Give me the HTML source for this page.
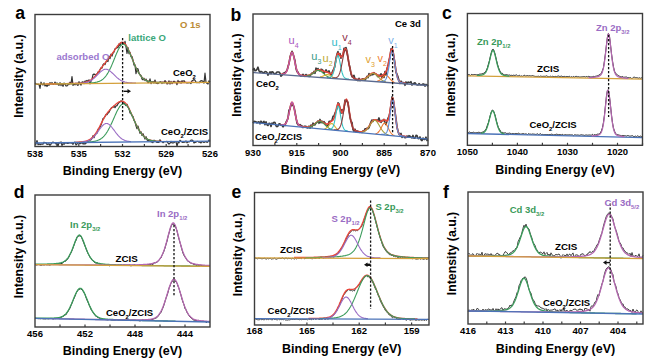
<!DOCTYPE html>
<html><head><meta charset="utf-8"><style>
html,body{margin:0;padding:0;background:#fff;}
svg{display:block;font-family:"Liberation Sans", sans-serif;}
</style></head><body>
<svg width="663" height="363" viewBox="0 0 663 363">
<rect width="663" height="363" fill="#fff"/>
<g>
<path d="M35.0,82.9 L36.0,83.7 L37.0,84.3 L38.0,84.1 L39.0,84.5 L40.0,88.3 L41.0,82.2 L42.0,84.3 L43.0,85.0 L44.0,82.8 L45.0,86.0 L46.0,84.8 L47.0,86.5 L48.0,84.4 L49.0,85.4 L50.0,82.5 L51.0,84.3 L52.0,82.5 L53.0,84.4 L54.0,84.2 L55.0,82.1 L56.0,84.5 L57.0,82.9 L58.0,84.5 L59.0,85.3 L60.0,82.6 L61.0,85.6 L62.0,83.6 L63.0,86.4 L64.0,83.0 L65.0,84.2 L66.0,86.0 L67.0,85.9 L68.0,84.5 L69.0,84.6 L70.0,82.2 L71.0,83.8 L72.0,76.6 L73.0,85.4 L74.0,84.0 L75.0,84.9 L76.0,83.1 L77.0,84.8 L78.0,85.4 L79.0,81.7 L80.0,84.1 L81.0,85.0 L82.0,82.1 L83.0,81.7 L84.0,83.6 L85.0,81.0 L86.0,81.2 L87.0,80.4 L88.0,81.4 L89.0,79.8 L90.0,83.8 L91.0,81.1 L92.0,79.2 L93.0,74.6 L94.0,74.1 L95.0,74.3 L96.0,75.5 L97.0,73.9 L98.0,71.9 L99.0,72.2 L100.0,69.6 L101.0,67.9 L102.0,68.2 L103.0,64.7 L104.0,63.7 L105.0,64.6 L106.0,61.9 L107.0,60.8 L108.0,61.5 L109.0,56.0 L110.0,58.7 L111.0,54.1 L112.0,56.1 L113.0,53.1 L114.0,52.1 L115.0,48.7 L116.0,48.4 L117.0,47.6 L118.0,47.6 L119.0,43.8 L120.0,45.6 L121.0,42.3 L122.0,42.9 L123.0,42.3 L124.0,44.1 L125.0,41.4 L126.0,46.7 L127.0,53.3 L128.0,47.7 L129.0,53.7 L130.0,52.3 L131.0,56.6 L132.0,56.5 L133.0,60.1 L134.0,65.1 L135.0,64.9 L136.0,73.6 L137.0,68.7 L138.0,68.8 L139.0,73.1 L140.0,74.7 L141.0,75.5 L142.0,79.0 L143.0,79.8 L144.0,78.3 L145.0,80.6 L146.0,79.1 L147.0,81.2 L148.0,82.6 L149.0,82.1 L150.0,78.8 L151.0,83.6 L152.0,82.0 L153.0,81.7 L154.0,83.1 L155.0,80.0 L156.0,83.2 L157.0,83.5 L158.0,83.6 L159.0,82.7 L160.0,81.9 L161.0,81.9 L162.0,83.5 L163.0,81.9 L164.0,83.1 L165.0,80.5 L166.0,81.8 L167.0,83.9 L168.0,83.6 L169.0,80.8 L170.0,84.1 L171.0,81.4 L172.0,83.6 L173.0,82.0 L174.0,81.1 L175.0,82.3 L176.0,82.0 L177.0,84.7 L178.0,80.4 L179.0,82.7 L180.0,81.5 L181.0,83.2 L182.0,80.7 L183.0,81.4 L184.0,80.6 L185.0,82.2 L186.0,82.4 L187.0,83.0 L188.0,82.9 L189.0,82.6 L190.0,82.7 L191.0,83.5 L192.0,80.8 L193.0,80.4 L194.0,79.5 L195.0,80.3 L196.0,82.0 L197.0,82.8 L198.0,82.2 L199.0,82.8 L200.0,81.5 L201.0,80.7 L202.0,80.9 L203.0,81.4 L204.0,83.1 L205.0,73.2 L206.0,82.3 L207.0,83.4 L208.0,84.0 L209.0,80.8 L210.0,82.1" stroke="#333" stroke-width="1.2" fill="none" stroke-linejoin="round"/>
<path d="M45.5,83.9 L46.0,83.9 L46.5,83.9 L47.0,83.9 L47.5,83.9 L48.0,83.9 L48.5,83.9 L49.0,83.9 L49.5,83.9 L50.0,83.9 L50.5,83.9 L51.0,83.9 L51.5,83.9 L52.0,83.8 L52.5,83.8 L53.0,83.8 L53.5,83.8 L54.0,83.8 L54.5,83.8 L55.0,83.8 L55.5,83.8 L56.0,83.8 L56.5,83.8 L57.0,83.8 L57.5,83.8 L58.0,83.7 L58.5,83.7 L59.0,83.7 L59.5,83.7 L60.0,83.7 L60.5,83.7 L61.0,83.7 L61.5,83.7 L62.0,83.7 L62.5,83.7 L63.0,83.7 L63.5,83.6 L64.0,83.6 L64.5,83.6 L65.0,83.6 L65.5,83.6 L66.0,83.6 L66.5,83.6 L67.0,83.6 L67.5,83.6 L68.0,83.5 L68.5,83.5 L69.0,83.5 L69.5,83.5 L70.0,83.5 L70.5,83.5 L71.0,83.5 L71.5,83.5 L72.0,83.4 L72.5,83.4 L73.0,83.4 L73.5,83.4 L74.0,83.4 L74.5,83.4 L75.0,83.4 L75.5,83.3 L76.0,83.3 L76.5,83.3 L77.0,83.3 L77.5,83.2 L78.0,83.2 L78.5,83.2 L79.0,83.2 L79.5,83.1 L80.0,83.1 L80.5,83.0 L81.0,83.0 L81.5,83.0 L82.0,82.9 L82.5,82.8 L83.0,82.8 L83.5,82.7 L84.0,82.6 L84.5,82.5 L85.0,82.4 L85.5,82.3 L86.0,82.1 L86.5,82.0 L87.0,81.8 L87.5,81.6 L88.0,81.4 L88.5,81.2 L89.0,81.0 L89.5,80.7 L90.0,80.4 L90.5,80.1 L91.0,79.8 L91.5,79.4 L92.0,79.1 L92.5,78.7 L93.0,78.2 L93.5,77.8 L94.0,77.3 L94.5,76.8 L95.0,76.2 L95.5,75.7 L96.0,75.1 L96.5,74.5 L97.0,73.9 L97.5,73.2 L98.0,72.6 L98.5,71.9 L99.0,71.2 L99.5,70.5 L100.0,69.8 L100.5,69.1 L101.0,68.4 L101.5,67.7 L102.0,67.0 L102.5,66.3 L103.0,65.6 L103.5,65.0 L104.0,64.3 L104.5,63.6 L105.0,63.0 L105.5,62.3 L106.0,61.7 L106.5,61.0 L107.0,60.4 L107.5,59.8 L108.0,59.1 L108.5,58.5 L109.0,57.9 L109.5,57.3 L110.0,56.6 L110.5,56.0 L111.0,55.3 L111.5,54.6 L112.0,53.9 L112.5,53.2 L113.0,52.5 L113.5,51.8 L114.0,51.1 L114.5,50.3 L115.0,49.6 L115.5,48.8 L116.0,48.1 L116.5,47.4 L117.0,46.7 L117.5,46.0 L118.0,45.4 L118.5,44.8 L119.0,44.2 L119.5,43.7 L120.0,43.3 L120.5,42.9 L121.0,42.7 L121.5,42.5 L122.0,42.4 L122.5,42.4 L123.0,42.4 L123.5,42.6 L124.0,42.9 L124.5,43.3 L125.0,43.8 L125.5,44.4 L126.0,45.1 L126.5,45.9 L127.0,46.7 L127.5,47.7 L128.0,48.7 L128.5,49.7 L129.0,50.8 L129.5,52.0 L130.0,53.2 L130.5,54.4 L131.0,55.6 L131.5,56.9 L132.0,58.1 L132.5,59.4 L133.0,60.6 L133.5,61.9 L134.0,63.1 L134.5,64.3 L135.0,65.4 L135.5,66.6 L136.0,67.6 L136.5,68.7 L137.0,69.7 L137.5,70.7 L138.0,71.6 L138.5,72.4 L139.0,73.3 L139.5,74.0 L140.0,74.8 L140.5,75.4 L141.0,76.1 L141.5,76.7 L142.0,77.2 L142.5,77.7 L143.0,78.2 L143.5,78.6 L144.0,79.0 L144.5,79.4 L145.0,79.7 L145.5,80.0 L146.0,80.2 L146.5,80.5 L147.0,80.7 L147.5,80.9 L148.0,81.1 L148.5,81.2 L149.0,81.4 L149.5,81.5 L150.0,81.6 L150.5,81.7 L151.0,81.8 L151.5,81.9 L152.0,81.9 L152.5,82.0 L153.0,82.0 L153.5,82.1 L154.0,82.1 L154.5,82.2 L155.0,82.2 L155.5,82.2 L156.0,82.3 L156.5,82.3 L157.0,82.3 L157.5,82.3 L158.0,82.3 L158.5,82.3 L159.0,82.4 L159.5,82.4 L160.0,82.4 L160.5,82.4 L161.0,82.4 L161.5,82.4 L162.0,82.4 L162.5,82.4 L163.0,82.4 L163.5,82.4 L164.0,82.4 L164.5,82.4 L165.0,82.4 L165.5,82.5 L166.0,82.5 L166.5,82.5 L167.0,82.5 L167.5,82.5 L168.0,82.5 L168.5,82.5 L169.0,82.5 L169.5,82.5 L170.0,82.5 L170.5,82.5 L171.0,82.5 L171.5,82.5 L172.0,82.5 L172.5,82.5 L173.0,82.5 L173.5,82.5 L174.0,82.5 L174.5,82.5 L175.0,82.5 L175.5,82.5 L176.0,82.5 L176.5,82.5 L177.0,82.5 L177.5,82.5 L178.0,82.5 L178.5,82.5 L179.0,82.5 L179.5,82.5 L180.0,82.5 L180.5,82.5 L181.0,82.5 L181.5,82.5 L182.0,82.5 L182.5,82.5 L183.0,82.5 L183.5,82.5 L184.0,82.5 L184.5,82.5 L185.0,82.5 L185.5,82.5 L186.0,82.5 L186.5,82.5 L187.0,82.4 L187.5,82.4 L188.0,82.4 L188.5,82.4 L189.0,82.4 L189.5,82.4 L190.0,82.4 L190.5,82.4 L191.0,82.4 L191.5,82.4 L192.0,82.4 L192.5,82.4 L193.0,82.4 L193.5,82.4 L194.0,82.4 L194.5,82.4" stroke="#e8473c" stroke-width="1.3" fill="none"/>
<path d="M56.0,83.8 L56.5,83.8 L57.0,83.8 L57.5,83.8 L58.0,83.8 L58.5,83.8 L59.0,83.8 L59.5,83.8 L60.0,83.8 L60.5,83.8 L61.0,83.8 L61.5,83.7 L62.0,83.7 L62.5,83.7 L63.0,83.7 L63.5,83.7 L64.0,83.7 L64.5,83.7 L65.0,83.7 L65.5,83.7 L66.0,83.7 L66.5,83.7 L67.0,83.7 L67.5,83.6 L68.0,83.6 L68.5,83.6 L69.0,83.6 L69.5,83.6 L70.0,83.6 L70.5,83.6 L71.0,83.6 L71.5,83.6 L72.0,83.6 L72.5,83.6 L73.0,83.5 L73.5,83.5 L74.0,83.5 L74.5,83.5 L75.0,83.5 L75.5,83.5 L76.0,83.5 L76.5,83.5 L77.0,83.5 L77.5,83.4 L78.0,83.4 L78.5,83.4 L79.0,83.4 L79.5,83.4 L80.0,83.4 L80.5,83.4 L81.0,83.4 L81.5,83.3 L82.0,83.3 L82.5,83.3 L83.0,83.3 L83.5,83.3 L84.0,83.3 L84.5,83.3 L85.0,83.2 L85.5,83.2 L86.0,83.2 L86.5,83.2 L87.0,83.2 L87.5,83.1 L88.0,83.1 L88.5,83.1 L89.0,83.1 L89.5,83.0 L90.0,83.0 L90.5,83.0 L91.0,82.9 L91.5,82.9 L92.0,82.9 L92.5,82.8 L93.0,82.8 L93.5,82.7 L94.0,82.6 L94.5,82.6 L95.0,82.5 L95.5,82.4 L96.0,82.3 L96.5,82.2 L97.0,82.1 L97.5,81.9 L98.0,81.8 L98.5,81.6 L99.0,81.4 L99.5,81.2 L100.0,81.0 L100.5,80.8 L101.0,80.5 L101.5,80.2 L102.0,79.8 L102.5,79.5 L103.0,79.1 L103.5,78.6 L104.0,78.2 L104.5,77.7 L105.0,77.1 L105.5,76.5 L106.0,75.9 L106.5,75.2 L107.0,74.4 L107.5,73.6 L108.0,72.8 L108.5,71.9 L109.0,71.0 L109.5,70.0 L110.0,69.0 L110.5,68.0 L111.0,66.9 L111.5,65.8 L112.0,64.6 L112.5,63.4 L113.0,62.2 L113.5,61.0 L114.0,59.7 L114.5,58.5 L115.0,57.3 L115.5,56.0 L116.0,54.8 L116.5,53.6 L117.0,52.5 L117.5,51.4 L118.0,50.3 L118.5,49.3 L119.0,48.4 L119.5,47.5 L120.0,46.7 L120.5,46.1 L121.0,45.5 L121.5,45.0 L122.0,44.7 L122.5,44.4 L123.0,44.3 L123.5,44.3 L124.0,44.4 L124.5,44.7 L125.0,45.0 L125.5,45.5 L126.0,46.1 L126.5,46.7 L127.0,47.5 L127.5,48.3 L128.0,49.3 L128.5,50.3 L129.0,51.3 L129.5,52.4 L130.0,53.6 L130.5,54.8 L131.0,56.0 L131.5,57.2 L132.0,58.4 L132.5,59.6 L133.0,60.9 L133.5,62.1 L134.0,63.3 L134.5,64.5 L135.0,65.6 L135.5,66.7 L136.0,67.8 L136.5,68.8 L137.0,69.8 L137.5,70.8 L138.0,71.7 L138.5,72.6 L139.0,73.4 L139.5,74.2 L140.0,74.9 L140.5,75.6 L141.0,76.2 L141.5,76.8 L142.0,77.3 L142.5,77.8 L143.0,78.3 L143.5,78.7 L144.0,79.1 L144.5,79.4 L145.0,79.8 L145.5,80.1 L146.0,80.3 L146.5,80.6 L147.0,80.8 L147.5,81.0 L148.0,81.1 L148.5,81.3 L149.0,81.4 L149.5,81.6 L150.0,81.7 L150.5,81.8 L151.0,81.8 L151.5,81.9 L152.0,82.0 L152.5,82.0 L153.0,82.1 L153.5,82.1 L154.0,82.2 L154.5,82.2 L155.0,82.3 L155.5,82.3 L156.0,82.3 L156.5,82.3 L157.0,82.3 L157.5,82.4 L158.0,82.4 L158.5,82.4 L159.0,82.4 L159.5,82.4 L160.0,82.4 L160.5,82.4 L161.0,82.4 L161.5,82.5 L162.0,82.5 L162.5,82.5 L163.0,82.5 L163.5,82.5 L164.0,82.5 L164.5,82.5 L165.0,82.5 L165.5,82.5 L166.0,82.5 L166.5,82.5 L167.0,82.5 L167.5,82.5 L168.0,82.5 L168.5,82.5 L169.0,82.5 L169.5,82.5 L170.0,82.5 L170.5,82.5 L171.0,82.5 L171.5,82.5 L172.0,82.5 L172.5,82.5 L173.0,82.5 L173.5,82.5 L174.0,82.5 L174.5,82.5 L175.0,82.5 L175.5,82.5 L176.0,82.5 L176.5,82.5 L177.0,82.5 L177.5,82.5 L178.0,82.5 L178.5,82.5 L179.0,82.5 L179.5,82.5 L180.0,82.5 L180.5,82.5 L181.0,82.5 L181.5,82.5 L182.0,82.5 L182.5,82.5 L183.0,82.5 L183.5,82.5 L184.0,82.5 L184.5,82.5 L185.0,82.5 L185.5,82.5 L186.0,82.5 L186.5,82.5 L187.0,82.5 L187.5,82.5 L188.0,82.5 L188.5,82.5 L189.0,82.5 L189.5,82.5 L190.0,82.5 L190.5,82.4" stroke="#3c9c5c" stroke-width="1.1" fill="none"/>
<path d="M75.5,83.6 L76.0,83.6 L76.5,83.6 L77.0,83.6 L77.5,83.6 L78.0,83.5 L78.5,83.5 L79.0,83.5 L79.5,83.5 L80.0,83.4 L80.5,83.4 L81.0,83.4 L81.5,83.3 L82.0,83.3 L82.5,83.2 L83.0,83.2 L83.5,83.1 L84.0,83.0 L84.5,82.9 L85.0,82.8 L85.5,82.7 L86.0,82.6 L86.5,82.5 L87.0,82.3 L87.5,82.2 L88.0,82.0 L88.5,81.8 L89.0,81.6 L89.5,81.3 L90.0,81.1 L90.5,80.8 L91.0,80.5 L91.5,80.2 L92.0,79.8 L92.5,79.4 L93.0,79.1 L93.5,78.7 L94.0,78.2 L94.5,77.8 L95.0,77.3 L95.5,76.8 L96.0,76.4 L96.5,75.9 L97.0,75.4 L97.5,74.8 L98.0,74.3 L98.5,73.8 L99.0,73.3 L99.5,72.8 L100.0,72.4 L100.5,71.9 L101.0,71.5 L101.5,71.1 L102.0,70.7 L102.5,70.4 L103.0,70.1 L103.5,69.8 L104.0,69.6 L104.5,69.4 L105.0,69.3 L105.5,69.3 L106.0,69.3 L106.5,69.3 L107.0,69.4 L107.5,69.6 L108.0,69.8 L108.5,70.0 L109.0,70.3 L109.5,70.7 L110.0,71.0 L110.5,71.4 L111.0,71.8 L111.5,72.3 L112.0,72.8 L112.5,73.2 L113.0,73.7 L113.5,74.2 L114.0,74.7 L114.5,75.2 L115.0,75.7 L115.5,76.2 L116.0,76.7 L116.5,77.1 L117.0,77.6 L117.5,78.0 L118.0,78.4 L118.5,78.8 L119.0,79.2 L119.5,79.6 L120.0,79.9 L120.5,80.2 L121.0,80.5 L121.5,80.8 L122.0,81.0 L122.5,81.2 L123.0,81.4 L123.5,81.6 L124.0,81.8 L124.5,81.9 L125.0,82.1 L125.5,82.2 L126.0,82.3 L126.5,82.4 L127.0,82.5 L127.5,82.6 L128.0,82.6 L128.5,82.7 L129.0,82.8 L129.5,82.8 L130.0,82.8 L130.5,82.9 L131.0,82.9 L131.5,82.9 L132.0,82.9 L132.5,83.0 L133.0,83.0 L133.5,83.0 L134.0,83.0 L134.5,83.0 L135.0,83.0 L135.5,83.0 L136.0,83.0" stroke="#9a6cc4" stroke-width="1.1" fill="none"/>
<path d="M35.0,84.2 L210.0,82.4" stroke="#d4a13c" stroke-width="1.3" fill="none"/>
<path d="M35.0,144.3 L36.0,144.2 L37.0,140.5 L38.0,144.7 L39.0,143.8 L40.0,144.6 L41.0,144.1 L42.0,144.0 L43.0,144.1 L44.0,142.2 L45.0,142.7 L46.0,142.6 L47.0,144.5 L48.0,144.1 L49.0,143.9 L50.0,145.3 L51.0,144.2 L52.0,142.7 L53.0,142.0 L54.0,142.7 L55.0,142.5 L56.0,144.0 L57.0,142.9 L58.0,146.4 L59.0,142.4 L60.0,142.9 L61.0,141.8 L62.0,145.6 L63.0,143.6 L64.0,144.3 L65.0,143.2 L66.0,142.5 L67.0,143.4 L68.0,143.4 L69.0,142.7 L70.0,142.8 L71.0,142.9 L72.0,143.2 L73.0,144.3 L74.0,142.7 L75.0,141.9 L76.0,145.0 L77.0,144.0 L78.0,142.5 L79.0,143.2 L80.0,143.6 L81.0,143.4 L82.0,142.2 L83.0,144.0 L84.0,143.6 L85.0,144.0 L86.0,143.2 L87.0,141.8 L88.0,141.3 L89.0,140.8 L90.0,140.3 L91.0,139.8 L92.0,138.5 L93.0,135.6 L94.0,137.7 L95.0,134.9 L96.0,133.8 L97.0,133.2 L98.0,129.4 L99.0,128.5 L100.0,127.2 L101.0,125.0 L102.0,122.0 L103.0,118.6 L104.0,118.0 L105.0,116.4 L106.0,114.4 L107.0,114.6 L108.0,113.1 L109.0,112.2 L110.0,110.1 L111.0,108.5 L112.0,107.3 L113.0,107.3 L114.0,106.0 L115.0,107.7 L116.0,105.9 L117.0,105.7 L118.0,103.8 L119.0,102.6 L120.0,102.0 L121.0,100.8 L122.0,101.4 L123.0,103.9 L124.0,102.7 L125.0,104.5 L126.0,105.5 L127.0,104.3 L128.0,107.0 L129.0,108.5 L130.0,112.9 L131.0,113.4 L132.0,115.8 L133.0,116.5 L134.0,120.5 L135.0,121.8 L136.0,125.9 L137.0,128.7 L138.0,126.1 L139.0,129.7 L140.0,133.3 L141.0,131.7 L142.0,135.5 L143.0,133.7 L144.0,136.2 L145.0,139.1 L146.0,136.6 L147.0,139.8 L148.0,140.7 L149.0,140.6 L150.0,140.4 L151.0,141.7 L152.0,142.1 L153.0,142.6 L154.0,140.1 L155.0,140.9 L156.0,141.6 L157.0,142.5 L158.0,142.3 L159.0,142.3 L160.0,139.7 L161.0,141.5 L162.0,141.6 L163.0,142.7 L164.0,141.8 L165.0,141.5 L166.0,141.6 L167.0,141.4 L168.0,143.0 L169.0,144.1 L170.0,143.3 L171.0,141.4 L172.0,142.9 L173.0,142.8 L174.0,142.6 L175.0,141.7 L176.0,141.5 L177.0,146.4 L178.0,142.4 L179.0,142.8 L180.0,140.3 L181.0,141.1 L182.0,142.1 L183.0,142.5 L184.0,142.0 L185.0,142.1 L186.0,141.0 L187.0,142.8 L188.0,141.7 L189.0,141.9 L190.0,141.4 L191.0,140.2 L192.0,140.1 L193.0,140.8 L194.0,142.9 L195.0,142.5 L196.0,142.1 L197.0,141.4 L198.0,141.5 L199.0,142.2 L200.0,142.2 L201.0,142.9 L202.0,141.5 L203.0,141.9 L204.0,142.5 L205.0,142.0 L206.0,141.5 L207.0,142.4 L208.0,141.8 L209.0,140.0 L210.0,141.3" stroke="#333" stroke-width="1.2" fill="none" stroke-linejoin="round"/>
<path d="M76.0,142.2 L76.5,142.2 L77.0,142.1 L77.5,142.1 L78.0,142.1 L78.5,142.1 L79.0,142.0 L79.5,142.0 L80.0,142.0 L80.5,141.9 L81.0,141.9 L81.5,141.9 L82.0,141.8 L82.5,141.8 L83.0,141.7 L83.5,141.6 L84.0,141.5 L84.5,141.4 L85.0,141.3 L85.5,141.2 L86.0,141.1 L86.5,140.9 L87.0,140.8 L87.5,140.6 L88.0,140.4 L88.5,140.2 L89.0,139.9 L89.5,139.6 L90.0,139.3 L90.5,139.0 L91.0,138.6 L91.5,138.2 L92.0,137.8 L92.5,137.3 L93.0,136.8 L93.5,136.2 L94.0,135.6 L94.5,135.0 L95.0,134.3 L95.5,133.6 L96.0,132.9 L96.5,132.1 L97.0,131.3 L97.5,130.4 L98.0,129.5 L98.5,128.6 L99.0,127.7 L99.5,126.8 L100.0,125.8 L100.5,124.8 L101.0,123.9 L101.5,122.9 L102.0,121.9 L102.5,121.0 L103.0,120.0 L103.5,119.1 L104.0,118.2 L104.5,117.3 L105.0,116.4 L105.5,115.6 L106.0,114.8 L106.5,114.0 L107.0,113.3 L107.5,112.6 L108.0,112.0 L108.5,111.4 L109.0,110.8 L109.5,110.2 L110.0,109.7 L110.5,109.1 L111.0,108.6 L111.5,108.1 L112.0,107.7 L112.5,107.2 L113.0,106.7 L113.5,106.3 L114.0,105.8 L114.5,105.4 L115.0,104.9 L115.5,104.5 L116.0,104.1 L116.5,103.7 L117.0,103.3 L117.5,102.9 L118.0,102.6 L118.5,102.2 L119.0,101.9 L119.5,101.7 L120.0,101.5 L120.5,101.3 L121.0,101.2 L121.5,101.1 L122.0,101.1 L122.5,101.2 L123.0,101.3 L123.5,101.5 L124.0,101.8 L124.5,102.2 L125.0,102.6 L125.5,103.1 L126.0,103.7 L126.5,104.4 L127.0,105.1 L127.5,105.9 L128.0,106.7 L128.5,107.6 L129.0,108.6 L129.5,109.6 L130.0,110.6 L130.5,111.7 L131.0,112.8 L131.5,113.9 L132.0,115.0 L132.5,116.2 L133.0,117.3 L133.5,118.5 L134.0,119.6 L134.5,120.7 L135.0,121.9 L135.5,123.0 L136.0,124.1 L136.5,125.1 L137.0,126.1 L137.5,127.1 L138.0,128.1 L138.5,129.0 L139.0,129.9 L139.5,130.7 L140.0,131.5 L140.5,132.3 L141.0,133.0 L141.5,133.7 L142.0,134.3 L142.5,134.9 L143.0,135.5 L143.5,136.0 L144.0,136.5 L144.5,137.0 L145.0,137.4 L145.5,137.8 L146.0,138.1 L146.5,138.5 L147.0,138.7 L147.5,139.0 L148.0,139.3 L148.5,139.5 L149.0,139.7 L149.5,139.9 L150.0,140.0 L150.5,140.2 L151.0,140.3 L151.5,140.4 L152.0,140.5 L152.5,140.6 L153.0,140.7 L153.5,140.8 L154.0,140.9 L154.5,140.9 L155.0,141.0 L155.5,141.0 L156.0,141.1 L156.5,141.1 L157.0,141.1 L157.5,141.2 L158.0,141.2 L158.5,141.2 L159.0,141.2 L159.5,141.2 L160.0,141.2 L160.5,141.3 L161.0,141.3 L161.5,141.3 L162.0,141.3" stroke="#e8473c" stroke-width="1.3" fill="none"/>
<path d="M87.0,142.1 L87.5,142.0 L88.0,142.0 L88.5,142.0 L89.0,142.0 L89.5,141.9 L90.0,141.9 L90.5,141.8 L91.0,141.8 L91.5,141.7 L92.0,141.7 L92.5,141.6 L93.0,141.6 L93.5,141.5 L94.0,141.4 L94.5,141.3 L95.0,141.2 L95.5,141.1 L96.0,141.0 L96.5,140.8 L97.0,140.7 L97.5,140.5 L98.0,140.3 L98.5,140.1 L99.0,139.9 L99.5,139.6 L100.0,139.4 L100.5,139.0 L101.0,138.7 L101.5,138.4 L102.0,138.0 L102.5,137.5 L103.0,137.1 L103.5,136.6 L104.0,136.1 L104.5,135.5 L105.0,134.9 L105.5,134.3 L106.0,133.6 L106.5,132.8 L107.0,132.1 L107.5,131.3 L108.0,130.4 L108.5,129.5 L109.0,128.6 L109.5,127.7 L110.0,126.7 L110.5,125.6 L111.0,124.6 L111.5,123.5 L112.0,122.4 L112.5,121.3 L113.0,120.2 L113.5,119.0 L114.0,117.9 L114.5,116.8 L115.0,115.6 L115.5,114.5 L116.0,113.4 L116.5,112.3 L117.0,111.3 L117.5,110.3 L118.0,109.4 L118.5,108.5 L119.0,107.7 L119.5,106.9 L120.0,106.2 L120.5,105.6 L121.0,105.1 L121.5,104.6 L122.0,104.3 L122.5,104.0 L123.0,103.8 L123.5,103.8 L124.0,103.8 L124.5,104.0 L125.0,104.2 L125.5,104.5 L126.0,105.0 L126.5,105.5 L127.0,106.1 L127.5,106.7 L128.0,107.5 L128.5,108.3 L129.0,109.2 L129.5,110.1 L130.0,111.1 L130.5,112.1 L131.0,113.2 L131.5,114.3 L132.0,115.4 L132.5,116.5 L133.0,117.6 L133.5,118.7 L134.0,119.9 L134.5,121.0 L135.0,122.1 L135.5,123.2 L136.0,124.2 L136.5,125.3 L137.0,126.3 L137.5,127.3 L138.0,128.2 L138.5,129.2 L139.0,130.0 L139.5,130.9 L140.0,131.7 L140.5,132.4 L141.0,133.2 L141.5,133.8 L142.0,134.5 L142.5,135.1 L143.0,135.6 L143.5,136.1 L144.0,136.6 L144.5,137.1 L145.0,137.5 L145.5,137.9 L146.0,138.2 L146.5,138.6 L147.0,138.8 L147.5,139.1 L148.0,139.4 L148.5,139.6 L149.0,139.8 L149.5,140.0 L150.0,140.1 L150.5,140.3 L151.0,140.4 L151.5,140.5 L152.0,140.6 L152.5,140.7 L153.0,140.8 L153.5,140.9 L154.0,140.9 L154.5,141.0 L155.0,141.0 L155.5,141.1 L156.0,141.1 L156.5,141.2 L157.0,141.2 L157.5,141.2 L158.0,141.2 L158.5,141.3 L159.0,141.3 L159.5,141.3 L160.0,141.3" stroke="#3c9c5c" stroke-width="1.1" fill="none"/>
<path d="M82.0,142.1 L82.5,142.1 L83.0,142.0 L83.5,141.9 L84.0,141.9 L84.5,141.8 L85.0,141.7 L85.5,141.6 L86.0,141.5 L86.5,141.3 L87.0,141.2 L87.5,141.0 L88.0,140.8 L88.5,140.6 L89.0,140.4 L89.5,140.2 L90.0,139.9 L90.5,139.6 L91.0,139.2 L91.5,138.9 L92.0,138.5 L92.5,138.1 L93.0,137.6 L93.5,137.1 L94.0,136.6 L94.5,136.0 L95.0,135.5 L95.5,134.9 L96.0,134.2 L96.5,133.6 L97.0,132.9 L97.5,132.3 L98.0,131.6 L98.5,130.9 L99.0,130.2 L99.5,129.5 L100.0,128.8 L100.5,128.1 L101.0,127.5 L101.5,126.8 L102.0,126.3 L102.5,125.7 L103.0,125.2 L103.5,124.8 L104.0,124.4 L104.5,124.1 L105.0,123.8 L105.5,123.6 L106.0,123.5 L106.5,123.5 L107.0,123.5 L107.5,123.6 L108.0,123.8 L108.5,124.1 L109.0,124.4 L109.5,124.8 L110.0,125.2 L110.5,125.7 L111.0,126.3 L111.5,126.8 L112.0,127.5 L112.5,128.1 L113.0,128.8 L113.5,129.4 L114.0,130.1 L114.5,130.8 L115.0,131.5 L115.5,132.2 L116.0,132.9 L116.5,133.5 L117.0,134.1 L117.5,134.7 L118.0,135.3 L118.5,135.9 L119.0,136.4 L119.5,136.9 L120.0,137.4 L120.5,137.8 L121.0,138.2 L121.5,138.6 L122.0,139.0 L122.5,139.3 L123.0,139.6 L123.5,139.8 L124.0,140.1 L124.5,140.3 L125.0,140.5 L125.5,140.7 L126.0,140.8 L126.5,141.0 L127.0,141.1 L127.5,141.2 L128.0,141.3 L128.5,141.3 L129.0,141.4 L129.5,141.5 L130.0,141.5 L130.5,141.6 L131.0,141.6" stroke="#9a6cc4" stroke-width="1.1" fill="none"/>
<path d="M35.0,143.0 L210.0,141.2" stroke="#4b73b8" stroke-width="1.3" fill="none"/>
<path d="M122.6,38.0 L122.6,120.0" stroke="#111" stroke-width="1.3" stroke-dasharray="2.2,1.8" fill="none"/>
<path d="M123.5,91.3 L129.0,91.3" stroke="#111" stroke-width="1.4" fill="none"/>
<path d="M131.0,91.3 L127.5,89.0 L127.5,93.6 Z" fill="#111"/>
<rect x="35" y="14.5" width="175" height="132.0" fill="none" stroke="#3c3c3c" stroke-width="1.4"/>
<path d="M56.9,146.5 L56.9,144.0" stroke="#3c3c3c" stroke-width="1.2"/>
<path d="M78.8,146.5 L78.8,144.0" stroke="#3c3c3c" stroke-width="1.2"/>
<path d="M100.6,146.5 L100.6,144.0" stroke="#3c3c3c" stroke-width="1.2"/>
<path d="M122.5,146.5 L122.5,144.0" stroke="#3c3c3c" stroke-width="1.2"/>
<path d="M144.4,146.5 L144.4,144.0" stroke="#3c3c3c" stroke-width="1.2"/>
<path d="M166.2,146.5 L166.2,144.0" stroke="#3c3c3c" stroke-width="1.2"/>
<path d="M188.1,146.5 L188.1,144.0" stroke="#3c3c3c" stroke-width="1.2"/>
<text x="35.0" y="157.0" font-size="9.5" fill="#000" font-weight="bold" text-anchor="middle" >538</text>
<text x="78.8" y="157.0" font-size="9.5" fill="#000" font-weight="bold" text-anchor="middle" >535</text>
<text x="122.5" y="157.0" font-size="9.5" fill="#000" font-weight="bold" text-anchor="middle" >532</text>
<text x="166.2" y="157.0" font-size="9.5" fill="#000" font-weight="bold" text-anchor="middle" >529</text>
<text x="210.0" y="157.0" font-size="9.5" fill="#000" font-weight="bold" text-anchor="middle" >526</text>
<text x="122.5" y="175.0" font-size="12.5" fill="#000" font-weight="bold" text-anchor="middle" >Binding Energy (eV)</text>
<text x="0.0" y="0.0" font-size="12.3" fill="#000" font-weight="bold" text-anchor="middle" transform="translate(23.0,76.1) rotate(-90)">Intensity (a.u.)</text>
<text x="15.2" y="19.0" font-size="17.6" fill="#000" font-weight="bold" text-anchor="start" >a</text>
<text x="180.0" y="28.0" font-size="9.5" fill="#bb8b34" font-weight="bold" text-anchor="start" >O 1s</text>
<text x="128.3" y="40.5" font-size="9.5" fill="#3aa77a" font-weight="bold" text-anchor="start" >lattice O</text>
<text x="56.5" y="59.8" font-size="9.5" fill="#9b78cf" font-weight="bold" text-anchor="start" >adsorbed O</text>
<text x="173.0" y="75.8" font-size="9.5" fill="#000" font-weight="bold" text-anchor="start" >CeO<tspan font-size="5.89" dy="3.0">2</tspan></text>
<text x="161.0" y="134.5" font-size="9.5" fill="#000" font-weight="bold" text-anchor="start" >CeO<tspan font-size="5.89" dy="3.0">2</tspan><tspan dy="-3.0">/ZCIS</tspan></text>
</g>
<g>
<path d="M253.0,70.3 L254.0,68.4 L255.0,70.8 L256.0,70.5 L257.0,69.2 L258.0,67.1 L259.0,70.9 L260.0,72.4 L261.0,71.4 L262.0,72.1 L263.0,72.5 L264.0,73.2 L265.0,71.6 L266.0,71.7 L267.0,72.5 L268.0,75.2 L269.0,73.5 L270.0,71.8 L271.0,73.9 L272.0,71.7 L273.0,72.1 L274.0,73.7 L275.0,73.6 L276.0,73.2 L277.0,72.0 L278.0,72.0 L279.0,72.0 L280.0,73.3 L281.0,76.3 L282.0,75.3 L283.0,73.4 L284.0,72.9 L285.0,72.5 L286.0,71.5 L287.0,70.5 L288.0,66.5 L289.0,63.5 L290.0,57.3 L291.0,53.7 L292.0,51.3 L293.0,53.6 L294.0,57.1 L295.0,60.8 L296.0,68.4 L297.0,71.8 L298.0,72.1 L299.0,74.4 L300.0,75.3 L301.0,76.0 L302.0,75.4 L303.0,74.4 L304.0,75.4 L305.0,76.3 L306.0,74.5 L307.0,76.1 L308.0,75.3 L309.0,76.5 L310.0,76.2 L311.0,74.4 L312.0,73.1 L313.0,73.5 L314.0,71.4 L315.0,73.4 L316.0,68.1 L317.0,70.0 L318.0,68.5 L319.0,70.5 L320.0,70.9 L321.0,69.2 L322.0,69.6 L323.0,70.4 L324.0,73.3 L325.0,72.0 L326.0,69.8 L327.0,72.2 L328.0,71.4 L329.0,70.9 L330.0,73.6 L331.0,75.3 L332.0,72.7 L333.0,70.3 L334.0,68.7 L335.0,65.4 L336.0,58.1 L337.0,54.1 L338.0,51.6 L339.0,55.1 L340.0,53.7 L341.0,58.3 L342.0,55.9 L343.0,55.2 L344.0,48.3 L345.0,48.4 L346.0,47.5 L347.0,51.3 L348.0,57.2 L349.0,64.0 L350.0,67.2 L351.0,74.0 L352.0,76.6 L353.0,76.5 L354.0,75.4 L355.0,78.8 L356.0,79.5 L357.0,79.6 L358.0,80.7 L359.0,78.3 L360.0,80.7 L361.0,79.6 L362.0,79.4 L363.0,78.7 L364.0,79.2 L365.0,80.1 L366.0,78.5 L367.0,76.3 L368.0,77.7 L369.0,73.5 L370.0,75.6 L371.0,74.8 L372.0,74.6 L373.0,74.6 L374.0,72.7 L375.0,74.0 L376.0,74.0 L377.0,75.7 L378.0,76.6 L379.0,75.1 L380.0,76.4 L381.0,73.8 L382.0,77.7 L383.0,74.7 L384.0,77.4 L385.0,71.5 L386.0,74.6 L387.0,68.6 L388.0,65.8 L389.0,60.2 L390.0,57.3 L391.0,48.8 L392.0,48.6 L393.0,51.3 L394.0,58.0 L395.0,63.8 L396.0,72.4 L397.0,74.2 L398.0,76.9 L399.0,80.5 L400.0,83.4 L401.0,81.1 L402.0,82.5 L403.0,82.6 L404.0,82.8 L405.0,85.3 L406.0,81.9 L407.0,83.7 L408.0,82.1 L409.0,82.5 L410.0,82.5 L411.0,81.7 L412.0,85.1 L413.0,83.9 L414.0,83.3 L415.0,82.8 L416.0,84.2 L417.0,84.7 L418.0,85.0 L419.0,83.6 L420.0,84.6 L421.0,84.8 L422.0,84.5 L423.0,84.1 L424.0,84.1 L425.0,86.2 L426.0,84.4 L427.0,84.9 L428.0,86.3" stroke="#3a3a3a" stroke-width="1.6" fill="none" stroke-linejoin="round"/>
<path d="M281.0,74.2 L281.5,74.2 L282.0,74.1 L282.5,74.1 L283.0,74.1 L283.5,74.0 L284.0,73.9 L284.5,73.7 L285.0,73.4 L285.5,73.0 L286.0,72.3 L286.5,71.5 L287.0,70.4 L287.5,69.0 L288.0,67.3 L288.5,65.3 L289.0,63.0 L289.5,60.6 L290.0,58.2 L290.5,55.9 L291.0,54.1 L291.5,52.8 L292.0,52.3 L292.5,52.6 L293.0,53.7 L293.5,55.5 L294.0,57.7 L294.5,60.1 L295.0,62.6 L295.5,65.0 L296.0,67.2 L296.5,69.1 L297.0,70.6 L297.5,71.9 L298.0,72.9 L298.5,73.7 L299.0,74.2 L299.5,74.6 L300.0,74.9 L300.5,75.1 L301.0,75.3 L301.5,75.4 L302.0,75.5 L302.5,75.5 L303.0,75.6 L303.5,75.6 L304.0,75.7 L304.5,75.7 L305.0,75.7 L305.5,75.7 L306.0,75.7 L306.5,75.7 L307.0,75.6 L307.5,75.6 L308.0,75.5 L308.5,75.3 L309.0,75.2 L309.5,75.0 L310.0,74.8 L310.5,74.6 L311.0,74.3 L311.5,74.0 L312.0,73.7 L312.5,73.3 L313.0,73.0 L313.5,72.6 L314.0,72.2 L314.5,71.8 L315.0,71.4 L315.5,71.1 L316.0,70.8 L316.5,70.5 L317.0,70.2 L317.5,70.0 L318.0,69.9 L318.5,69.8 L319.0,69.8 L319.5,69.8 L320.0,69.9 L320.5,70.0 L321.0,70.2 L321.5,70.4 L322.0,70.6 L322.5,70.8 L323.0,70.9 L323.5,71.1 L324.0,71.2 L324.5,71.4 L325.0,71.5 L325.5,71.7 L326.0,71.8 L326.5,71.9 L327.0,72.1 L327.5,72.3 L328.0,72.5 L328.5,72.7 L329.0,73.0 L329.5,73.2 L330.0,73.5 L330.5,73.6 L331.0,73.7 L331.5,73.6 L332.0,73.3 L332.5,72.7 L333.0,71.8 L333.5,70.6 L334.0,69.0 L334.5,67.0 L335.0,64.7 L335.5,62.2 L336.0,59.7 L336.5,57.3 L337.0,55.3 L337.5,53.9 L338.0,53.2 L338.5,53.2 L339.0,53.8 L339.5,54.7 L340.0,55.7 L340.5,56.5 L341.0,56.9 L341.5,56.9 L342.0,56.3 L342.5,55.2 L343.0,53.8 L343.5,52.2 L344.0,50.7 L344.5,49.5 L345.0,48.7 L345.5,48.7 L346.0,49.4 L346.5,50.8 L347.0,52.9 L347.5,55.4 L348.0,58.1 L348.5,61.0 L349.0,63.8 L349.5,66.4 L350.0,68.9 L350.5,71.0 L351.0,72.8 L351.5,74.3 L352.0,75.5 L352.5,76.5 L353.0,77.2 L353.5,77.8 L354.0,78.2 L354.5,78.5 L355.0,78.8 L355.5,78.9 L356.0,79.1 L356.5,79.2 L357.0,79.3 L357.5,79.4 L358.0,79.4 L358.5,79.5 L359.0,79.5 L359.5,79.6 L360.0,79.6 L360.5,79.6 L361.0,79.6 L361.5,79.5 L362.0,79.4 L362.5,79.4 L363.0,79.2 L363.5,79.1 L364.0,78.9 L364.5,78.7 L365.0,78.5 L365.5,78.2 L366.0,77.9 L366.5,77.5 L367.0,77.1 L367.5,76.7 L368.0,76.3 L368.5,75.9 L369.0,75.4 L369.5,75.0 L370.0,74.6 L370.5,74.2 L371.0,73.8 L371.5,73.5 L372.0,73.3 L372.5,73.1 L373.0,73.0 L373.5,73.0 L374.0,73.1 L374.5,73.2 L375.0,73.4 L375.5,73.7 L376.0,74.0 L376.5,74.3 L377.0,74.7 L377.5,75.0 L378.0,75.3 L378.5,75.6 L379.0,75.8 L379.5,76.0 L380.0,76.1 L380.5,76.1 L381.0,76.0 L381.5,75.8 L382.0,75.6 L382.5,75.3 L383.0,74.9 L383.5,74.5 L384.0,74.0 L384.5,73.5 L385.0,72.9 L385.5,72.2 L386.0,71.4 L386.5,70.4 L387.0,69.2 L387.5,67.6 L388.0,65.7 L388.5,63.4 L389.0,60.8 L389.5,58.0 L390.0,55.2 L390.5,52.7 L391.0,50.5 L391.5,49.2 L392.0,48.8 L392.5,49.5 L393.0,51.2 L393.5,53.9 L394.0,57.1 L394.5,60.6 L395.0,64.2 L395.5,67.7 L396.0,70.8 L396.5,73.5 L397.0,75.8 L397.5,77.7 L398.0,79.1 L398.5,80.2 L399.0,81.0 L399.5,81.5 L400.0,82.0 L400.5,82.3 L401.0,82.5 L401.5,82.7 L402.0,82.8 L402.5,82.9 L403.0,83.0 L403.5,83.1 L404.0,83.2 L404.5,83.2 L405.0,83.3 L405.5,83.4 L406.0,83.4" stroke="#e8473c" stroke-width="1.6" fill="none"/>
<path d="M282.0,74.2 L282.5,74.2 L283.0,74.1 L283.5,74.1 L284.0,74.0 L284.5,73.8 L285.0,73.5 L285.5,73.0 L286.0,72.4 L286.5,71.6 L287.0,70.5 L287.5,69.1 L288.0,67.4 L288.5,65.3 L289.0,63.1 L289.5,60.7 L290.0,58.3 L290.5,56.0 L291.0,54.2 L291.5,52.9 L292.0,52.4 L292.5,52.7 L293.0,53.8 L293.5,55.6 L294.0,57.8 L294.5,60.2 L295.0,62.7 L295.5,65.1 L296.0,67.3 L296.5,69.2 L297.0,70.8 L297.5,72.1 L298.0,73.1 L298.5,73.8 L299.0,74.4 L299.5,74.8 L300.0,75.1 L300.5,75.3 L301.0,75.5 L301.5,75.6 L302.0,75.7 L302.5,75.8" stroke="#b45cb4" stroke-width="1.1" fill="none"/>
<path d="M306.5,76.0 L307.0,76.0 L307.5,75.9 L308.0,75.8 L308.5,75.7 L309.0,75.5 L309.5,75.3 L310.0,75.1 L310.5,74.9 L311.0,74.6 L311.5,74.3 L312.0,74.0 L312.5,73.7 L313.0,73.3 L313.5,72.9 L314.0,72.5 L314.5,72.1 L315.0,71.8 L315.5,71.4 L316.0,71.1 L316.5,70.9 L317.0,70.6 L317.5,70.5 L318.0,70.4 L318.5,70.4 L319.0,70.4 L319.5,70.6 L320.0,70.8 L320.5,71.0 L321.0,71.3 L321.5,71.7 L322.0,72.1 L322.5,72.5 L323.0,73.0 L323.5,73.4 L324.0,73.9 L324.5,74.3 L325.0,74.8 L325.5,75.2 L326.0,75.6 L326.5,75.9 L327.0,76.3 L327.5,76.6 L328.0,76.8 L328.5,77.1 L329.0,77.3 L329.5,77.5 L330.0,77.6 L330.5,77.8 L331.0,77.9" stroke="#4a9a50" stroke-width="1.1" fill="none"/>
<path d="M320.0,77.0 L320.5,76.9 L321.0,76.8 L321.5,76.7 L322.0,76.5 L322.5,76.3 L323.0,76.1 L323.5,75.9 L324.0,75.6 L324.5,75.4 L325.0,75.2 L325.5,74.9 L326.0,74.8 L326.5,74.6 L327.0,74.6 L327.5,74.5 L328.0,74.6 L328.5,74.7 L329.0,74.9 L329.5,75.1 L330.0,75.4 L330.5,75.7 L331.0,76.0 L331.5,76.3 L332.0,76.6 L332.5,76.9 L333.0,77.2 L333.5,77.4 L334.0,77.7 L334.5,77.9 L335.0,78.1 L335.5,78.2" stroke="#d8b030" stroke-width="1.1" fill="none"/>
<path d="M327.0,77.6 L327.5,77.6 L328.0,77.6 L328.5,77.5 L329.0,77.5 L329.5,77.4 L330.0,77.3 L330.5,77.1 L331.0,76.8 L331.5,76.4 L332.0,75.8 L332.5,75.0 L333.0,73.8 L333.5,72.4 L334.0,70.6 L334.5,68.5 L335.0,66.2 L335.5,63.7 L336.0,61.2 L336.5,58.9 L337.0,57.1 L337.5,56.0 L338.0,55.8 L338.5,56.6 L339.0,58.1 L339.5,60.2 L340.0,62.7 L340.5,65.3 L341.0,67.8 L341.5,70.1 L342.0,72.2 L342.5,73.8 L343.0,75.2 L343.5,76.2 L344.0,77.0 L344.5,77.6 L345.0,78.0 L345.5,78.3 L346.0,78.6 L346.5,78.7 L347.0,78.9 L347.5,79.0 L348.0,79.1 L348.5,79.1 L349.0,79.2" stroke="#36c4c4" stroke-width="1.1" fill="none"/>
<path d="M332.0,78.0 L332.5,78.0 L333.0,78.0 L333.5,78.0 L334.0,77.9 L334.5,77.9 L335.0,77.9 L335.5,77.8 L336.0,77.7 L336.5,77.5 L337.0,77.2 L337.5,76.9 L338.0,76.4 L338.5,75.7 L339.0,74.8 L339.5,73.6 L340.0,72.2 L340.5,70.4 L341.0,68.3 L341.5,65.9 L342.0,63.4 L342.5,60.6 L343.0,57.9 L343.5,55.3 L344.0,53.1 L344.5,51.3 L345.0,50.2 L345.5,49.9 L346.0,50.4 L346.5,51.7 L347.0,53.6 L347.5,56.0 L348.0,58.7 L348.5,61.5 L349.0,64.3 L349.5,67.0 L350.0,69.3 L350.5,71.4 L351.0,73.2 L351.5,74.7 L352.0,75.9 L352.5,76.9 L353.0,77.6 L353.5,78.2 L354.0,78.6 L354.5,78.9 L355.0,79.1 L355.5,79.3 L356.0,79.4 L356.5,79.6 L357.0,79.7 L357.5,79.8 L358.0,79.8 L358.5,79.9 L359.0,80.0" stroke="#8a3c3c" stroke-width="1.1" fill="none"/>
<path d="M361.0,80.1 L361.5,80.0 L362.0,79.9 L362.5,79.8 L363.0,79.7 L363.5,79.5 L364.0,79.4 L364.5,79.1 L365.0,78.9 L365.5,78.6 L366.0,78.3 L366.5,77.9 L367.0,77.5 L367.5,77.1 L368.0,76.7 L368.5,76.3 L369.0,75.8 L369.5,75.4 L370.0,75.0 L370.5,74.6 L371.0,74.2 L371.5,73.9 L372.0,73.7 L372.5,73.5 L373.0,73.4 L373.5,73.5 L374.0,73.5 L374.5,73.7 L375.0,74.0 L375.5,74.3 L376.0,74.7 L376.5,75.1 L377.0,75.6 L377.5,76.0 L378.0,76.6 L378.5,77.1 L379.0,77.6 L379.5,78.1 L380.0,78.6 L380.5,79.0 L381.0,79.4 L381.5,79.8 L382.0,80.2 L382.5,80.5 L383.0,80.8 L383.5,81.1 L384.0,81.3 L384.5,81.5 L385.0,81.7 L385.5,81.8 L386.0,81.9" stroke="#a4a040" stroke-width="1.1" fill="none"/>
<path d="M377.0,81.2 L377.5,81.1 L378.0,81.0 L378.5,80.8 L379.0,80.6 L379.5,80.3 L380.0,80.0 L380.5,79.6 L381.0,79.2 L381.5,78.7 L382.0,78.2 L382.5,77.7 L383.0,77.1 L383.5,76.6 L384.0,76.2 L384.5,75.8 L385.0,75.6 L385.5,75.4 L386.0,75.4 L386.5,75.5 L387.0,75.7 L387.5,76.1 L388.0,76.5 L388.5,77.0 L389.0,77.6 L389.5,78.2 L390.0,78.8 L390.5,79.3 L391.0,79.9 L391.5,80.4 L392.0,80.9 L392.5,81.3 L393.0,81.6 L393.5,81.9 L394.0,82.2 L394.5,82.4 L395.0,82.6" stroke="#f07830" stroke-width="1.1" fill="none"/>
<path d="M380.0,81.5 L380.5,81.5 L381.0,81.5 L381.5,81.5 L382.0,81.5 L382.5,81.4 L383.0,81.4 L383.5,81.2 L384.0,81.1 L384.5,80.8 L385.0,80.4 L385.5,79.8 L386.0,79.0 L386.5,77.8 L387.0,76.3 L387.5,74.3 L388.0,72.0 L388.5,69.2 L389.0,66.1 L389.5,62.7 L390.0,59.3 L390.5,56.2 L391.0,53.5 L391.5,51.7 L392.0,50.9 L392.5,51.2 L393.0,52.6 L393.5,55.0 L394.0,58.0 L394.5,61.4 L395.0,64.8 L395.5,68.2 L396.0,71.2 L396.5,73.9 L397.0,76.1 L397.5,77.9 L398.0,79.3 L398.5,80.4 L399.0,81.1 L399.5,81.7 L400.0,82.1 L400.5,82.4 L401.0,82.6 L401.5,82.8 L402.0,82.9 L402.5,83.0 L403.0,83.1 L403.5,83.2 L404.0,83.3 L404.5,83.4" stroke="#6090d8" stroke-width="1.1" fill="none"/>
<path d="M253.0,72.5 L428.0,85.5" stroke="#5a6a90" stroke-width="1.3" fill="none"/>
<path d="M253.0,123.1 L254.0,121.4 L255.0,121.5 L256.0,121.7 L257.0,123.0 L258.0,122.0 L259.0,121.8 L260.0,123.9 L261.0,121.2 L262.0,122.6 L263.0,122.5 L264.0,121.4 L265.0,124.8 L266.0,121.7 L267.0,124.8 L268.0,125.5 L269.0,123.3 L270.0,123.6 L271.0,126.5 L272.0,123.1 L273.0,123.6 L274.0,122.3 L275.0,122.6 L276.0,125.8 L277.0,126.7 L278.0,126.0 L279.0,123.7 L280.0,123.9 L281.0,125.3 L282.0,125.4 L283.0,126.8 L284.0,124.9 L285.0,125.5 L286.0,122.1 L287.0,120.5 L288.0,118.1 L289.0,110.1 L290.0,109.2 L291.0,104.1 L292.0,105.5 L293.0,104.7 L294.0,107.0 L295.0,111.6 L296.0,117.6 L297.0,123.1 L298.0,124.8 L299.0,125.3 L300.0,124.6 L301.0,125.4 L302.0,126.0 L303.0,127.6 L304.0,126.4 L305.0,126.2 L306.0,126.4 L307.0,127.8 L308.0,127.9 L309.0,126.1 L310.0,128.2 L311.0,125.1 L312.0,127.0 L313.0,123.1 L314.0,124.7 L315.0,125.0 L316.0,123.0 L317.0,122.3 L318.0,121.0 L319.0,123.3 L320.0,119.4 L321.0,122.8 L322.0,121.1 L323.0,122.9 L324.0,121.7 L325.0,122.9 L326.0,124.6 L327.0,125.1 L328.0,126.1 L329.0,121.6 L330.0,121.2 L331.0,121.3 L332.0,120.2 L333.0,116.4 L334.0,116.3 L335.0,113.1 L336.0,111.0 L337.0,108.5 L338.0,102.8 L339.0,103.9 L340.0,108.5 L341.0,113.3 L342.0,109.5 L343.0,112.9 L344.0,108.1 L345.0,100.0 L346.0,101.6 L347.0,101.2 L348.0,102.2 L349.0,110.5 L350.0,117.6 L351.0,121.5 L352.0,122.3 L353.0,129.7 L354.0,131.3 L355.0,129.2 L356.0,131.6 L357.0,130.8 L358.0,131.5 L359.0,131.5 L360.0,132.4 L361.0,131.9 L362.0,132.5 L363.0,130.9 L364.0,131.5 L365.0,128.7 L366.0,128.9 L367.0,128.3 L368.0,128.7 L369.0,127.7 L370.0,124.6 L371.0,121.8 L372.0,120.0 L373.0,121.3 L374.0,119.8 L375.0,120.0 L376.0,120.1 L377.0,120.2 L378.0,120.6 L379.0,117.9 L380.0,121.1 L381.0,122.3 L382.0,120.4 L383.0,120.7 L384.0,119.3 L385.0,122.6 L386.0,124.6 L387.0,120.9 L388.0,118.2 L389.0,116.5 L390.0,112.4 L391.0,104.7 L392.0,96.9 L393.0,98.4 L394.0,105.7 L395.0,111.5 L396.0,118.7 L397.0,126.6 L398.0,131.2 L399.0,134.2 L400.0,134.8 L401.0,133.4 L402.0,137.4 L403.0,136.5 L404.0,136.3 L405.0,137.8 L406.0,137.4 L407.0,136.0 L408.0,137.2 L409.0,135.7 L410.0,136.2 L411.0,137.1 L412.0,138.0 L413.0,135.4 L414.0,138.3 L415.0,138.2 L416.0,135.4 L417.0,135.5 L418.0,138.4 L419.0,138.6 L420.0,136.9 L421.0,139.8 L422.0,140.6 L423.0,138.0 L424.0,139.4 L425.0,139.4 L426.0,137.2 L427.0,140.4 L428.0,139.8" stroke="#3a3a3a" stroke-width="1.6" fill="none" stroke-linejoin="round"/>
<path d="M280.5,124.8 L281.0,124.8 L281.5,124.8 L282.0,124.8 L282.5,124.8 L283.0,124.8 L283.5,124.7 L284.0,124.6 L284.5,124.4 L285.0,124.1 L285.5,123.6 L286.0,123.0 L286.5,122.1 L287.0,121.0 L287.5,119.5 L288.0,117.7 L288.5,115.6 L289.0,113.3 L289.5,110.8 L290.0,108.3 L290.5,106.0 L291.0,104.0 L291.5,102.7 L292.0,102.2 L292.5,102.5 L293.0,103.7 L293.5,105.5 L294.0,107.8 L294.5,110.4 L295.0,113.0 L295.5,115.5 L296.0,117.8 L296.5,119.8 L297.0,121.4 L297.5,122.8 L298.0,123.8 L298.5,124.6 L299.0,125.2 L299.5,125.6 L300.0,125.9 L300.5,126.2 L301.0,126.3 L301.5,126.5 L302.0,126.6 L302.5,126.7 L303.0,126.7 L303.5,126.8 L304.0,126.9 L304.5,126.9 L305.0,126.9 L305.5,127.0 L306.0,127.0 L306.5,127.0 L307.0,127.0 L307.5,127.0 L308.0,127.0 L308.5,126.9 L309.0,126.9 L309.5,126.8 L310.0,126.6 L310.5,126.5 L311.0,126.3 L311.5,126.1 L312.0,125.8 L312.5,125.5 L313.0,125.2 L313.5,124.9 L314.0,124.5 L314.5,124.1 L315.0,123.7 L315.5,123.3 L316.0,122.9 L316.5,122.5 L317.0,122.2 L317.5,121.8 L318.0,121.5 L318.5,121.3 L319.0,121.1 L319.5,121.1 L320.0,121.0 L320.5,121.1 L321.0,121.2 L321.5,121.4 L322.0,121.7 L322.5,122.0 L323.0,122.3 L323.5,122.7 L324.0,123.0 L324.5,123.4 L325.0,123.7 L325.5,123.9 L326.0,124.0 L326.5,124.1 L327.0,124.1 L327.5,124.0 L328.0,123.7 L328.5,123.4 L329.0,123.1 L329.5,122.7 L330.0,122.3 L330.5,121.9 L331.0,121.5 L331.5,121.2 L332.0,120.8 L332.5,120.5 L333.0,119.9 L333.5,119.2 L334.0,118.1 L334.5,116.7 L335.0,114.9 L335.5,112.8 L336.0,110.5 L336.5,108.1 L337.0,106.1 L337.5,104.5 L338.0,103.7 L338.5,103.9 L339.0,104.8 L339.5,106.4 L340.0,108.2 L340.5,110.0 L341.0,111.5 L341.5,112.4 L342.0,112.6 L342.5,112.1 L343.0,110.9 L343.5,109.1 L344.0,106.9 L344.5,104.6 L345.0,102.5 L345.5,100.7 L346.0,99.6 L346.5,99.3 L347.0,100.0 L347.5,101.5 L348.0,103.7 L348.5,106.5 L349.0,109.5 L349.5,112.7 L350.0,115.7 L350.5,118.6 L351.0,121.2 L351.5,123.4 L352.0,125.3 L352.5,126.8 L353.0,128.0 L353.5,128.9 L354.0,129.6 L354.5,130.1 L355.0,130.5 L355.5,130.8 L356.0,131.0 L356.5,131.2 L357.0,131.3 L357.5,131.5 L358.0,131.5 L358.5,131.6 L359.0,131.7 L359.5,131.7 L360.0,131.8 L360.5,131.8 L361.0,131.8 L361.5,131.7 L362.0,131.7 L362.5,131.6 L363.0,131.5 L363.5,131.3 L364.0,131.1 L364.5,130.9 L365.0,130.6 L365.5,130.3 L366.0,129.8 L366.5,129.4 L367.0,128.8 L367.5,128.3 L368.0,127.6 L368.5,126.9 L369.0,126.2 L369.5,125.4 L370.0,124.7 L370.5,123.9 L371.0,123.1 L371.5,122.4 L372.0,121.7 L372.5,121.1 L373.0,120.6 L373.5,120.2 L374.0,119.9 L374.5,119.8 L375.0,119.7 L375.5,119.8 L376.0,119.9 L376.5,120.2 L377.0,120.5 L377.5,120.8 L378.0,121.1 L378.5,121.4 L379.0,121.6 L379.5,121.7 L380.0,121.7 L380.5,121.6 L381.0,121.4 L381.5,121.1 L382.0,120.8 L382.5,120.5 L383.0,120.2 L383.5,120.0 L384.0,119.9 L384.5,119.9 L385.0,120.0 L385.5,120.3 L386.0,120.6 L386.5,120.9 L387.0,120.9 L387.5,120.7 L388.0,120.0 L388.5,118.7 L389.0,116.8 L389.5,114.3 L390.0,111.2 L390.5,107.7 L391.0,104.3 L391.5,101.2 L392.0,99.0 L392.5,98.0 L393.0,98.5 L393.5,100.4 L394.0,103.6 L394.5,107.6 L395.0,112.0 L395.5,116.3 L396.0,120.4 L396.5,124.1 L397.0,127.1 L397.5,129.5 L398.0,131.3 L398.5,132.7 L399.0,133.7 L399.5,134.4 L400.0,134.9 L400.5,135.2 L401.0,135.5 L401.5,135.6 L402.0,135.8 L402.5,135.9 L403.0,136.0 L403.5,136.1 L404.0,136.2 L404.5,136.3 L405.0,136.4 L405.5,136.5 L406.0,136.6 L406.5,136.6 L407.0,136.7" stroke="#e8473c" stroke-width="1.6" fill="none"/>
<path d="M281.5,124.9 L282.0,124.9 L282.5,124.9 L283.0,124.8 L283.5,124.8 L284.0,124.6 L284.5,124.4 L285.0,124.1 L285.5,123.7 L286.0,123.1 L286.5,122.2 L287.0,121.1 L287.5,119.6 L288.0,117.8 L288.5,115.7 L289.0,113.4 L289.5,110.9 L290.0,108.4 L290.5,106.1 L291.0,104.1 L291.5,102.8 L292.0,102.3 L292.5,102.6 L293.0,103.8 L293.5,105.6 L294.0,107.9 L294.5,110.5 L295.0,113.1 L295.5,115.6 L296.0,117.9 L296.5,119.9 L297.0,121.5 L297.5,122.9 L298.0,123.9 L298.5,124.7 L299.0,125.3 L299.5,125.8 L300.0,126.1 L300.5,126.3 L301.0,126.5 L301.5,126.6 L302.0,126.7 L302.5,126.8" stroke="#b45cb4" stroke-width="1.1" fill="none"/>
<path d="M307.5,127.3 L308.0,127.3 L308.5,127.2 L309.0,127.2 L309.5,127.1 L310.0,126.9 L310.5,126.8 L311.0,126.6 L311.5,126.4 L312.0,126.1 L312.5,125.8 L313.0,125.5 L313.5,125.2 L314.0,124.8 L314.5,124.4 L315.0,124.0 L315.5,123.6 L316.0,123.2 L316.5,122.8 L317.0,122.5 L317.5,122.2 L318.0,121.9 L318.5,121.7 L319.0,121.5 L319.5,121.4 L320.0,121.4 L320.5,121.5 L321.0,121.6 L321.5,121.9 L322.0,122.2 L322.5,122.5 L323.0,122.9 L323.5,123.4 L324.0,123.8 L324.5,124.3 L325.0,124.8 L325.5,125.3 L326.0,125.8 L326.5,126.3 L327.0,126.7 L327.5,127.1 L328.0,127.5 L328.5,127.9 L329.0,128.2 L329.5,128.5 L330.0,128.8 L330.5,129.0 L331.0,129.2 L331.5,129.4 L332.0,129.5 L332.5,129.7" stroke="#4a9a50" stroke-width="1.1" fill="none"/>
<path d="M324.5,128.8 L325.0,128.7 L325.5,128.5 L326.0,128.3 L326.5,127.9 L327.0,127.5 L327.5,127.1 L328.0,126.5 L328.5,126.0 L329.0,125.4 L329.5,124.8 L330.0,124.3 L330.5,123.9 L331.0,123.6 L331.5,123.5 L332.0,123.6 L332.5,123.8 L333.0,124.2 L333.5,124.7 L334.0,125.3 L334.5,125.9 L335.0,126.6 L335.5,127.3 L336.0,127.9 L336.5,128.4 L337.0,128.9 L337.5,129.3 L338.0,129.7 L338.5,130.0 L339.0,130.2" stroke="#d8b030" stroke-width="1.1" fill="none"/>
<path d="M328.5,129.3 L329.0,129.3 L329.5,129.3 L330.0,129.2 L330.5,129.1 L331.0,129.0 L331.5,128.7 L332.0,128.3 L332.5,127.6 L333.0,126.7 L333.5,125.5 L334.0,123.9 L334.5,121.8 L335.0,119.4 L335.5,116.7 L336.0,113.9 L336.5,111.1 L337.0,108.8 L337.5,107.0 L338.0,106.2 L338.5,106.4 L339.0,107.7 L339.5,109.7 L340.0,112.4 L340.5,115.3 L341.0,118.2 L341.5,120.9 L342.0,123.3 L342.5,125.3 L343.0,126.9 L343.5,128.1 L344.0,129.0 L344.5,129.6 L345.0,130.1 L345.5,130.4 L346.0,130.6 L346.5,130.8 L347.0,130.9 L347.5,131.1 L348.0,131.2" stroke="#36c4c4" stroke-width="1.1" fill="none"/>
<path d="M333.5,129.8 L334.0,129.8 L334.5,129.8 L335.0,129.8 L335.5,129.8 L336.0,129.7 L336.5,129.7 L337.0,129.6 L337.5,129.5 L338.0,129.3 L338.5,129.0 L339.0,128.5 L339.5,127.9 L340.0,127.1 L340.5,125.9 L341.0,124.5 L341.5,122.7 L342.0,120.6 L342.5,118.1 L343.0,115.3 L343.5,112.3 L344.0,109.3 L344.5,106.4 L345.0,103.8 L345.5,101.8 L346.0,100.5 L346.5,100.1 L347.0,100.7 L347.5,102.1 L348.0,104.3 L348.5,107.0 L349.0,110.1 L349.5,113.2 L350.0,116.2 L350.5,119.1 L351.0,121.6 L351.5,123.8 L352.0,125.7 L352.5,127.2 L353.0,128.4 L353.5,129.3 L354.0,130.0 L354.5,130.5 L355.0,130.9 L355.5,131.2 L356.0,131.4 L356.5,131.6 L357.0,131.7 L357.5,131.9 L358.0,132.0 L358.5,132.1 L359.0,132.1 L359.5,132.2" stroke="#8a3c3c" stroke-width="1.1" fill="none"/>
<path d="M361.0,132.3 L361.5,132.3 L362.0,132.2 L362.5,132.1 L363.0,132.0 L363.5,131.8 L364.0,131.6 L364.5,131.3 L365.0,131.0 L365.5,130.7 L366.0,130.3 L366.5,129.8 L367.0,129.3 L367.5,128.7 L368.0,128.0 L368.5,127.3 L369.0,126.6 L369.5,125.8 L370.0,125.1 L370.5,124.3 L371.0,123.5 L371.5,122.8 L372.0,122.2 L372.5,121.6 L373.0,121.1 L373.5,120.7 L374.0,120.5 L374.5,120.4 L375.0,120.4 L375.5,120.6 L376.0,120.9 L376.5,121.4 L377.0,122.0 L377.5,122.6 L378.0,123.4 L378.5,124.2 L379.0,125.0 L379.5,125.9 L380.0,126.8 L380.5,127.6 L381.0,128.4 L381.5,129.2 L382.0,130.0 L382.5,130.7 L383.0,131.3 L383.5,131.9 L384.0,132.4 L384.5,132.8 L385.0,133.2 L385.5,133.6 L386.0,133.9 L386.5,134.2 L387.0,134.4 L387.5,134.6 L388.0,134.8 L388.5,134.9" stroke="#a4a040" stroke-width="1.1" fill="none"/>
<path d="M375.5,133.7 L376.0,133.6 L376.5,133.4 L377.0,133.2 L377.5,132.9 L378.0,132.5 L378.5,132.0 L379.0,131.5 L379.5,130.8 L380.0,130.0 L380.5,129.1 L381.0,128.2 L381.5,127.2 L382.0,126.2 L382.5,125.3 L383.0,124.5 L383.5,123.8 L384.0,123.3 L384.5,123.1 L385.0,123.1 L385.5,123.3 L386.0,123.8 L386.5,124.5 L387.0,125.4 L387.5,126.4 L388.0,127.5 L388.5,128.5 L389.0,129.6 L389.5,130.6 L390.0,131.5 L390.5,132.3 L391.0,133.0 L391.5,133.6 L392.0,134.1 L392.5,134.5 L393.0,134.9 L393.5,135.2 L394.0,135.4 L394.5,135.5" stroke="#f07830" stroke-width="1.1" fill="none"/>
<path d="M381.0,134.2 L381.5,134.3 L382.0,134.3 L382.5,134.3 L383.0,134.2 L383.5,134.2 L384.0,134.2 L384.5,134.1 L385.0,133.9 L385.5,133.6 L386.0,133.2 L386.5,132.6 L387.0,131.7 L387.5,130.3 L388.0,128.5 L388.5,126.1 L389.0,123.1 L389.5,119.5 L390.0,115.5 L390.5,111.3 L391.0,107.2 L391.5,103.5 L392.0,100.8 L392.5,99.4 L393.0,99.6 L393.5,101.3 L394.0,104.3 L394.5,108.2 L395.0,112.4 L395.5,116.8 L396.0,120.8 L396.5,124.4 L397.0,127.4 L397.5,129.8 L398.0,131.6 L398.5,132.9 L399.0,133.9 L399.5,134.6 L400.0,135.1 L400.5,135.4 L401.0,135.6 L401.5,135.8 L402.0,136.0 L402.5,136.1 L403.0,136.2 L403.5,136.3 L404.0,136.4 L404.5,136.5" stroke="#6090d8" stroke-width="1.1" fill="none"/>
<path d="M253.0,122.6 L428.0,139.1" stroke="#4b73b8" stroke-width="1.3" fill="none"/>
<path d="M392.6,46.0 L392.6,134.0" stroke="#111" stroke-width="1.3" stroke-dasharray="2.2,1.8" fill="none"/>
<rect x="253" y="14" width="175" height="131.5" fill="none" stroke="#3c3c3c" stroke-width="1.4"/>
<path d="M274.9,145.5 L274.9,143.0" stroke="#3c3c3c" stroke-width="1.2"/>
<path d="M296.8,145.5 L296.8,143.0" stroke="#3c3c3c" stroke-width="1.2"/>
<path d="M318.6,145.5 L318.6,143.0" stroke="#3c3c3c" stroke-width="1.2"/>
<path d="M340.5,145.5 L340.5,143.0" stroke="#3c3c3c" stroke-width="1.2"/>
<path d="M362.4,145.5 L362.4,143.0" stroke="#3c3c3c" stroke-width="1.2"/>
<path d="M384.2,145.5 L384.2,143.0" stroke="#3c3c3c" stroke-width="1.2"/>
<path d="M406.1,145.5 L406.1,143.0" stroke="#3c3c3c" stroke-width="1.2"/>
<text x="253.0" y="156.0" font-size="9.5" fill="#000" font-weight="bold" text-anchor="middle" >930</text>
<text x="296.8" y="156.0" font-size="9.5" fill="#000" font-weight="bold" text-anchor="middle" >915</text>
<text x="340.5" y="156.0" font-size="9.5" fill="#000" font-weight="bold" text-anchor="middle" >900</text>
<text x="384.2" y="156.0" font-size="9.5" fill="#000" font-weight="bold" text-anchor="middle" >885</text>
<text x="428.0" y="156.0" font-size="9.5" fill="#000" font-weight="bold" text-anchor="middle" >870</text>
<text x="340.5" y="174.0" font-size="12.5" fill="#000" font-weight="bold" text-anchor="middle" >Binding Energy (eV)</text>
<text x="0.0" y="0.0" font-size="12.3" fill="#000" font-weight="bold" text-anchor="middle" transform="translate(240.7,75.1) rotate(-90)">Intensity (a.u.)</text>
<text x="230.5" y="21.0" font-size="17.6" fill="#000" font-weight="bold" text-anchor="start" >b</text>
<text x="395.0" y="26.5" font-size="9.5" fill="#000" font-weight="bold" text-anchor="start" >Ce 3d</text>
<text x="288.5" y="44.0" font-size="11" fill="#a858c0" font-weight="normal" text-anchor="start" >u<tspan font-size="7" dy="4.0">4</tspan></text>
<text x="311.3" y="60.3" font-size="11" fill="#3a9a8a" font-weight="normal" text-anchor="start" >u<tspan font-size="7" dy="4.0">3</tspan></text>
<text x="322.5" y="62.2" font-size="11" fill="#c0a830" font-weight="normal" text-anchor="start" >u<tspan font-size="7" dy="4.0">2</tspan></text>
<text x="331.5" y="46.0" font-size="11" fill="#30b8c8" font-weight="normal" text-anchor="start" >u<tspan font-size="7" dy="4.0">1</tspan></text>
<text x="342.3" y="40.8" font-size="11" fill="#90304a" font-weight="normal" text-anchor="start" >v<tspan font-size="7" dy="4.0">4</tspan></text>
<text x="365.4" y="62.8" font-size="11" fill="#e0a030" font-weight="normal" text-anchor="start" >v<tspan font-size="7" dy="4.0">3</tspan></text>
<text x="377.5" y="62.0" font-size="11" fill="#f08030" font-weight="normal" text-anchor="start" >v<tspan font-size="7" dy="3.5">2</tspan></text>
<text x="388.2" y="44.2" font-size="11" fill="#7ab0e8" font-weight="normal" text-anchor="start" >v<tspan font-size="7" dy="4.0">1</tspan></text>
<text x="256.0" y="87.0" font-size="9.5" fill="#000" font-weight="bold" text-anchor="start" >CeO<tspan font-size="5.89" dy="3.0">2</tspan></text>
<text x="255.0" y="140.0" font-size="9.5" fill="#000" font-weight="bold" text-anchor="start" >CeO<tspan font-size="5.89" dy="3.0">2</tspan><tspan dy="-3.0">/ZCIS</tspan></text>
</g>
<g>
<path d="M467.4,74.8 L468.4,74.6 L469.4,74.7 L470.4,75.6 L471.4,74.4 L472.4,74.7 L473.4,74.7 L474.4,74.5 L475.4,74.6 L476.4,74.8 L477.4,74.7 L478.4,74.6 L479.4,74.2 L480.4,74.1 L481.4,74.0 L482.4,73.6 L483.4,73.4 L484.4,72.9 L485.4,71.7 L486.4,70.3 L487.4,67.8 L488.4,64.2 L489.4,60.8 L490.4,56.3 L491.4,52.3 L492.4,49.5 L493.4,49.4 L494.4,51.7 L495.4,55.4 L496.4,59.8 L497.4,63.9 L498.4,67.3 L499.4,69.9 L500.4,72.0 L501.4,73.3 L502.4,73.3 L503.4,74.4 L504.4,74.9 L505.4,74.8 L506.4,74.7 L507.4,74.9 L508.4,75.2 L509.4,75.0 L510.4,75.4 L511.4,75.3 L512.4,75.5 L513.4,75.2 L514.4,75.4 L515.4,75.3 L516.4,74.9 L517.4,75.8 L518.4,75.8 L519.4,75.3 L520.4,76.2 L521.4,75.9 L522.4,76.3 L523.4,75.8 L524.4,75.1 L525.4,76.1 L526.4,75.8 L527.4,75.6 L528.4,75.9 L529.4,75.7 L530.4,75.9 L531.4,75.9 L532.4,75.6 L533.4,75.9 L534.4,76.2 L535.4,76.4 L536.4,76.4 L537.4,76.4 L538.4,76.2 L539.4,76.6 L540.4,76.1 L541.4,76.3 L542.4,76.4 L543.4,76.3 L544.4,76.3 L545.4,76.3 L546.4,75.8 L547.4,76.3 L548.4,76.7 L549.4,76.8 L550.4,76.2 L551.4,76.8 L552.4,76.3 L553.4,76.5 L554.4,76.7 L555.4,76.4 L556.4,76.7 L557.4,76.3 L558.4,76.0 L559.4,76.4 L560.4,76.4 L561.4,76.1 L562.4,76.5 L563.4,76.6 L564.4,76.4 L565.4,76.8 L566.4,76.5 L567.4,76.5 L568.4,76.7 L569.4,76.3 L570.4,77.2 L571.4,76.7 L572.4,77.2 L573.4,76.5 L574.4,77.1 L575.4,76.5 L576.4,76.4 L577.4,76.8 L578.4,76.7 L579.4,77.0 L580.4,77.0 L581.4,76.9 L582.4,76.8 L583.4,76.7 L584.4,76.6 L585.4,77.0 L586.4,76.5 L587.4,76.9 L588.4,76.4 L589.4,76.6 L590.4,76.9 L591.4,76.9 L592.4,76.8 L593.4,76.4 L594.4,76.6 L595.4,76.3 L596.4,76.1 L597.4,75.8 L598.4,75.4 L599.4,75.0 L600.4,73.9 L601.4,73.4 L602.4,70.6 L603.4,68.0 L604.4,61.2 L605.4,53.8 L606.4,45.2 L607.4,37.4 L608.4,33.3 L609.4,35.4 L610.4,43.9 L611.4,52.9 L612.4,60.4 L613.4,66.3 L614.4,71.0 L615.4,73.0 L616.4,74.2 L617.4,74.7 L618.4,75.8 L619.4,76.2 L620.4,76.6 L621.4,76.9 L622.4,76.5 L623.4,77.2 L624.4,77.2 L625.4,77.1 L626.4,77.0 L627.4,77.6 L628.4,77.6 L629.4,77.8 L630.4,77.6 L631.4,78.4 L632.4,78.3 L633.4,77.4 L634.4,77.2 L635.4,77.7 L636.4,77.7 L637.4,77.8 L638.4,78.2 L639.4,77.8 L640.4,78.3 L641.4,77.9 L642.4,77.6" stroke="#222" stroke-width="1.0" fill="none" stroke-linejoin="round"/>
<path d="M467.4,75.8 L642.5,79.2" stroke="#d4a13c" stroke-width="1.3" fill="none"/>
<path d="M476.9,75.5 L477.4,75.4 L477.9,75.4 L478.4,75.4 L478.9,75.3 L479.4,75.3 L479.9,75.3 L480.4,75.2 L480.9,75.1 L481.4,75.1 L481.9,75.0 L482.4,74.8 L482.9,74.7 L483.4,74.5 L483.9,74.2 L484.4,73.8 L484.9,73.4 L485.4,72.8 L485.9,72.1 L486.4,71.2 L486.9,70.1 L487.4,68.8 L487.9,67.3 L488.4,65.5 L488.9,63.6 L489.4,61.6 L489.9,59.4 L490.4,57.2 L490.9,55.2 L491.4,53.3 L491.9,51.8 L492.4,50.7 L492.9,50.3 L493.4,50.5 L493.9,51.3 L494.4,52.7 L494.9,54.5 L495.4,56.5 L495.9,58.6 L496.4,60.8 L496.9,63.0 L497.4,65.0 L497.9,66.8 L498.4,68.4 L498.9,69.8 L499.4,71.0 L499.9,72.0 L500.4,72.8 L500.9,73.5 L501.4,74.0 L501.9,74.4 L502.4,74.7 L502.9,75.0 L503.4,75.2 L503.9,75.3 L504.4,75.5 L504.9,75.6 L505.4,75.7 L505.9,75.7 L506.4,75.8 L506.9,75.9 L507.4,75.9 L507.9,76.0 L508.4,76.0 L508.9,76.1 L509.4,76.1" stroke="#3c9c5c" stroke-width="1.25" fill="none"/>
<path d="M588.5,77.6 L589.0,77.6 L589.5,77.6 L590.0,77.6 L590.5,77.6 L591.0,77.5 L591.5,77.5 L592.0,77.5 L592.5,77.4 L593.0,77.4 L593.5,77.4 L594.0,77.3 L594.5,77.2 L595.0,77.2 L595.5,77.1 L596.0,77.0 L596.5,76.9 L597.0,76.8 L597.5,76.7 L598.0,76.6 L598.5,76.4 L599.0,76.2 L599.5,75.9 L600.0,75.6 L600.5,75.2 L601.0,74.6 L601.5,73.9 L602.0,72.9 L602.5,71.6 L603.0,69.9 L603.5,67.7 L604.0,65.1 L604.5,61.9 L605.0,58.2 L605.5,54.1 L606.0,49.7 L606.5,45.2 L607.0,40.9 L607.5,37.3 L608.0,34.9 L608.5,34.0 L609.0,34.9 L609.5,37.3 L610.0,40.9 L610.5,45.2 L611.0,49.8 L611.5,54.2 L612.0,58.4 L612.5,62.1 L613.0,65.3 L613.5,67.9 L614.0,70.1 L614.5,71.8 L615.0,73.1 L615.5,74.1 L616.0,74.9 L616.5,75.5 L617.0,75.9 L617.5,76.3 L618.0,76.6 L618.5,76.8 L619.0,77.0 L619.5,77.1 L620.0,77.3 L620.5,77.4 L621.0,77.5 L621.5,77.6 L622.0,77.7 L622.5,77.8 L623.0,77.9 L623.5,77.9 L624.0,78.0 L624.5,78.1 L625.0,78.1 L625.5,78.2 L626.0,78.2 L626.5,78.3 L627.0,78.3 L627.5,78.3 L628.0,78.4 L628.5,78.4" stroke="#b468b0" stroke-width="1.25" fill="none"/>
<path d="M467.4,132.4 L468.4,132.6 L469.4,132.0 L470.4,132.5 L471.4,132.5 L472.4,132.5 L473.4,132.2 L474.4,132.7 L475.4,132.8 L476.4,132.7 L477.4,132.6 L478.4,132.3 L479.4,132.4 L480.4,132.8 L481.4,132.5 L482.4,132.2 L483.4,131.8 L484.4,131.0 L485.4,130.3 L486.4,128.4 L487.4,125.2 L488.4,122.7 L489.4,118.8 L490.4,114.9 L491.4,111.6 L492.4,110.0 L493.4,110.7 L494.4,113.1 L495.4,116.3 L496.4,120.8 L497.4,124.4 L498.4,127.6 L499.4,129.2 L500.4,130.9 L501.4,132.8 L502.4,132.4 L503.4,132.9 L504.4,132.9 L505.4,132.8 L506.4,133.4 L507.4,133.4 L508.4,133.4 L509.4,133.1 L510.4,133.4 L511.4,133.9 L512.4,133.5 L513.4,133.6 L514.4,133.8 L515.4,133.5 L516.4,133.5 L517.4,133.7 L518.4,133.2 L519.4,133.7 L520.4,134.1 L521.4,134.0 L522.4,133.7 L523.4,133.6 L524.4,134.1 L525.4,133.9 L526.4,134.0 L527.4,134.6 L528.4,133.7 L529.4,134.1 L530.4,134.1 L531.4,134.3 L532.4,134.0 L533.4,134.1 L534.4,134.2 L535.4,134.4 L536.4,134.3 L537.4,133.8 L538.4,134.5 L539.4,134.3 L540.4,133.7 L541.4,134.6 L542.4,134.4 L543.4,134.7 L544.4,134.6 L545.4,134.5 L546.4,134.6 L547.4,134.5 L548.4,134.7 L549.4,134.5 L550.4,134.5 L551.4,134.2 L552.4,134.4 L553.4,134.9 L554.4,134.7 L555.4,134.5 L556.4,134.2 L557.4,134.4 L558.4,134.7 L559.4,134.5 L560.4,134.6 L561.4,134.9 L562.4,134.4 L563.4,135.1 L564.4,134.9 L565.4,134.7 L566.4,134.9 L567.4,134.9 L568.4,134.9 L569.4,134.8 L570.4,134.9 L571.4,134.9 L572.4,134.9 L573.4,135.7 L574.4,134.9 L575.4,134.9 L576.4,135.1 L577.4,135.0 L578.4,135.1 L579.4,135.3 L580.4,135.0 L581.4,134.8 L582.4,135.0 L583.4,135.1 L584.4,135.4 L585.4,135.1 L586.4,135.0 L587.4,135.2 L588.4,135.1 L589.4,135.0 L590.4,135.1 L591.4,135.2 L592.4,134.3 L593.4,135.3 L594.4,134.6 L595.4,134.9 L596.4,134.7 L597.4,134.2 L598.4,134.2 L599.4,133.7 L600.4,133.0 L601.4,130.8 L602.4,127.9 L603.4,122.8 L604.4,115.6 L605.4,106.1 L606.4,96.6 L607.4,90.4 L608.4,90.2 L609.4,96.0 L610.4,104.5 L611.4,114.2 L612.4,122.1 L613.4,127.7 L614.4,130.8 L615.4,133.3 L616.4,134.2 L617.4,134.6 L618.4,134.9 L619.4,135.2 L620.4,135.4 L621.4,135.8 L622.4,135.5 L623.4,135.5 L624.4,135.7 L625.4,135.8 L626.4,136.1 L627.4,135.6 L628.4,135.7 L629.4,136.1 L630.4,136.1 L631.4,135.9 L632.4,135.7 L633.4,136.4 L634.4,136.5 L635.4,136.1 L636.4,136.7 L637.4,135.9 L638.4,136.3 L639.4,136.5 L640.4,136.1 L641.4,136.6 L642.4,136.9" stroke="#222" stroke-width="1.0" fill="none" stroke-linejoin="round"/>
<path d="M467.4,133.5 L642.5,137.6" stroke="#4b73b8" stroke-width="1.3" fill="none"/>
<path d="M480.9,133.3 L481.4,133.2 L481.9,133.1 L482.4,133.0 L482.9,132.9 L483.4,132.7 L483.9,132.4 L484.4,132.0 L484.9,131.5 L485.4,130.9 L485.9,130.1 L486.4,129.2 L486.9,128.0 L487.4,126.6 L487.9,125.0 L488.4,123.3 L488.9,121.4 L489.4,119.4 L489.9,117.4 L490.4,115.5 L490.9,113.8 L491.4,112.4 L491.9,111.4 L492.4,110.9 L492.9,110.9 L493.4,111.4 L493.9,112.5 L494.4,113.9 L494.9,115.6 L495.4,117.6 L495.9,119.6 L496.4,121.6 L496.9,123.5 L497.4,125.3 L497.9,126.9 L498.4,128.3 L498.9,129.5 L499.4,130.4 L499.9,131.3 L500.4,131.9 L500.9,132.4 L501.4,132.8 L501.9,133.1 L502.4,133.3 L502.9,133.5 L503.4,133.7 L503.9,133.8 L504.4,133.8" stroke="#3c9c5c" stroke-width="1.25" fill="none"/>
<path d="M591.5,135.9 L592.0,135.9 L592.5,135.8 L593.0,135.8 L593.5,135.8 L594.0,135.8 L594.5,135.7 L595.0,135.7 L595.5,135.6 L596.0,135.6 L596.5,135.5 L597.0,135.4 L597.5,135.3 L598.0,135.2 L598.5,135.0 L599.0,134.8 L599.5,134.5 L600.0,134.1 L600.5,133.6 L601.0,132.8 L601.5,131.8 L602.0,130.4 L602.5,128.6 L603.0,126.2 L603.5,123.3 L604.0,119.8 L604.5,115.7 L605.0,111.2 L605.5,106.4 L606.0,101.6 L606.5,97.2 L607.0,93.5 L607.5,91.1 L608.0,90.3 L608.5,91.2 L609.0,93.6 L609.5,97.2 L610.0,101.7 L610.5,106.5 L611.0,111.3 L611.5,115.8 L612.0,119.9 L612.5,123.5 L613.0,126.5 L613.5,128.8 L614.0,130.7 L614.5,132.1 L615.0,133.2 L615.5,134.0 L616.0,134.5 L616.5,134.9 L617.0,135.2 L617.5,135.5 L618.0,135.6 L618.5,135.8 L619.0,135.9 L619.5,136.0 L620.0,136.1 L620.5,136.2 L621.0,136.3 L621.5,136.3 L622.0,136.4 L622.5,136.5 L623.0,136.5 L623.5,136.6 L624.0,136.6 L624.5,136.7" stroke="#b468b0" stroke-width="1.25" fill="none"/>
<path d="M608.6,35.0 L608.6,117.0" stroke="#111" stroke-width="1.3" stroke-dasharray="2.2,1.8" fill="none"/>
<rect x="467.4" y="13.5" width="175.10000000000002" height="131.8" fill="none" stroke="#3c3c3c" stroke-width="1.4"/>
<path d="M492.4,145.3 L492.4,142.8" stroke="#3c3c3c" stroke-width="1.2"/>
<path d="M517.4,145.3 L517.4,142.8" stroke="#3c3c3c" stroke-width="1.2"/>
<path d="M542.4,145.3 L542.4,142.8" stroke="#3c3c3c" stroke-width="1.2"/>
<path d="M567.5,145.3 L567.5,142.8" stroke="#3c3c3c" stroke-width="1.2"/>
<path d="M592.5,145.3 L592.5,142.8" stroke="#3c3c3c" stroke-width="1.2"/>
<path d="M617.5,145.3 L617.5,142.8" stroke="#3c3c3c" stroke-width="1.2"/>
<path d="M642.5,145.3 L642.5,142.8" stroke="#3c3c3c" stroke-width="1.2"/>
<text x="467.4" y="155.0" font-size="9.5" fill="#000" font-weight="bold" text-anchor="middle" >1050</text>
<text x="517.4" y="155.0" font-size="9.5" fill="#000" font-weight="bold" text-anchor="middle" >1040</text>
<text x="567.5" y="155.0" font-size="9.5" fill="#000" font-weight="bold" text-anchor="middle" >1030</text>
<text x="617.5" y="155.0" font-size="9.5" fill="#000" font-weight="bold" text-anchor="middle" >1020</text>
<text x="555.0" y="173.8" font-size="12.5" fill="#000" font-weight="bold" text-anchor="middle" >Binding Energy (eV)</text>
<text x="0.0" y="0.0" font-size="12.3" fill="#000" font-weight="bold" text-anchor="middle" transform="translate(455.0,74.9) rotate(-90)">Intensity (a.u.)</text>
<text x="442.0" y="18.5" font-size="17.6" fill="#000" font-weight="bold" text-anchor="start" >c</text>
<text x="477.0" y="45.0" font-size="9.5" fill="#3a9a5a" font-weight="bold" text-anchor="start" >Zn 2p<tspan font-size="5.89" dy="3.0">1/2</tspan></text>
<text x="596.0" y="31.0" font-size="9.5" fill="#9a6cc4" font-weight="bold" text-anchor="start" >Zn 2p<tspan font-size="5.89" dy="3.0">3/2</tspan></text>
<text x="537.0" y="71.5" font-size="9.8" fill="#000" font-weight="bold" text-anchor="start" >ZCIS</text>
<text x="529.5" y="127.5" font-size="9.5" fill="#000" font-weight="bold" text-anchor="start" >CeO<tspan font-size="5.89" dy="3.0">2</tspan><tspan dy="-3.0">/ZCIS</tspan></text>
</g>
<g>
<path d="M35.0,264.4 L36.0,264.9 L37.0,265.0 L38.0,264.4 L39.0,264.6 L40.0,264.9 L41.0,265.3 L42.0,264.9 L43.0,264.6 L44.0,265.1 L45.0,264.6 L46.0,264.5 L47.0,265.0 L48.0,264.5 L49.0,265.0 L50.0,265.0 L51.0,264.6 L52.0,264.2 L53.0,264.7 L54.0,264.4 L55.0,264.2 L56.0,264.4 L57.0,264.2 L58.0,263.5 L59.0,263.9 L60.0,263.8 L61.0,263.7 L62.0,263.3 L63.0,262.8 L64.0,261.4 L65.0,261.4 L66.0,260.8 L67.0,259.8 L68.0,258.5 L69.0,256.9 L70.0,254.4 L71.0,252.8 L72.0,250.5 L73.0,247.9 L74.0,245.3 L75.0,242.1 L76.0,240.4 L77.0,237.3 L78.0,236.2 L79.0,235.9 L80.0,235.8 L81.0,236.3 L82.0,238.6 L83.0,240.9 L84.0,243.6 L85.0,246.0 L86.0,248.7 L87.0,251.3 L88.0,253.6 L89.0,255.2 L90.0,257.3 L91.0,258.3 L92.0,260.2 L93.0,260.6 L94.0,262.0 L95.0,262.5 L96.0,263.3 L97.0,262.8 L98.0,263.3 L99.0,264.2 L100.0,264.0 L101.0,264.3 L102.0,264.3 L103.0,265.3 L104.0,264.3 L105.0,264.9 L106.0,265.0 L107.0,264.7 L108.0,264.9 L109.0,265.9 L110.0,265.6 L111.0,265.0 L112.0,264.6 L113.0,264.9 L114.0,264.8 L115.0,264.8 L116.0,264.8 L117.0,265.6 L118.0,264.8 L119.0,265.1 L120.0,265.3 L121.0,264.8 L122.0,265.4 L123.0,265.2 L124.0,264.9 L125.0,265.0 L126.0,265.4 L127.0,265.0 L128.0,265.4 L129.0,265.2 L130.0,264.8 L131.0,266.2 L132.0,265.1 L133.0,265.6 L134.0,264.8 L135.0,265.0 L136.0,265.7 L137.0,265.3 L138.0,265.3 L139.0,265.3 L140.0,265.0 L141.0,265.2 L142.0,265.4 L143.0,265.0 L144.0,264.9 L145.0,264.5 L146.0,264.6 L147.0,265.0 L148.0,264.5 L149.0,264.9 L150.0,264.5 L151.0,264.1 L152.0,263.9 L153.0,264.6 L154.0,262.6 L155.0,262.9 L156.0,262.7 L157.0,262.0 L158.0,261.5 L159.0,260.1 L160.0,258.9 L161.0,257.9 L162.0,255.3 L163.0,253.3 L164.0,250.9 L165.0,248.0 L166.0,244.4 L167.0,241.3 L168.0,236.8 L169.0,233.2 L170.0,229.6 L171.0,226.7 L172.0,224.5 L173.0,223.8 L174.0,224.5 L175.0,225.2 L176.0,228.1 L177.0,230.9 L178.0,235.4 L179.0,239.1 L180.0,242.6 L181.0,246.0 L182.0,249.8 L183.0,253.1 L184.0,255.4 L185.0,257.0 L186.0,258.5 L187.0,260.4 L188.0,261.1 L189.0,261.9 L190.0,262.6 L191.0,263.2 L192.0,263.4 L193.0,263.8 L194.0,264.5 L195.0,264.2 L196.0,265.5 L197.0,264.9 L198.0,265.1 L199.0,265.4 L200.0,265.2 L201.0,265.2 L202.0,265.9 L203.0,265.7 L204.0,266.0 L205.0,265.8 L206.0,266.3 L207.0,265.9 L208.0,266.0 L209.0,266.5 L210.0,266.3" stroke="#222" stroke-width="1.0" fill="none" stroke-linejoin="round"/>
<path d="M35.0,264.2 L35.5,264.2 L36.0,264.2 L36.5,264.2 L37.0,264.2 L37.5,264.2 L38.0,264.2 L38.5,264.2 L39.0,264.2 L39.5,264.2 L40.0,264.2 L40.5,264.2 L41.0,264.2 L41.5,264.2 L42.0,264.2 L42.5,264.2 L43.0,264.1 L43.5,264.1 L44.0,264.1 L44.5,264.1 L45.0,264.1 L45.5,264.1 L46.0,264.1 L46.5,264.1 L47.0,264.1 L47.5,264.0 L48.0,264.0 L48.5,264.0 L49.0,264.0 L49.5,264.0 L50.0,263.9 L50.5,263.9 L51.0,263.9 L51.5,263.9 L52.0,263.9 L52.5,263.8 L53.0,263.8 L53.5,263.8 L54.0,263.7 L54.5,263.7 L55.0,263.7 L55.5,263.6 L56.0,263.6 L56.5,263.5 L57.0,263.5 L57.5,263.4 L58.0,263.3 L58.5,263.3 L59.0,263.2 L59.5,263.1 L60.0,263.0 L60.5,262.9 L61.0,262.8 L61.5,262.6 L62.0,262.4 L62.5,262.3 L63.0,262.1 L63.5,261.8 L64.0,261.5 L64.5,261.2 L65.0,260.9 L65.5,260.5 L66.0,260.1 L66.5,259.6 L67.0,259.0 L67.5,258.4 L68.0,257.8 L68.5,257.0 L69.0,256.2 L69.5,255.3 L70.0,254.4 L70.5,253.4 L71.0,252.3 L71.5,251.2 L72.0,250.0 L72.5,248.7 L73.0,247.4 L73.5,246.1 L74.0,244.7 L74.5,243.4 L75.0,242.1 L75.5,240.8 L76.0,239.6 L76.5,238.4 L77.0,237.4 L77.5,236.6 L78.0,235.9 L78.5,235.4 L79.0,235.1 L79.5,235.0 L80.0,235.2 L80.5,235.6 L81.0,236.2 L81.5,237.0 L82.0,238.0 L82.5,239.0 L83.0,240.2 L83.5,241.5 L84.0,242.8 L84.5,244.2 L85.0,245.5 L85.5,246.9 L86.0,248.2 L86.5,249.5 L87.0,250.7 L87.5,251.9 L88.0,253.0 L88.5,254.1 L89.0,255.1 L89.5,256.0 L90.0,256.8 L90.5,257.6 L91.0,258.3 L91.5,259.0 L92.0,259.6 L92.5,260.1 L93.0,260.6 L93.5,261.0 L94.0,261.4 L94.5,261.7 L95.0,262.0 L95.5,262.3 L96.0,262.5 L96.5,262.7 L97.0,262.9 L97.5,263.0 L98.0,263.2 L98.5,263.3 L99.0,263.4 L99.5,263.5 L100.0,263.6 L100.5,263.7 L101.0,263.8 L101.5,263.9 L102.0,263.9 L102.5,264.0 L103.0,264.0 L103.5,264.1 L104.0,264.2 L104.5,264.2 L105.0,264.2 L105.5,264.3 L106.0,264.3 L106.5,264.4 L107.0,264.4 L107.5,264.4 L108.0,264.5 L108.5,264.5 L109.0,264.5 L109.5,264.6 L110.0,264.6 L110.5,264.6 L111.0,264.6 L111.5,264.7 L112.0,264.7 L112.5,264.7 L113.0,264.7 L113.5,264.8 L114.0,264.8 L114.5,264.8 L115.0,264.8 L115.5,264.8 L116.0,264.9 L116.5,264.9 L117.0,264.9 L117.5,264.9 L118.0,264.9 L118.5,264.9 L119.0,265.0 L119.5,265.0 L120.0,265.0 L120.5,265.0 L121.0,265.0 L121.5,265.0 L122.0,265.1 L122.5,265.1 L123.0,265.1 L123.5,265.1 L124.0,265.1 L124.5,265.1 L125.0,265.1 L125.5,265.1 L126.0,265.2 L126.5,265.2 L127.0,265.2 L127.5,265.2 L128.0,265.2 L128.5,265.2 L129.0,265.2 L129.5,265.2 L130.0,265.2 L130.5,265.3 L131.0,265.3 L131.5,265.3 L132.0,265.3 L132.5,265.3 L133.0,265.3 L133.5,265.3 L134.0,265.3 L134.5,265.3 L135.0,265.3 L135.5,265.3 L136.0,265.4 L136.5,265.4 L137.0,265.4 L137.5,265.4 L138.0,265.4 L138.5,265.4 L139.0,265.4 L139.5,265.4 L140.0,265.4 L140.5,265.4 L141.0,265.4 L141.5,265.4 L142.0,265.5 L142.5,265.5 L143.0,265.5 L143.5,265.5 L144.0,265.5 L144.5,265.5 L145.0,265.5 L145.5,265.5 L146.0,265.5 L146.5,265.5 L147.0,265.5 L147.5,265.5 L148.0,265.5 L148.5,265.6 L149.0,265.6 L149.5,265.6 L150.0,265.6 L150.5,265.6 L151.0,265.6 L151.5,265.6 L152.0,265.6 L152.5,265.6 L153.0,265.6 L153.5,265.6 L154.0,265.6 L154.5,265.6 L155.0,265.6 L155.5,265.6 L156.0,265.7 L156.5,265.7 L157.0,265.7 L157.5,265.7 L158.0,265.7 L158.5,265.7 L159.0,265.7 L159.5,265.7 L160.0,265.7 L160.5,265.7 L161.0,265.7 L161.5,265.7 L162.0,265.7 L162.5,265.7 L163.0,265.7 L163.5,265.7 L164.0,265.8 L164.5,265.8 L165.0,265.8 L165.5,265.8 L166.0,265.8 L166.5,265.8 L167.0,265.8 L167.5,265.8 L168.0,265.8 L168.5,265.8 L169.0,265.8 L169.5,265.8 L170.0,265.8 L170.5,265.8 L171.0,265.8 L171.5,265.8 L172.0,265.8 L172.5,265.9 L173.0,265.9 L173.5,265.9 L174.0,265.9 L174.5,265.9 L175.0,265.9 L175.5,265.9 L176.0,265.9 L176.5,265.9 L177.0,265.9 L177.5,265.9 L178.0,265.9 L178.5,265.9 L179.0,265.9 L179.5,265.9 L180.0,265.9 L180.5,265.9 L181.0,265.9 L181.5,266.0 L182.0,266.0 L182.5,266.0 L183.0,266.0 L183.5,266.0 L184.0,266.0 L184.5,266.0 L185.0,266.0 L185.5,266.0 L186.0,266.0 L186.5,266.0 L187.0,266.0 L187.5,266.0 L188.0,266.0 L188.5,266.0 L189.0,266.0 L189.5,266.0 L190.0,266.0 L190.5,266.1 L191.0,266.1 L191.5,266.1 L192.0,266.1 L192.5,266.1 L193.0,266.1 L193.5,266.1 L194.0,266.1 L194.5,266.1 L195.0,266.1 L195.5,266.1 L196.0,266.1 L196.5,266.1 L197.0,266.1 L197.5,266.1 L198.0,266.1 L198.5,266.1 L199.0,266.1 L199.5,266.1 L200.0,266.2" stroke="#3c9c5c" stroke-width="1.3" fill="none"/>
<path d="M35.0,264.5 L35.5,264.5 L36.0,264.6 L36.5,264.6 L37.0,264.6 L37.5,264.6 L38.0,264.6 L38.5,264.6 L39.0,264.6 L39.5,264.6 L40.0,264.6 L40.5,264.6 L41.0,264.6 L41.5,264.6 L42.0,264.6 L42.5,264.6 L43.0,264.6 L43.5,264.6 L44.0,264.6 L44.5,264.6 L45.0,264.6 L45.5,264.6 L46.0,264.6 L46.5,264.6 L47.0,264.7 L47.5,264.7 L48.0,264.7 L48.5,264.7 L49.0,264.7 L49.5,264.7 L50.0,264.7 L50.5,264.7 L51.0,264.7 L51.5,264.7 L52.0,264.7 L52.5,264.7 L53.0,264.7 L53.5,264.7 L54.0,264.7 L54.5,264.7 L55.0,264.7 L55.5,264.7 L56.0,264.7 L56.5,264.7 L57.0,264.7 L57.5,264.7 L58.0,264.7 L58.5,264.7 L59.0,264.8 L59.5,264.8 L60.0,264.8 L60.5,264.8 L61.0,264.8 L61.5,264.8 L62.0,264.8 L62.5,264.8 L63.0,264.8 L63.5,264.8 L64.0,264.8 L64.5,264.8 L65.0,264.8 L65.5,264.8 L66.0,264.8 L66.5,264.8 L67.0,264.8 L67.5,264.8 L68.0,264.8 L68.5,264.8 L69.0,264.8 L69.5,264.8 L70.0,264.8 L70.5,264.8 L71.0,264.8 L71.5,264.9 L72.0,264.9 L72.5,264.9 L73.0,264.9 L73.5,264.9 L74.0,264.9 L74.5,264.9 L75.0,264.9 L75.5,264.9 L76.0,264.9 L76.5,264.9 L77.0,264.9 L77.5,264.9 L78.0,264.9 L78.5,264.9 L79.0,264.9 L79.5,264.9 L80.0,264.9 L80.5,264.9 L81.0,264.9 L81.5,264.9 L82.0,264.9 L82.5,264.9 L83.0,264.9 L83.5,264.9 L84.0,264.9 L84.5,264.9 L85.0,265.0 L85.5,265.0 L86.0,265.0 L86.5,265.0 L87.0,265.0 L87.5,265.0 L88.0,265.0 L88.5,265.0 L89.0,265.0 L89.5,265.0 L90.0,265.0 L90.5,265.0 L91.0,265.0 L91.5,265.0 L92.0,265.0 L92.5,265.0 L93.0,265.0 L93.5,265.0 L94.0,265.0 L94.5,265.0 L95.0,265.0 L95.5,265.0 L96.0,265.0 L96.5,265.0 L97.0,265.0 L97.5,265.0 L98.0,265.0 L98.5,265.0 L99.0,265.0 L99.5,265.0 L100.0,265.0 L100.5,265.0 L101.0,265.0 L101.5,265.0 L102.0,265.0 L102.5,265.0 L103.0,265.0 L103.5,265.1 L104.0,265.1 L104.5,265.1 L105.0,265.1 L105.5,265.1 L106.0,265.1 L106.5,265.1 L107.0,265.1 L107.5,265.1 L108.0,265.1 L108.5,265.1 L109.0,265.1 L109.5,265.1 L110.0,265.1 L110.5,265.1 L111.0,265.1 L111.5,265.1 L112.0,265.1 L112.5,265.1 L113.0,265.1 L113.5,265.1 L114.0,265.1 L114.5,265.1 L115.0,265.1 L115.5,265.1 L116.0,265.1 L116.5,265.1 L117.0,265.1 L117.5,265.1 L118.0,265.1 L118.5,265.1 L119.0,265.1 L119.5,265.1 L120.0,265.1 L120.5,265.1 L121.0,265.1 L121.5,265.1 L122.0,265.1 L122.5,265.0 L123.0,265.0 L123.5,265.0 L124.0,265.0 L124.5,265.0 L125.0,265.0 L125.5,265.0 L126.0,265.0 L126.5,265.0 L127.0,265.0 L127.5,265.0 L128.0,265.0 L128.5,265.0 L129.0,265.0 L129.5,265.0 L130.0,265.0 L130.5,265.0 L131.0,265.0 L131.5,265.0 L132.0,264.9 L132.5,264.9 L133.0,264.9 L133.5,264.9 L134.0,264.9 L134.5,264.9 L135.0,264.9 L135.5,264.9 L136.0,264.9 L136.5,264.8 L137.0,264.8 L137.5,264.8 L138.0,264.8 L138.5,264.8 L139.0,264.8 L139.5,264.7 L140.0,264.7 L140.5,264.7 L141.0,264.7 L141.5,264.6 L142.0,264.6 L142.5,264.6 L143.0,264.6 L143.5,264.5 L144.0,264.5 L144.5,264.5 L145.0,264.4 L145.5,264.4 L146.0,264.4 L146.5,264.3 L147.0,264.3 L147.5,264.2 L148.0,264.2 L148.5,264.1 L149.0,264.1 L149.5,264.0 L150.0,263.9 L150.5,263.8 L151.0,263.8 L151.5,263.7 L152.0,263.6 L152.5,263.5 L153.0,263.4 L153.5,263.2 L154.0,263.1 L154.5,262.9 L155.0,262.7 L155.5,262.5 L156.0,262.3 L156.5,262.0 L157.0,261.7 L157.5,261.3 L158.0,260.9 L158.5,260.5 L159.0,259.9 L159.5,259.4 L160.0,258.7 L160.5,258.0 L161.0,257.2 L161.5,256.3 L162.0,255.3 L162.5,254.2 L163.0,253.0 L163.5,251.8 L164.0,250.4 L164.5,248.9 L165.0,247.3 L165.5,245.7 L166.0,243.9 L166.5,242.1 L167.0,240.2 L167.5,238.3 L168.0,236.4 L168.5,234.5 L169.0,232.6 L169.5,230.8 L170.0,229.0 L170.5,227.5 L171.0,226.0 L171.5,224.9 L172.0,223.9 L172.5,223.3 L173.0,223.0 L173.5,223.0 L174.0,223.3 L174.5,224.0 L175.0,224.9 L175.5,226.1 L176.0,227.5 L176.5,229.1 L177.0,230.8 L177.5,232.7 L178.0,234.6 L178.5,236.5 L179.0,238.4 L179.5,240.4 L180.0,242.2 L180.5,244.1 L181.0,245.8 L181.5,247.5 L182.0,249.1 L182.5,250.6 L183.0,252.0 L183.5,253.2 L184.0,254.4 L184.5,255.5 L185.0,256.5 L185.5,257.4 L186.0,258.2 L186.5,259.0 L187.0,259.6 L187.5,260.2 L188.0,260.7 L188.5,261.2 L189.0,261.6 L189.5,262.0 L190.0,262.3 L190.5,262.6 L191.0,262.8 L191.5,263.1 L192.0,263.3 L192.5,263.4 L193.0,263.6 L193.5,263.7 L194.0,263.9 L194.5,264.0 L195.0,264.1 L195.5,264.2 L196.0,264.3 L196.5,264.4 L197.0,264.5 L197.5,264.5 L198.0,264.6 L198.5,264.7 L199.0,264.7 L199.5,264.8 L200.0,264.8 L200.5,264.9 L201.0,264.9 L201.5,265.0 L202.0,265.0 L202.5,265.1 L203.0,265.1 L203.5,265.2 L204.0,265.2 L204.5,265.2 L205.0,265.3 L205.5,265.3 L206.0,265.3 L206.5,265.4 L207.0,265.4 L207.5,265.4 L208.0,265.4 L208.5,265.5 L209.0,265.5 L209.5,265.5 L210.0,265.6" stroke="#b468b0" stroke-width="1.3" fill="none"/>
<path d="M35.0,264.6 L210.0,266.3" stroke="#d4a13c" stroke-width="1.3" fill="none"/>
<path d="M35.0,318.0 L36.0,318.4 L37.0,318.5 L38.0,318.6 L39.0,318.7 L40.0,318.6 L41.0,318.9 L42.0,318.3 L43.0,319.1 L44.0,318.6 L45.0,319.1 L46.0,318.7 L47.0,318.7 L48.0,318.8 L49.0,318.9 L50.0,318.4 L51.0,318.5 L52.0,318.4 L53.0,319.2 L54.0,318.6 L55.0,318.6 L56.0,318.7 L57.0,317.9 L58.0,318.6 L59.0,318.1 L60.0,317.9 L61.0,316.7 L62.0,317.3 L63.0,316.3 L64.0,315.6 L65.0,314.7 L66.0,314.8 L67.0,312.8 L68.0,311.5 L69.0,309.8 L70.0,308.0 L71.0,305.5 L72.0,303.1 L73.0,300.6 L74.0,298.4 L75.0,296.0 L76.0,293.5 L77.0,291.3 L78.0,290.6 L79.0,289.4 L80.0,288.8 L81.0,288.8 L82.0,290.0 L83.0,290.9 L84.0,292.8 L85.0,294.3 L86.0,297.6 L87.0,300.0 L88.0,302.2 L89.0,304.8 L90.0,306.8 L91.0,309.3 L92.0,310.9 L93.0,312.4 L94.0,313.8 L95.0,315.4 L96.0,316.1 L97.0,317.1 L98.0,317.2 L99.0,318.1 L100.0,318.4 L101.0,319.0 L102.0,318.7 L103.0,319.2 L104.0,319.4 L105.0,319.6 L106.0,319.6 L107.0,319.8 L108.0,319.9 L109.0,319.5 L110.0,319.4 L111.0,319.9 L112.0,319.9 L113.0,320.0 L114.0,320.0 L115.0,320.0 L116.0,319.8 L117.0,319.6 L118.0,320.0 L119.0,320.0 L120.0,319.6 L121.0,319.9 L122.0,319.6 L123.0,320.4 L124.0,319.7 L125.0,320.0 L126.0,320.6 L127.0,319.7 L128.0,319.6 L129.0,320.0 L130.0,320.7 L131.0,320.4 L132.0,320.3 L133.0,320.1 L134.0,320.2 L135.0,320.0 L136.0,320.4 L137.0,320.6 L138.0,320.4 L139.0,320.7 L140.0,320.9 L141.0,320.6 L142.0,320.2 L143.0,319.8 L144.0,320.5 L145.0,320.0 L146.0,320.5 L147.0,319.6 L148.0,320.1 L149.0,320.2 L150.0,319.8 L151.0,319.7 L152.0,319.7 L153.0,319.0 L154.0,318.9 L155.0,318.4 L156.0,317.9 L157.0,317.6 L158.0,316.3 L159.0,315.0 L160.0,313.5 L161.0,312.3 L162.0,309.8 L163.0,307.7 L164.0,304.8 L165.0,301.4 L166.0,298.2 L167.0,295.5 L168.0,292.4 L169.0,288.4 L170.0,286.0 L171.0,283.1 L172.0,281.8 L173.0,280.2 L174.0,279.5 L175.0,280.8 L176.0,281.9 L177.0,283.1 L178.0,286.2 L179.0,288.5 L180.0,292.1 L181.0,295.2 L182.0,299.1 L183.0,302.3 L184.0,304.7 L185.0,308.5 L186.0,309.7 L187.0,312.4 L188.0,313.9 L189.0,315.6 L190.0,317.0 L191.0,317.9 L192.0,318.3 L193.0,319.8 L194.0,320.0 L195.0,320.3 L196.0,320.4 L197.0,320.7 L198.0,320.4 L199.0,320.4 L200.0,321.3 L201.0,321.1 L202.0,321.4 L203.0,321.0 L204.0,321.6 L205.0,321.3 L206.0,322.2 L207.0,322.3 L208.0,321.3 L209.0,322.1 L210.0,322.4" stroke="#222" stroke-width="1.0" fill="none" stroke-linejoin="round"/>
<path d="M35.0,318.1 L35.5,318.1 L36.0,318.1 L36.5,318.1 L37.0,318.1 L37.5,318.1 L38.0,318.1 L38.5,318.1 L39.0,318.1 L39.5,318.1 L40.0,318.1 L40.5,318.1 L41.0,318.1 L41.5,318.1 L42.0,318.1 L42.5,318.2 L43.0,318.2 L43.5,318.2 L44.0,318.2 L44.5,318.2 L45.0,318.2 L45.5,318.2 L46.0,318.2 L46.5,318.2 L47.0,318.2 L47.5,318.2 L48.0,318.2 L48.5,318.2 L49.0,318.2 L49.5,318.2 L50.0,318.1 L50.5,318.1 L51.0,318.1 L51.5,318.1 L52.0,318.1 L52.5,318.1 L53.0,318.1 L53.5,318.1 L54.0,318.1 L54.5,318.0 L55.0,318.0 L55.5,318.0 L56.0,317.9 L56.5,317.9 L57.0,317.9 L57.5,317.8 L58.0,317.7 L58.5,317.7 L59.0,317.6 L59.5,317.5 L60.0,317.3 L60.5,317.2 L61.0,317.0 L61.5,316.8 L62.0,316.6 L62.5,316.4 L63.0,316.1 L63.5,315.8 L64.0,315.4 L64.5,315.0 L65.0,314.6 L65.5,314.1 L66.0,313.6 L66.5,313.0 L67.0,312.3 L67.5,311.6 L68.0,310.8 L68.5,310.0 L69.0,309.1 L69.5,308.2 L70.0,307.2 L70.5,306.1 L71.0,305.0 L71.5,303.9 L72.0,302.7 L72.5,301.5 L73.0,300.3 L73.5,299.0 L74.0,297.8 L74.5,296.6 L75.0,295.4 L75.5,294.3 L76.0,293.2 L76.5,292.2 L77.0,291.3 L77.5,290.5 L78.0,289.7 L78.5,289.2 L79.0,288.7 L79.5,288.4 L80.0,288.3 L80.5,288.3 L81.0,288.4 L81.5,288.8 L82.0,289.2 L82.5,289.8 L83.0,290.6 L83.5,291.4 L84.0,292.4 L84.5,293.4 L85.0,294.5 L85.5,295.7 L86.0,296.9 L86.5,298.1 L87.0,299.3 L87.5,300.6 L88.0,301.8 L88.5,303.0 L89.0,304.2 L89.5,305.4 L90.0,306.5 L90.5,307.6 L91.0,308.6 L91.5,309.6 L92.0,310.5 L92.5,311.3 L93.0,312.1 L93.5,312.9 L94.0,313.5 L94.5,314.2 L95.0,314.7 L95.5,315.2 L96.0,315.7 L96.5,316.1 L97.0,316.5 L97.5,316.8 L98.0,317.1 L98.5,317.4 L99.0,317.6 L99.5,317.8 L100.0,318.0 L100.5,318.2 L101.0,318.3 L101.5,318.5 L102.0,318.6 L102.5,318.7 L103.0,318.8 L103.5,318.8 L104.0,318.9 L104.5,319.0 L105.0,319.0 L105.5,319.1 L106.0,319.1 L106.5,319.2 L107.0,319.2 L107.5,319.2 L108.0,319.3 L108.5,319.3 L109.0,319.3 L109.5,319.4 L110.0,319.4 L110.5,319.4 L111.0,319.5 L111.5,319.5 L112.0,319.5 L112.5,319.5 L113.0,319.5 L113.5,319.6 L114.0,319.6 L114.5,319.6 L115.0,319.6 L115.5,319.7 L116.0,319.7 L116.5,319.7 L117.0,319.7 L117.5,319.7 L118.0,319.7 L118.5,319.8 L119.0,319.8 L119.5,319.8 L120.0,319.8 L120.5,319.8 L121.0,319.9 L121.5,319.9 L122.0,319.9 L122.5,319.9 L123.0,319.9 L123.5,319.9 L124.0,319.9 L124.5,320.0 L125.0,320.0 L125.5,320.0 L126.0,320.0 L126.5,320.0 L127.0,320.0 L127.5,320.1 L128.0,320.1 L128.5,320.1 L129.0,320.1 L129.5,320.1 L130.0,320.1 L130.5,320.1 L131.0,320.2 L131.5,320.2 L132.0,320.2 L132.5,320.2 L133.0,320.2 L133.5,320.2 L134.0,320.2 L134.5,320.3 L135.0,320.3 L135.5,320.3 L136.0,320.3 L136.5,320.3 L137.0,320.3 L137.5,320.3 L138.0,320.3 L138.5,320.4 L139.0,320.4 L139.5,320.4 L140.0,320.4 L140.5,320.4 L141.0,320.4 L141.5,320.4 L142.0,320.4 L142.5,320.5 L143.0,320.5 L143.5,320.5 L144.0,320.5 L144.5,320.5 L145.0,320.5 L145.5,320.5 L146.0,320.5 L146.5,320.6 L147.0,320.6 L147.5,320.6 L148.0,320.6 L148.5,320.6 L149.0,320.6 L149.5,320.6 L150.0,320.6 L150.5,320.6 L151.0,320.7 L151.5,320.7 L152.0,320.7 L152.5,320.7 L153.0,320.7 L153.5,320.7 L154.0,320.7 L154.5,320.7 L155.0,320.8 L155.5,320.8 L156.0,320.8 L156.5,320.8 L157.0,320.8 L157.5,320.8 L158.0,320.8 L158.5,320.8 L159.0,320.8 L159.5,320.9 L160.0,320.9 L160.5,320.9 L161.0,320.9 L161.5,320.9 L162.0,320.9 L162.5,320.9 L163.0,320.9 L163.5,321.0 L164.0,321.0 L164.5,321.0 L165.0,321.0 L165.5,321.0 L166.0,321.0 L166.5,321.0 L167.0,321.0 L167.5,321.0 L168.0,321.1 L168.5,321.1 L169.0,321.1 L169.5,321.1 L170.0,321.1 L170.5,321.1 L171.0,321.1 L171.5,321.1 L172.0,321.1 L172.5,321.2 L173.0,321.2 L173.5,321.2 L174.0,321.2 L174.5,321.2 L175.0,321.2 L175.5,321.2" stroke="#3c9c5c" stroke-width="1.3" fill="none"/>
<path d="M49.5,318.6 L50.0,318.6 L50.5,318.6 L51.0,318.6 L51.5,318.6 L52.0,318.6 L52.5,318.6 L53.0,318.6 L53.5,318.6 L54.0,318.6 L54.5,318.7 L55.0,318.7 L55.5,318.7 L56.0,318.7 L56.5,318.7 L57.0,318.7 L57.5,318.7 L58.0,318.7 L58.5,318.7 L59.0,318.7 L59.5,318.8 L60.0,318.8 L60.5,318.8 L61.0,318.8 L61.5,318.8 L62.0,318.8 L62.5,318.8 L63.0,318.8 L63.5,318.8 L64.0,318.8 L64.5,318.9 L65.0,318.9 L65.5,318.9 L66.0,318.9 L66.5,318.9 L67.0,318.9 L67.5,318.9 L68.0,318.9 L68.5,318.9 L69.0,318.9 L69.5,319.0 L70.0,319.0 L70.5,319.0 L71.0,319.0 L71.5,319.0 L72.0,319.0 L72.5,319.0 L73.0,319.0 L73.5,319.0 L74.0,319.0 L74.5,319.1 L75.0,319.1 L75.5,319.1 L76.0,319.1 L76.5,319.1 L77.0,319.1 L77.5,319.1 L78.0,319.1 L78.5,319.1 L79.0,319.1 L79.5,319.2 L80.0,319.2 L80.5,319.2 L81.0,319.2 L81.5,319.2 L82.0,319.2 L82.5,319.2 L83.0,319.2 L83.5,319.2 L84.0,319.2 L84.5,319.2 L85.0,319.3 L85.5,319.3 L86.0,319.3 L86.5,319.3 L87.0,319.3 L87.5,319.3 L88.0,319.3 L88.5,319.3 L89.0,319.3 L89.5,319.3 L90.0,319.4 L90.5,319.4 L91.0,319.4 L91.5,319.4 L92.0,319.4 L92.5,319.4 L93.0,319.4 L93.5,319.4 L94.0,319.4 L94.5,319.4 L95.0,319.4 L95.5,319.5 L96.0,319.5 L96.5,319.5 L97.0,319.5 L97.5,319.5 L98.0,319.5 L98.5,319.5 L99.0,319.5 L99.5,319.5 L100.0,319.5 L100.5,319.5 L101.0,319.6 L101.5,319.6 L102.0,319.6 L102.5,319.6 L103.0,319.6 L103.5,319.6 L104.0,319.6 L104.5,319.6 L105.0,319.6 L105.5,319.6 L106.0,319.6 L106.5,319.6 L107.0,319.7 L107.5,319.7 L108.0,319.7 L108.5,319.7 L109.0,319.7 L109.5,319.7 L110.0,319.7 L110.5,319.7 L111.0,319.7 L111.5,319.7 L112.0,319.7 L112.5,319.7 L113.0,319.7 L113.5,319.8 L114.0,319.8 L114.5,319.8 L115.0,319.8 L115.5,319.8 L116.0,319.8 L116.5,319.8 L117.0,319.8 L117.5,319.8 L118.0,319.8 L118.5,319.8 L119.0,319.8 L119.5,319.8 L120.0,319.8 L120.5,319.8 L121.0,319.8 L121.5,319.9 L122.0,319.9 L122.5,319.9 L123.0,319.9 L123.5,319.9 L124.0,319.9 L124.5,319.9 L125.0,319.9 L125.5,319.9 L126.0,319.9 L126.5,319.9 L127.0,319.9 L127.5,319.9 L128.0,319.9 L128.5,319.9 L129.0,319.9 L129.5,319.9 L130.0,319.9 L130.5,319.9 L131.0,319.9 L131.5,319.9 L132.0,319.9 L132.5,319.9 L133.0,319.9 L133.5,319.9 L134.0,319.9 L134.5,319.9 L135.0,319.9 L135.5,319.9 L136.0,319.9 L136.5,319.9 L137.0,319.9 L137.5,319.9 L138.0,319.9 L138.5,319.9 L139.0,319.9 L139.5,319.9 L140.0,319.9 L140.5,319.9 L141.0,319.9 L141.5,319.9 L142.0,319.8 L142.5,319.8 L143.0,319.8 L143.5,319.8 L144.0,319.8 L144.5,319.8 L145.0,319.8 L145.5,319.7 L146.0,319.7 L146.5,319.7 L147.0,319.7 L147.5,319.6 L148.0,319.6 L148.5,319.5 L149.0,319.5 L149.5,319.4 L150.0,319.4 L150.5,319.3 L151.0,319.2 L151.5,319.1 L152.0,319.0 L152.5,318.9 L153.0,318.8 L153.5,318.6 L154.0,318.4 L154.5,318.2 L155.0,318.0 L155.5,317.7 L156.0,317.4 L156.5,317.0 L157.0,316.6 L157.5,316.1 L158.0,315.6 L158.5,315.1 L159.0,314.4 L159.5,313.7 L160.0,313.0 L160.5,312.1 L161.0,311.2 L161.5,310.2 L162.0,309.2 L162.5,308.0 L163.0,306.8 L163.5,305.5 L164.0,304.1 L164.5,302.7 L165.0,301.2 L165.5,299.7 L166.0,298.1 L166.5,296.5 L167.0,294.8 L167.5,293.2 L168.0,291.5 L168.5,289.9 L169.0,288.3 L169.5,286.8 L170.0,285.4 L170.5,284.0 L171.0,282.8 L171.5,281.8 L172.0,280.9 L172.5,280.2 L173.0,279.6 L173.5,279.3 L174.0,279.2 L174.5,279.4 L175.0,279.7 L175.5,280.2 L176.0,281.0 L176.5,281.9 L177.0,283.0 L177.5,284.2 L178.0,285.5 L178.5,287.0 L179.0,288.5 L179.5,290.1 L180.0,291.8 L180.5,293.4 L181.0,295.1 L181.5,296.8 L182.0,298.4 L182.5,300.0 L183.0,301.6 L183.5,303.1 L184.0,304.6 L184.5,306.0 L185.0,307.3 L185.5,308.5 L186.0,309.7 L186.5,310.8 L187.0,311.8 L187.5,312.7 L188.0,313.6 L188.5,314.4 L189.0,315.1 L189.5,315.7 L190.0,316.3 L190.5,316.8 L191.0,317.3 L191.5,317.7 L192.0,318.1 L192.5,318.5 L193.0,318.8 L193.5,319.0 L194.0,319.3 L194.5,319.5 L195.0,319.6 L195.5,319.8 L196.0,320.0 L196.5,320.1 L197.0,320.2 L197.5,320.3 L198.0,320.4 L198.5,320.5 L199.0,320.6 L199.5,320.6 L200.0,320.7 L200.5,320.7 L201.0,320.8 L201.5,320.9 L202.0,320.9 L202.5,320.9 L203.0,321.0 L203.5,321.0 L204.0,321.1 L204.5,321.1 L205.0,321.1 L205.5,321.2 L206.0,321.2 L206.5,321.2 L207.0,321.3 L207.5,321.3 L208.0,321.3 L208.5,321.4 L209.0,321.4 L209.5,321.4 L210.0,321.4" stroke="#b468b0" stroke-width="1.3" fill="none"/>
<path d="M35.0,318.3 L210.0,322.0" stroke="#4b73b8" stroke-width="1.3" fill="none"/>
<path d="M174.0,225.0 L174.0,297.0" stroke="#111" stroke-width="1.3" stroke-dasharray="2.2,1.8" fill="none"/>
<rect x="35" y="195" width="175" height="132" fill="none" stroke="#3c3c3c" stroke-width="1.4"/>
<path d="M60.0,327.0 L60.0,324.5" stroke="#3c3c3c" stroke-width="1.2"/>
<path d="M85.0,327.0 L85.0,324.5" stroke="#3c3c3c" stroke-width="1.2"/>
<path d="M110.0,327.0 L110.0,324.5" stroke="#3c3c3c" stroke-width="1.2"/>
<path d="M135.0,327.0 L135.0,324.5" stroke="#3c3c3c" stroke-width="1.2"/>
<path d="M160.0,327.0 L160.0,324.5" stroke="#3c3c3c" stroke-width="1.2"/>
<path d="M185.0,327.0 L185.0,324.5" stroke="#3c3c3c" stroke-width="1.2"/>
<text x="35.0" y="337.0" font-size="9.5" fill="#000" font-weight="bold" text-anchor="middle" >456</text>
<text x="85.0" y="337.0" font-size="9.5" fill="#000" font-weight="bold" text-anchor="middle" >452</text>
<text x="135.0" y="337.0" font-size="9.5" fill="#000" font-weight="bold" text-anchor="middle" >448</text>
<text x="185.0" y="337.0" font-size="9.5" fill="#000" font-weight="bold" text-anchor="middle" >444</text>
<text x="122.5" y="354.7" font-size="12.5" fill="#000" font-weight="bold" text-anchor="middle" >Binding Energy (eV)</text>
<text x="0.0" y="0.0" font-size="12.3" fill="#000" font-weight="bold" text-anchor="middle" transform="translate(23.0,256.6) rotate(-90)">Intensity (a.u.)</text>
<text x="13.8" y="197.5" font-size="17.6" fill="#000" font-weight="bold" text-anchor="start" >d</text>
<text x="70.0" y="228.0" font-size="9.5" fill="#3a9a5a" font-weight="bold" text-anchor="start" >In 2p<tspan font-size="5.89" dy="3.0">3/2</tspan></text>
<text x="157.0" y="217.0" font-size="9.5" fill="#9a6cc4" font-weight="bold" text-anchor="start" >In 2p<tspan font-size="5.89" dy="3.0">1/2</tspan></text>
<text x="115.5" y="262.3" font-size="9.8" fill="#000" font-weight="bold" text-anchor="start" >ZCIS</text>
<text x="106.0" y="316.0" font-size="9.5" fill="#000" font-weight="bold" text-anchor="start" >CeO<tspan font-size="5.89" dy="3.0">2</tspan><tspan dy="-3.0">/ZCIS</tspan></text>
</g>
<g>
<path d="M254.5,258.3 L255.5,258.1 L256.5,258.4 L257.5,258.8 L258.5,258.2 L259.5,258.3 L260.5,258.4 L261.5,258.7 L262.5,258.7 L263.5,258.5 L264.5,258.0 L265.5,259.0 L266.5,259.0 L267.5,258.4 L268.5,258.8 L269.5,258.5 L270.5,258.4 L271.5,259.1 L272.5,258.8 L273.5,258.7 L274.5,258.1 L275.5,258.9 L276.5,259.2 L277.5,258.7 L278.5,258.4 L279.5,258.3 L280.5,258.5 L281.5,258.4 L282.5,257.9 L283.5,258.5 L284.5,258.8 L285.5,258.2 L286.5,258.2 L287.5,258.7 L288.5,258.3 L289.5,258.5 L290.5,258.5 L291.5,258.9 L292.5,258.3 L293.5,258.6 L294.5,259.0 L295.5,258.4 L296.5,258.9 L297.5,258.3 L298.5,258.5 L299.5,258.5 L300.5,258.3 L301.5,258.7 L302.5,257.6 L303.5,257.7 L304.5,258.8 L305.5,258.5 L306.5,258.2 L307.5,258.2 L308.5,258.2 L309.5,258.1 L310.5,258.5 L311.5,258.6 L312.5,258.7 L313.5,258.1 L314.5,258.3 L315.5,258.5 L316.5,258.1 L317.5,257.9 L318.5,258.1 L319.5,258.5 L320.5,257.4 L321.5,257.3 L322.5,257.5 L323.5,258.1 L324.5,257.5 L325.5,257.6 L326.5,257.6 L327.5,257.5 L328.5,257.7 L329.5,256.5 L330.5,257.2 L331.5,256.6 L332.5,256.3 L333.5,257.2 L334.5,255.8 L335.5,255.2 L336.5,254.5 L337.5,254.0 L338.5,252.8 L339.5,251.4 L340.5,250.0 L341.5,247.9 L342.5,246.7 L343.5,244.9 L344.5,242.9 L345.5,241.1 L346.5,237.9 L347.5,237.2 L348.5,234.5 L349.5,233.2 L350.5,232.2 L351.5,230.8 L352.5,230.1 L353.5,230.7 L354.5,229.9 L355.5,231.1 L356.5,230.3 L357.5,230.6 L358.5,229.8 L359.5,228.5 L360.5,227.7 L361.5,226.8 L362.5,223.8 L363.5,221.7 L364.5,218.3 L365.5,215.6 L366.5,212.7 L367.5,211.4 L368.5,209.2 L369.5,207.1 L370.5,207.2 L371.5,208.2 L372.5,210.3 L373.5,213.9 L374.5,216.7 L375.5,220.9 L376.5,224.7 L377.5,228.6 L378.5,232.0 L379.5,235.7 L380.5,239.1 L381.5,241.5 L382.5,244.9 L383.5,247.3 L384.5,248.7 L385.5,250.2 L386.5,251.7 L387.5,252.9 L388.5,253.7 L389.5,254.6 L390.5,254.8 L391.5,255.4 L392.5,255.4 L393.5,256.4 L394.5,256.0 L395.5,256.7 L396.5,256.6 L397.5,257.4 L398.5,257.1 L399.5,258.3 L400.5,257.2 L401.5,256.8 L402.5,257.3 L403.5,258.2 L404.5,258.1 L405.5,258.2 L406.5,258.2 L407.5,258.2 L408.5,258.0 L409.5,257.8 L410.5,258.4 L411.5,257.5 L412.5,258.9 L413.5,258.3 L414.5,258.1 L415.5,258.9 L416.5,259.1 L417.5,259.0 L418.5,258.8 L419.5,257.9 L420.5,259.3 L421.5,258.6 L422.5,258.9 L423.5,259.4 L424.5,259.0 L425.5,258.6 L426.5,259.5 L427.5,259.0 L428.5,258.7" stroke="#333" stroke-width="1.0" fill="none" stroke-linejoin="round"/>
<path d="M294.0,257.5 L294.5,257.5 L295.0,257.5 L295.5,257.5 L296.0,257.5 L296.5,257.5 L297.0,257.5 L297.5,257.5 L298.0,257.5 L298.5,257.5 L299.0,257.5 L299.5,257.5 L300.0,257.5 L300.5,257.5 L301.0,257.5 L301.5,257.5 L302.0,257.5 L302.5,257.5 L303.0,257.5 L303.5,257.4 L304.0,257.4 L304.5,257.4 L305.0,257.4 L305.5,257.4 L306.0,257.4 L306.5,257.4 L307.0,257.4 L307.5,257.4 L308.0,257.4 L308.5,257.4 L309.0,257.4 L309.5,257.4 L310.0,257.3 L310.5,257.3 L311.0,257.3 L311.5,257.3 L312.0,257.3 L312.5,257.3 L313.0,257.3 L313.5,257.3 L314.0,257.2 L314.5,257.2 L315.0,257.2 L315.5,257.2 L316.0,257.2 L316.5,257.2 L317.0,257.2 L317.5,257.1 L318.0,257.1 L318.5,257.1 L319.0,257.1 L319.5,257.1 L320.0,257.0 L320.5,257.0 L321.0,257.0 L321.5,257.0 L322.0,257.0 L322.5,256.9 L323.0,256.9 L323.5,256.9 L324.0,256.8 L324.5,256.8 L325.0,256.8 L325.5,256.7 L326.0,256.7 L326.5,256.7 L327.0,256.6 L327.5,256.6 L328.0,256.5 L328.5,256.4 L329.0,256.4 L329.5,256.3 L330.0,256.2 L330.5,256.1 L331.0,256.0 L331.5,255.9 L332.0,255.8 L332.5,255.7 L333.0,255.5 L333.5,255.3 L334.0,255.1 L334.5,254.9 L335.0,254.7 L335.5,254.4 L336.0,254.1 L336.5,253.7 L337.0,253.3 L337.5,252.9 L338.0,252.4 L338.5,251.8 L339.0,251.3 L339.5,250.6 L340.0,249.9 L340.5,249.2 L341.0,248.4 L341.5,247.6 L342.0,246.7 L342.5,245.8 L343.0,244.8 L343.5,243.8 L344.0,242.7 L344.5,241.7 L345.0,240.6 L345.5,239.5 L346.0,238.4 L346.5,237.4 L347.0,236.3 L347.5,235.3 L348.0,234.4 L348.5,233.5 L349.0,232.7 L349.5,232.0 L350.0,231.3 L350.5,230.8 L351.0,230.4 L351.5,230.0 L352.0,229.8 L352.5,229.7 L353.0,229.6 L353.5,229.6 L354.0,229.6 L354.5,229.7 L355.0,229.8 L355.5,229.9 L356.0,229.9 L356.5,229.9 L357.0,229.9 L357.5,229.8 L358.0,229.6 L358.5,229.3 L359.0,228.9 L359.5,228.4 L360.0,227.8 L360.5,227.1 L361.0,226.2 L361.5,225.3 L362.0,224.2 L362.5,223.0 L363.0,221.8 L363.5,220.4 L364.0,219.0 L364.5,217.6 L365.0,216.1 L365.5,214.7 L366.0,213.2 L366.5,211.9 L367.0,210.6 L367.5,209.5 L368.0,208.5 L368.5,207.6 L369.0,207.0 L369.5,206.7 L370.0,206.6 L370.5,206.7 L371.0,207.1 L371.5,207.8 L372.0,208.7 L372.5,209.8 L373.0,211.1 L373.5,212.6 L374.0,214.2 L374.5,215.9 L375.0,217.8 L375.5,219.7 L376.0,221.6 L376.5,223.5 L377.0,225.5 L377.5,227.4 L378.0,229.3 L378.5,231.2 L379.0,232.9 L379.5,234.7 L380.0,236.3 L380.5,237.9 L381.0,239.4 L381.5,240.8 L382.0,242.2 L382.5,243.4 L383.0,244.6 L383.5,245.7 L384.0,246.7 L384.5,247.6 L385.0,248.4 L385.5,249.2 L386.0,249.9 L386.5,250.6 L387.0,251.2 L387.5,251.7 L388.0,252.2 L388.5,252.6 L389.0,253.0 L389.5,253.4 L390.0,253.7 L390.5,254.0 L391.0,254.3 L391.5,254.5 L392.0,254.7 L392.5,254.9 L393.0,255.1 L393.5,255.2 L394.0,255.4 L394.5,255.5 L395.0,255.6 L395.5,255.8 L396.0,255.9 L396.5,256.0 L397.0,256.1 L397.5,256.1 L398.0,256.2 L398.5,256.3 L399.0,256.4 L399.5,256.4 L400.0,256.5 L400.5,256.6 L401.0,256.6 L401.5,256.7 L402.0,256.7 L402.5,256.8 L403.0,256.8 L403.5,256.9 L404.0,256.9 L404.5,257.0 L405.0,257.0 L405.5,257.1 L406.0,257.1 L406.5,257.1 L407.0,257.2 L407.5,257.2 L408.0,257.2 L408.5,257.3 L409.0,257.3 L409.5,257.3 L410.0,257.4 L410.5,257.4 L411.0,257.4 L411.5,257.4 L412.0,257.5 L412.5,257.5 L413.0,257.5 L413.5,257.5 L414.0,257.6 L414.5,257.6 L415.0,257.6 L415.5,257.6 L416.0,257.7 L416.5,257.7 L417.0,257.7 L417.5,257.7 L418.0,257.7 L418.5,257.8 L419.0,257.8 L419.5,257.8 L420.0,257.8 L420.5,257.8 L421.0,257.8 L421.5,257.9 L422.0,257.9 L422.5,257.9 L423.0,257.9 L423.5,257.9 L424.0,257.9 L424.5,257.9 L425.0,258.0 L425.5,258.0 L426.0,258.0 L426.5,258.0 L427.0,258.0 L427.5,258.0 L428.0,258.0 L428.5,258.0 L429.0,258.1" stroke="#e8473c" stroke-width="1.3" fill="none"/>
<path d="M305.5,257.6 L306.0,257.6 L306.5,257.6 L307.0,257.6 L307.5,257.6 L308.0,257.6 L308.5,257.6 L309.0,257.6 L309.5,257.6 L310.0,257.6 L310.5,257.5 L311.0,257.5 L311.5,257.5 L312.0,257.5 L312.5,257.5 L313.0,257.5 L313.5,257.5 L314.0,257.5 L314.5,257.5 L315.0,257.5 L315.5,257.5 L316.0,257.5 L316.5,257.5 L317.0,257.5 L317.5,257.5 L318.0,257.4 L318.5,257.4 L319.0,257.4 L319.5,257.4 L320.0,257.4 L320.5,257.4 L321.0,257.4 L321.5,257.4 L322.0,257.4 L322.5,257.3 L323.0,257.3 L323.5,257.3 L324.0,257.3 L324.5,257.3 L325.0,257.3 L325.5,257.3 L326.0,257.2 L326.5,257.2 L327.0,257.2 L327.5,257.2 L328.0,257.2 L328.5,257.2 L329.0,257.1 L329.5,257.1 L330.0,257.1 L330.5,257.1 L331.0,257.0 L331.5,257.0 L332.0,257.0 L332.5,257.0 L333.0,256.9 L333.5,256.9 L334.0,256.9 L334.5,256.9 L335.0,256.8 L335.5,256.8 L336.0,256.8 L336.5,256.7 L337.0,256.7 L337.5,256.6 L338.0,256.6 L338.5,256.6 L339.0,256.5 L339.5,256.5 L340.0,256.4 L340.5,256.4 L341.0,256.3 L341.5,256.2 L342.0,256.2 L342.5,256.1 L343.0,256.0 L343.5,255.9 L344.0,255.9 L344.5,255.8 L345.0,255.7 L345.5,255.6 L346.0,255.4 L346.5,255.3 L347.0,255.2 L347.5,255.0 L348.0,254.9 L348.5,254.7 L349.0,254.5 L349.5,254.2 L350.0,254.0 L350.5,253.7 L351.0,253.4 L351.5,253.0 L352.0,252.6 L352.5,252.2 L353.0,251.7 L353.5,251.2 L354.0,250.6 L354.5,249.9 L355.0,249.2 L355.5,248.4 L356.0,247.6 L356.5,246.6 L357.0,245.6 L357.5,244.6 L358.0,243.4 L358.5,242.1 L359.0,240.8 L359.5,239.4 L360.0,237.9 L360.5,236.3 L361.0,234.6 L361.5,232.9 L362.0,231.1 L362.5,229.3 L363.0,227.4 L363.5,225.5 L364.0,223.6 L364.5,221.7 L365.0,219.8 L365.5,217.9 L366.0,216.2 L366.5,214.5 L367.0,212.9 L367.5,211.6 L368.0,210.3 L368.5,209.3 L369.0,208.6 L369.5,208.1 L370.0,207.8 L370.5,207.9 L371.0,208.2 L371.5,208.7 L372.0,209.6 L372.5,210.6 L373.0,211.9 L373.5,213.3 L374.0,214.9 L374.5,216.6 L375.0,218.4 L375.5,220.3 L376.0,222.2 L376.5,224.1 L377.0,226.0 L377.5,227.9 L378.0,229.8 L378.5,231.6 L379.0,233.4 L379.5,235.1 L380.0,236.7 L380.5,238.3 L381.0,239.8 L381.5,241.2 L382.0,242.5 L382.5,243.8 L383.0,244.9 L383.5,246.0 L384.0,247.0 L384.5,247.9 L385.0,248.8 L385.5,249.5 L386.0,250.2 L386.5,250.9 L387.0,251.4 L387.5,252.0 L388.0,252.5 L388.5,252.9 L389.0,253.3 L389.5,253.6 L390.0,253.9 L390.5,254.2 L391.0,254.5 L391.5,254.7 L392.0,254.9 L392.5,255.1 L393.0,255.3 L393.5,255.4 L394.0,255.6 L394.5,255.7 L395.0,255.8 L395.5,255.9 L396.0,256.0 L396.5,256.1 L397.0,256.2 L397.5,256.3 L398.0,256.4 L398.5,256.5 L399.0,256.5 L399.5,256.6 L400.0,256.7 L400.5,256.7 L401.0,256.8 L401.5,256.8 L402.0,256.9 L402.5,256.9 L403.0,257.0 L403.5,257.0 L404.0,257.1 L404.5,257.1 L405.0,257.1 L405.5,257.2 L406.0,257.2 L406.5,257.2 L407.0,257.3 L407.5,257.3 L408.0,257.3 L408.5,257.4 L409.0,257.4 L409.5,257.4 L410.0,257.5 L410.5,257.5 L411.0,257.5 L411.5,257.5 L412.0,257.6 L412.5,257.6 L413.0,257.6 L413.5,257.6 L414.0,257.7 L414.5,257.7 L415.0,257.7 L415.5,257.7 L416.0,257.7 L416.5,257.8 L417.0,257.8 L417.5,257.8 L418.0,257.8 L418.5,257.8 L419.0,257.8 L419.5,257.9 L420.0,257.9 L420.5,257.9 L421.0,257.9 L421.5,257.9 L422.0,257.9 L422.5,258.0 L423.0,258.0 L423.5,258.0 L424.0,258.0 L424.5,258.0 L425.0,258.0 L425.5,258.0 L426.0,258.0 L426.5,258.1 L427.0,258.1 L427.5,258.1 L428.0,258.1 L428.5,258.1 L429.0,258.1" stroke="#3c9c5c" stroke-width="1.1" fill="none"/>
<path d="M322.0,257.7 L322.5,257.7 L323.0,257.6 L323.5,257.6 L324.0,257.6 L324.5,257.6 L325.0,257.6 L325.5,257.6 L326.0,257.5 L326.5,257.5 L327.0,257.5 L327.5,257.5 L328.0,257.4 L328.5,257.4 L329.0,257.4 L329.5,257.3 L330.0,257.3 L330.5,257.2 L331.0,257.1 L331.5,257.0 L332.0,256.9 L332.5,256.8 L333.0,256.7 L333.5,256.6 L334.0,256.4 L334.5,256.2 L335.0,256.0 L335.5,255.7 L336.0,255.4 L336.5,255.1 L337.0,254.8 L337.5,254.4 L338.0,253.9 L338.5,253.4 L339.0,252.9 L339.5,252.3 L340.0,251.7 L340.5,251.0 L341.0,250.3 L341.5,249.5 L342.0,248.7 L342.5,247.8 L343.0,246.9 L343.5,246.0 L344.0,245.1 L344.5,244.1 L345.0,243.1 L345.5,242.2 L346.0,241.2 L346.5,240.3 L347.0,239.4 L347.5,238.5 L348.0,237.8 L348.5,237.1 L349.0,236.5 L349.5,236.0 L350.0,235.6 L350.5,235.3 L351.0,235.2 L351.5,235.3 L352.0,235.4 L352.5,235.7 L353.0,236.1 L353.5,236.7 L354.0,237.3 L354.5,238.0 L355.0,238.8 L355.5,239.7 L356.0,240.6 L356.5,241.5 L357.0,242.5 L357.5,243.5 L358.0,244.5 L358.5,245.4 L359.0,246.4 L359.5,247.3 L360.0,248.2 L360.5,249.1 L361.0,249.9 L361.5,250.6 L362.0,251.3 L362.5,252.0 L363.0,252.6 L363.5,253.2 L364.0,253.7 L364.5,254.2 L365.0,254.6 L365.5,255.0 L366.0,255.4 L366.5,255.7 L367.0,256.0 L367.5,256.2 L368.0,256.4 L368.5,256.6 L369.0,256.8 L369.5,256.9 L370.0,257.0 L370.5,257.2 L371.0,257.3 L371.5,257.3 L372.0,257.4 L372.5,257.5 L373.0,257.5 L373.5,257.6 L374.0,257.6 L374.5,257.7 L375.0,257.7 L375.5,257.7 L376.0,257.8 L376.5,257.8 L377.0,257.8 L377.5,257.9 L378.0,257.9 L378.5,257.9 L379.0,257.9 L379.5,257.9 L380.0,257.9 L380.5,258.0" stroke="#9a6cc4" stroke-width="1.1" fill="none"/>
<path d="M254.5,257.8 L429.0,258.6" stroke="#d4a13c" stroke-width="1.3" fill="none"/>
<path d="M254.5,319.3 L255.5,318.9 L256.5,319.5 L257.5,319.7 L258.5,319.8 L259.5,319.9 L260.5,318.8 L261.5,319.8 L262.5,319.5 L263.5,319.7 L264.5,319.8 L265.5,318.8 L266.5,319.6 L267.5,319.2 L268.5,319.6 L269.5,319.0 L270.5,319.2 L271.5,319.7 L272.5,319.9 L273.5,318.4 L274.5,319.5 L275.5,319.3 L276.5,319.7 L277.5,319.8 L278.5,319.0 L279.5,319.7 L280.5,319.3 L281.5,319.6 L282.5,319.4 L283.5,319.7 L284.5,319.1 L285.5,320.0 L286.5,320.0 L287.5,320.1 L288.5,319.8 L289.5,319.9 L290.5,319.6 L291.5,319.3 L292.5,319.5 L293.5,319.3 L294.5,319.5 L295.5,319.3 L296.5,319.2 L297.5,319.3 L298.5,319.5 L299.5,319.7 L300.5,319.5 L301.5,319.7 L302.5,319.4 L303.5,319.5 L304.5,319.5 L305.5,319.5 L306.5,319.4 L307.5,319.8 L308.5,319.1 L309.5,319.5 L310.5,319.2 L311.5,319.8 L312.5,318.8 L313.5,319.5 L314.5,318.5 L315.5,319.3 L316.5,319.0 L317.5,318.6 L318.5,319.1 L319.5,319.5 L320.5,319.1 L321.5,319.3 L322.5,319.1 L323.5,318.5 L324.5,319.1 L325.5,319.3 L326.5,318.6 L327.5,319.0 L328.5,318.9 L329.5,318.4 L330.5,317.4 L331.5,317.0 L332.5,315.4 L333.5,315.5 L334.5,313.9 L335.5,312.6 L336.5,311.4 L337.5,308.8 L338.5,307.1 L339.5,305.6 L340.5,302.2 L341.5,300.4 L342.5,297.7 L343.5,295.1 L344.5,294.3 L345.5,292.2 L346.5,291.8 L347.5,290.0 L348.5,289.6 L349.5,290.1 L350.5,290.6 L351.5,290.3 L352.5,291.0 L353.5,290.3 L354.5,290.9 L355.5,288.0 L356.5,287.7 L357.5,286.6 L358.5,285.8 L359.5,284.1 L360.5,282.4 L361.5,281.2 L362.5,279.8 L363.5,278.4 L364.5,277.6 L365.5,276.5 L366.5,275.1 L367.5,276.8 L368.5,276.5 L369.5,277.8 L370.5,278.7 L371.5,280.4 L372.5,281.8 L373.5,283.9 L374.5,286.6 L375.5,288.9 L376.5,290.5 L377.5,293.5 L378.5,296.0 L379.5,297.8 L380.5,301.5 L381.5,303.0 L382.5,305.1 L383.5,307.0 L384.5,308.6 L385.5,310.7 L386.5,311.6 L387.5,312.9 L388.5,313.8 L389.5,315.2 L390.5,314.9 L391.5,316.8 L392.5,317.8 L393.5,317.0 L394.5,317.6 L395.5,317.7 L396.5,318.5 L397.5,319.0 L398.5,319.5 L399.5,319.3 L400.5,319.3 L401.5,318.5 L402.5,318.9 L403.5,319.5 L404.5,318.6 L405.5,319.9 L406.5,320.2 L407.5,319.4 L408.5,319.3 L409.5,319.8 L410.5,320.2 L411.5,319.8 L412.5,319.8 L413.5,319.7 L414.5,319.7 L415.5,320.2 L416.5,320.2 L417.5,319.8 L418.5,320.1 L419.5,320.1 L420.5,319.8 L421.5,320.2 L422.5,320.0 L423.5,319.9 L424.5,320.5 L425.5,319.7 L426.5,320.3 L427.5,319.4 L428.5,319.8" stroke="#333" stroke-width="1.0" fill="none" stroke-linejoin="round"/>
<path d="M308.5,318.4 L309.0,318.4 L309.5,318.4 L310.0,318.4 L310.5,318.4 L311.0,318.4 L311.5,318.4 L312.0,318.4 L312.5,318.4 L313.0,318.4 L313.5,318.4 L314.0,318.4 L314.5,318.4 L315.0,318.3 L315.5,318.3 L316.0,318.3 L316.5,318.3 L317.0,318.3 L317.5,318.3 L318.0,318.3 L318.5,318.3 L319.0,318.3 L319.5,318.2 L320.0,318.2 L320.5,318.2 L321.0,318.2 L321.5,318.2 L322.0,318.1 L322.5,318.1 L323.0,318.1 L323.5,318.1 L324.0,318.0 L324.5,318.0 L325.0,317.9 L325.5,317.9 L326.0,317.8 L326.5,317.7 L327.0,317.6 L327.5,317.5 L328.0,317.4 L328.5,317.3 L329.0,317.1 L329.5,317.0 L330.0,316.8 L330.5,316.5 L331.0,316.2 L331.5,315.9 L332.0,315.6 L332.5,315.2 L333.0,314.7 L333.5,314.2 L334.0,313.7 L334.5,313.1 L335.0,312.4 L335.5,311.7 L336.0,310.9 L336.5,310.0 L337.0,309.1 L337.5,308.1 L338.0,307.1 L338.5,306.1 L339.0,305.0 L339.5,303.8 L340.0,302.6 L340.5,301.5 L341.0,300.3 L341.5,299.1 L342.0,297.9 L342.5,296.8 L343.0,295.7 L343.5,294.7 L344.0,293.8 L344.5,292.9 L345.0,292.1 L345.5,291.4 L346.0,290.8 L346.5,290.4 L347.0,290.0 L347.5,289.7 L348.0,289.5 L348.5,289.3 L349.0,289.3 L349.5,289.2 L350.0,289.3 L350.5,289.3 L351.0,289.3 L351.5,289.4 L352.0,289.4 L352.5,289.4 L353.0,289.3 L353.5,289.2 L354.0,289.0 L354.5,288.8 L355.0,288.5 L355.5,288.2 L356.0,287.8 L356.5,287.3 L357.0,286.8 L357.5,286.2 L358.0,285.5 L358.5,284.8 L359.0,284.1 L359.5,283.3 L360.0,282.5 L360.5,281.7 L361.0,281.0 L361.5,280.2 L362.0,279.4 L362.5,278.7 L363.0,278.0 L363.5,277.4 L364.0,276.8 L364.5,276.3 L365.0,275.9 L365.5,275.6 L366.0,275.3 L366.5,275.2 L367.0,275.1 L367.5,275.2 L368.0,275.3 L368.5,275.6 L369.0,275.9 L369.5,276.4 L370.0,276.9 L370.5,277.5 L371.0,278.3 L371.5,279.1 L372.0,279.9 L372.5,280.9 L373.0,281.9 L373.5,282.9 L374.0,284.0 L374.5,285.2 L375.0,286.4 L375.5,287.6 L376.0,288.8 L376.5,290.0 L377.0,291.3 L377.5,292.5 L378.0,293.7 L378.5,295.0 L379.0,296.2 L379.5,297.4 L380.0,298.6 L380.5,299.7 L381.0,300.8 L381.5,301.9 L382.0,303.0 L382.5,304.0 L383.0,305.0 L383.5,305.9 L384.0,306.8 L384.5,307.6 L385.0,308.5 L385.5,309.2 L386.0,310.0 L386.5,310.6 L387.0,311.3 L387.5,311.9 L388.0,312.4 L388.5,313.0 L389.0,313.5 L389.5,313.9 L390.0,314.3 L390.5,314.7 L391.0,315.1 L391.5,315.4 L392.0,315.7 L392.5,316.0 L393.0,316.3 L393.5,316.5 L394.0,316.7 L394.5,316.9 L395.0,317.1 L395.5,317.2 L396.0,317.4 L396.5,317.5 L397.0,317.6 L397.5,317.7 L398.0,317.8 L398.5,317.9 L399.0,318.0 L399.5,318.1 L400.0,318.2 L400.5,318.2 L401.0,318.3 L401.5,318.3 L402.0,318.4 L402.5,318.4 L403.0,318.4 L403.5,318.5 L404.0,318.5 L404.5,318.5 L405.0,318.6 L405.5,318.6 L406.0,318.6 L406.5,318.6 L407.0,318.7 L407.5,318.7 L408.0,318.7 L408.5,318.7 L409.0,318.7 L409.5,318.8 L410.0,318.8 L410.5,318.8 L411.0,318.8 L411.5,318.8 L412.0,318.8 L412.5,318.8 L413.0,318.8 L413.5,318.9 L414.0,318.9 L414.5,318.9 L415.0,318.9 L415.5,318.9 L416.0,318.9 L416.5,318.9 L417.0,318.9 L417.5,318.9" stroke="#e8473c" stroke-width="1.3" fill="none"/>
<path d="M319.5,318.5 L320.0,318.5 L320.5,318.5 L321.0,318.5 L321.5,318.5 L322.0,318.5 L322.5,318.5 L323.0,318.4 L323.5,318.4 L324.0,318.4 L324.5,318.4 L325.0,318.4 L325.5,318.4 L326.0,318.4 L326.5,318.4 L327.0,318.4 L327.5,318.3 L328.0,318.3 L328.5,318.3 L329.0,318.3 L329.5,318.3 L330.0,318.3 L330.5,318.2 L331.0,318.2 L331.5,318.2 L332.0,318.1 L332.5,318.1 L333.0,318.1 L333.5,318.0 L334.0,318.0 L334.5,317.9 L335.0,317.9 L335.5,317.8 L336.0,317.7 L336.5,317.6 L337.0,317.5 L337.5,317.4 L338.0,317.3 L338.5,317.2 L339.0,317.0 L339.5,316.9 L340.0,316.7 L340.5,316.5 L341.0,316.3 L341.5,316.1 L342.0,315.8 L342.5,315.6 L343.0,315.3 L343.5,314.9 L344.0,314.6 L344.5,314.2 L345.0,313.8 L345.5,313.3 L346.0,312.8 L346.5,312.3 L347.0,311.8 L347.5,311.2 L348.0,310.5 L348.5,309.8 L349.0,309.1 L349.5,308.3 L350.0,307.5 L350.5,306.7 L351.0,305.8 L351.5,304.9 L352.0,303.9 L352.5,302.9 L353.0,301.8 L353.5,300.8 L354.0,299.6 L354.5,298.5 L355.0,297.3 L355.5,296.1 L356.0,294.9 L356.5,293.7 L357.0,292.5 L357.5,291.3 L358.0,290.0 L358.5,288.8 L359.0,287.6 L359.5,286.4 L360.0,285.2 L360.5,284.1 L361.0,283.0 L361.5,282.0 L362.0,281.0 L362.5,280.1 L363.0,279.2 L363.5,278.5 L364.0,277.8 L364.5,277.2 L365.0,276.7 L365.5,276.2 L366.0,275.9 L366.5,275.7 L367.0,275.6 L367.5,275.6 L368.0,275.7 L368.5,276.0 L369.0,276.3 L369.5,276.7 L370.0,277.2 L370.5,277.9 L371.0,278.6 L371.5,279.4 L372.0,280.2 L372.5,281.1 L373.0,282.1 L373.5,283.2 L374.0,284.3 L374.5,285.4 L375.0,286.6 L375.5,287.8 L376.0,289.0 L376.5,290.2 L377.0,291.5 L377.5,292.7 L378.0,293.9 L378.5,295.2 L379.0,296.4 L379.5,297.6 L380.0,298.7 L380.5,299.9 L381.0,301.0 L381.5,302.1 L382.0,303.1 L382.5,304.1 L383.0,305.1 L383.5,306.0 L384.0,306.9 L384.5,307.8 L385.0,308.6 L385.5,309.3 L386.0,310.1 L386.5,310.8 L387.0,311.4 L387.5,312.0 L388.0,312.6 L388.5,313.1 L389.0,313.6 L389.5,314.0 L390.0,314.4 L390.5,314.8 L391.0,315.2 L391.5,315.5 L392.0,315.8 L392.5,316.1 L393.0,316.3 L393.5,316.6 L394.0,316.8 L394.5,317.0 L395.0,317.2 L395.5,317.3 L396.0,317.5 L396.5,317.6 L397.0,317.7 L397.5,317.8 L398.0,317.9 L398.5,318.0 L399.0,318.1 L399.5,318.2 L400.0,318.2 L400.5,318.3 L401.0,318.3 L401.5,318.4 L402.0,318.4 L402.5,318.5 L403.0,318.5 L403.5,318.5 L404.0,318.6 L404.5,318.6 L405.0,318.6 L405.5,318.6 L406.0,318.7 L406.5,318.7 L407.0,318.7 L407.5,318.7 L408.0,318.7 L408.5,318.8 L409.0,318.8 L409.5,318.8 L410.0,318.8 L410.5,318.8 L411.0,318.8 L411.5,318.9 L412.0,318.9 L412.5,318.9 L413.0,318.9 L413.5,318.9 L414.0,318.9 L414.5,318.9 L415.0,318.9" stroke="#3c9c5c" stroke-width="1.1" fill="none"/>
<path d="M324.0,318.5 L324.5,318.5 L325.0,318.4 L325.5,318.4 L326.0,318.3 L326.5,318.3 L327.0,318.2 L327.5,318.1 L328.0,318.0 L328.5,317.9 L329.0,317.8 L329.5,317.6 L330.0,317.5 L330.5,317.2 L331.0,317.0 L331.5,316.7 L332.0,316.4 L332.5,316.0 L333.0,315.6 L333.5,315.2 L334.0,314.7 L334.5,314.1 L335.0,313.5 L335.5,312.9 L336.0,312.1 L336.5,311.4 L337.0,310.6 L337.5,309.7 L338.0,308.8 L338.5,307.9 L339.0,306.9 L339.5,305.9 L340.0,304.9 L340.5,303.9 L341.0,303.0 L341.5,302.0 L342.0,301.1 L342.5,300.3 L343.0,299.5 L343.5,298.8 L344.0,298.2 L344.5,297.7 L345.0,297.4 L345.5,297.1 L346.0,297.0 L346.5,297.1 L347.0,297.2 L347.5,297.5 L348.0,298.0 L348.5,298.5 L349.0,299.2 L349.5,299.9 L350.0,300.8 L350.5,301.6 L351.0,302.6 L351.5,303.5 L352.0,304.5 L352.5,305.5 L353.0,306.5 L353.5,307.5 L354.0,308.5 L354.5,309.4 L355.0,310.3 L355.5,311.1 L356.0,311.9 L356.5,312.6 L357.0,313.3 L357.5,314.0 L358.0,314.6 L358.5,315.1 L359.0,315.6 L359.5,316.0 L360.0,316.4 L360.5,316.7 L361.0,317.0 L361.5,317.3 L362.0,317.5 L362.5,317.7 L363.0,317.9 L363.5,318.0 L364.0,318.2 L364.5,318.3 L365.0,318.4 L365.5,318.4 L366.0,318.5 L366.5,318.6 L367.0,318.6 L367.5,318.7 L368.0,318.7" stroke="#9a6cc4" stroke-width="1.1" fill="none"/>
<path d="M254.5,318.6 L429.0,319.4" stroke="#4b73b8" stroke-width="1.3" fill="none"/>
<path d="M370.6,200.5 L370.6,309.0" stroke="#111" stroke-width="1.3" stroke-dasharray="2.2,1.8" fill="none"/>
<path d="M370.5,264.8 L366.0,264.8" stroke="#111" stroke-width="2.4" fill="none"/>
<path d="M364.0,264.8 L367.5,262.5 L367.5,267.1 Z" fill="#111"/>
<rect x="254.5" y="192.5" width="174.5" height="132.5" fill="none" stroke="#3c3c3c" stroke-width="1.4"/>
<path d="M280.7,325.0 L280.7,322.5" stroke="#3c3c3c" stroke-width="1.2"/>
<path d="M306.9,325.0 L306.9,322.5" stroke="#3c3c3c" stroke-width="1.2"/>
<path d="M333.0,325.0 L333.0,322.5" stroke="#3c3c3c" stroke-width="1.2"/>
<path d="M359.2,325.0 L359.2,322.5" stroke="#3c3c3c" stroke-width="1.2"/>
<path d="M385.4,325.0 L385.4,322.5" stroke="#3c3c3c" stroke-width="1.2"/>
<path d="M411.6,325.0 L411.6,322.5" stroke="#3c3c3c" stroke-width="1.2"/>
<text x="254.5" y="334.4" font-size="9.5" fill="#000" font-weight="bold" text-anchor="middle" >168</text>
<text x="306.9" y="334.4" font-size="9.5" fill="#000" font-weight="bold" text-anchor="middle" >165</text>
<text x="359.2" y="334.4" font-size="9.5" fill="#000" font-weight="bold" text-anchor="middle" >162</text>
<text x="411.6" y="334.4" font-size="9.5" fill="#000" font-weight="bold" text-anchor="middle" >159</text>
<text x="341.8" y="353.3" font-size="12.5" fill="#000" font-weight="bold" text-anchor="middle" >Binding Energy (eV)</text>
<text x="0.0" y="0.0" font-size="12.3" fill="#000" font-weight="bold" text-anchor="middle" transform="translate(242.3,254.6) rotate(-90)">Intensity (a.u.)</text>
<text x="231.6" y="197.7" font-size="17.6" fill="#000" font-weight="bold" text-anchor="start" >e</text>
<text x="375.4" y="210.0" font-size="9.5" fill="#3a9a5a" font-weight="bold" text-anchor="start" >S 2p<tspan font-size="5.89" dy="3.0">3/2</tspan></text>
<text x="331.4" y="222.0" font-size="9.5" fill="#9a6cc4" font-weight="bold" text-anchor="start" >S 2p<tspan font-size="5.89" dy="3.0">1/2</tspan></text>
<text x="280.0" y="253.0" font-size="9.8" fill="#000" font-weight="bold" text-anchor="start" >ZCIS</text>
<text x="267.6" y="314.3" font-size="9.5" fill="#000" font-weight="bold" text-anchor="start" >CeO<tspan font-size="5.89" dy="3.0">2</tspan><tspan dy="-3.0">/ZCIS</tspan></text>
</g>
<g>
<path d="M468.0,254.2 L469.0,253.2 L470.0,254.5 L471.0,256.2 L472.0,254.2 L473.0,253.7 L474.0,255.0 L475.0,256.8 L476.0,255.1 L477.0,253.3 L478.0,254.3 L479.0,254.1 L480.0,254.4 L481.0,255.0 L482.0,252.2 L483.0,256.4 L484.0,255.7 L485.0,253.6 L486.0,254.2 L487.0,254.2 L488.0,254.0 L489.0,254.6 L490.0,255.0 L491.0,253.5 L492.0,255.3 L493.0,255.0 L494.0,255.5 L495.0,255.4 L496.0,254.1 L497.0,253.4 L498.0,253.3 L499.0,255.0 L500.0,254.6 L501.0,256.4 L502.0,255.3 L503.0,255.5 L504.0,253.5 L505.0,251.8 L506.0,251.8 L507.0,252.9 L508.0,254.2 L509.0,254.8 L510.0,252.9 L511.0,252.9 L512.0,251.5 L513.0,251.0 L514.0,250.5 L515.0,249.5 L516.0,248.0 L517.0,247.9 L518.0,241.8 L519.0,239.7 L520.0,237.3 L521.0,236.1 L522.0,232.2 L523.0,228.2 L524.0,225.2 L525.0,227.2 L526.0,224.1 L527.0,227.6 L528.0,228.1 L529.0,229.0 L530.0,232.8 L531.0,235.7 L532.0,238.3 L533.0,242.3 L534.0,243.9 L535.0,245.3 L536.0,248.4 L537.0,250.0 L538.0,251.7 L539.0,252.9 L540.0,252.0 L541.0,252.3 L542.0,253.2 L543.0,253.7 L544.0,251.8 L545.0,254.7 L546.0,253.4 L547.0,252.4 L548.0,255.3 L549.0,254.0 L550.0,255.9 L551.0,252.8 L552.0,254.8 L553.0,255.5 L554.0,256.1 L555.0,255.1 L556.0,254.3 L557.0,255.0 L558.0,254.6 L559.0,253.9 L560.0,255.5 L561.0,258.3 L562.0,255.9 L563.0,254.5 L564.0,255.5 L565.0,255.2 L566.0,255.9 L567.0,253.9 L568.0,255.9 L569.0,254.4 L570.0,254.1 L571.0,255.8 L572.0,254.2 L573.0,252.9 L574.0,257.2 L575.0,255.6 L576.0,254.7 L577.0,255.1 L578.0,255.1 L579.0,257.1 L580.0,255.9 L581.0,254.0 L582.0,254.3 L583.0,253.5 L584.0,254.9 L585.0,256.2 L586.0,254.8 L587.0,255.1 L588.0,253.1 L589.0,253.0 L590.0,251.4 L591.0,252.8 L592.0,251.8 L593.0,251.0 L594.0,251.4 L595.0,248.4 L596.0,247.1 L597.0,244.7 L598.0,244.2 L599.0,240.9 L600.0,237.9 L601.0,235.1 L602.0,232.4 L603.0,227.7 L604.0,223.8 L605.0,220.5 L606.0,217.1 L607.0,215.1 L608.0,213.5 L609.0,212.9 L610.0,213.5 L611.0,215.1 L612.0,217.1 L613.0,219.0 L614.0,224.3 L615.0,227.7 L616.0,230.2 L617.0,233.3 L618.0,237.1 L619.0,241.4 L620.0,242.8 L621.0,244.2 L622.0,248.1 L623.0,247.8 L624.0,250.3 L625.0,251.0 L626.0,252.7 L627.0,252.8 L628.0,253.4 L629.0,254.4 L630.0,253.2 L631.0,256.5 L632.0,252.5 L633.0,256.0 L634.0,256.5 L635.0,255.9 L636.0,255.2 L637.0,256.4 L638.0,256.4 L639.0,253.8 L640.0,257.3 L641.0,258.6 L642.0,256.9 L643.0,255.3" stroke="#444" stroke-width="1.0" fill="none" stroke-linejoin="round"/>
<path d="M468.0,255.8 L468.5,255.8 L469.0,255.8 L469.5,255.9 L470.0,255.9 L470.5,255.9 L471.0,255.9 L471.5,255.9 L472.0,255.9 L472.5,255.9 L473.0,255.9 L473.5,255.9 L474.0,255.9 L474.5,255.9 L475.0,255.9 L475.5,255.9 L476.0,255.9 L476.5,255.9 L477.0,255.9 L477.5,255.9 L478.0,255.9 L478.5,255.9 L479.0,255.9 L479.5,255.9 L480.0,255.9 L480.5,255.9 L481.0,255.9 L481.5,255.9 L482.0,255.9 L482.5,255.9 L483.0,255.9 L483.5,255.9 L484.0,255.9 L484.5,255.9 L485.0,255.9 L485.5,255.9 L486.0,255.9 L486.5,255.9 L487.0,255.9 L487.5,255.9 L488.0,255.9 L488.5,255.9 L489.0,255.9 L489.5,255.9 L490.0,255.9 L490.5,255.9 L491.0,255.9 L491.5,255.9 L492.0,255.9 L492.5,255.9 L493.0,255.9 L493.5,255.9 L494.0,255.9 L494.5,255.9 L495.0,255.9 L495.5,255.8 L496.0,255.8 L496.5,255.8 L497.0,255.8 L497.5,255.8 L498.0,255.8 L498.5,255.8 L499.0,255.8 L499.5,255.7 L500.0,255.7 L500.5,255.7 L501.0,255.7 L501.5,255.7 L502.0,255.6 L502.5,255.6 L503.0,255.6 L503.5,255.5 L504.0,255.5 L504.5,255.5 L505.0,255.4 L505.5,255.4 L506.0,255.3 L506.5,255.2 L507.0,255.2 L507.5,255.1 L508.0,255.0 L508.5,254.9 L509.0,254.8 L509.5,254.6 L510.0,254.5 L510.5,254.3 L511.0,254.1 L511.5,253.8 L512.0,253.5 L512.5,253.2 L513.0,252.8 L513.5,252.3 L514.0,251.8 L514.5,251.3 L515.0,250.6 L515.5,249.9 L516.0,249.1 L516.5,248.2 L517.0,247.2 L517.5,246.1 L518.0,244.9 L518.5,243.7 L519.0,242.4 L519.5,241.0 L520.0,239.5 L520.5,238.1 L521.0,236.5 L521.5,235.0 L522.0,233.5 L522.5,232.1 L523.0,230.7 L523.5,229.5 L524.0,228.4 L524.5,227.6 L525.0,226.9 L525.5,226.5 L526.0,226.4 L526.5,226.5 L527.0,226.9 L527.5,227.6 L528.0,228.5 L528.5,229.6 L529.0,230.8 L529.5,232.2 L530.0,233.7 L530.5,235.2 L531.0,236.7 L531.5,238.2 L532.0,239.7 L532.5,241.2 L533.0,242.6 L533.5,243.9 L534.0,245.2 L534.5,246.4 L535.0,247.4 L535.5,248.4 L536.0,249.4 L536.5,250.2 L537.0,250.9 L537.5,251.6 L538.0,252.2 L538.5,252.7 L539.0,253.2 L539.5,253.6 L540.0,253.9 L540.5,254.2 L541.0,254.5 L541.5,254.7 L542.0,254.9 L542.5,255.1 L543.0,255.3 L543.5,255.4 L544.0,255.5 L544.5,255.6 L545.0,255.7 L545.5,255.8 L546.0,255.9 L546.5,256.0 L547.0,256.0 L547.5,256.1 L548.0,256.1 L548.5,256.2 L549.0,256.2 L549.5,256.3 L550.0,256.3 L550.5,256.4 L551.0,256.4 L551.5,256.5 L552.0,256.5 L552.5,256.5 L553.0,256.6 L553.5,256.6 L554.0,256.6 L554.5,256.6 L555.0,256.7 L555.5,256.7 L556.0,256.7 L556.5,256.8 L557.0,256.8 L557.5,256.8 L558.0,256.8 L558.5,256.8 L559.0,256.9 L559.5,256.9 L560.0,256.9 L560.5,256.9 L561.0,257.0 L561.5,257.0 L562.0,257.0 L562.5,257.0 L563.0,257.0 L563.5,257.0 L564.0,257.1 L564.5,257.1 L565.0,257.1 L565.5,257.1 L566.0,257.1 L566.5,257.1 L567.0,257.2 L567.5,257.2 L568.0,257.2 L568.5,257.2 L569.0,257.2 L569.5,257.2 L570.0,257.2 L570.5,257.3 L571.0,257.3 L571.5,257.3 L572.0,257.3 L572.5,257.3 L573.0,257.3 L573.5,257.3 L574.0,257.3 L574.5,257.4 L575.0,257.4 L575.5,257.4 L576.0,257.4 L576.5,257.4 L577.0,257.4 L577.5,257.4 L578.0,257.4 L578.5,257.4 L579.0,257.5 L579.5,257.5 L580.0,257.5 L580.5,257.5 L581.0,257.5 L581.5,257.5 L582.0,257.5 L582.5,257.5 L583.0,257.5 L583.5,257.6 L584.0,257.6 L584.5,257.6 L585.0,257.6 L585.5,257.6 L586.0,257.6 L586.5,257.6 L587.0,257.6 L587.5,257.6 L588.0,257.6 L588.5,257.7 L589.0,257.7 L589.5,257.7 L590.0,257.7 L590.5,257.7 L591.0,257.7 L591.5,257.7 L592.0,257.7 L592.5,257.7 L593.0,257.7 L593.5,257.7 L594.0,257.8 L594.5,257.8 L595.0,257.8 L595.5,257.8 L596.0,257.8 L596.5,257.8 L597.0,257.8 L597.5,257.8 L598.0,257.8 L598.5,257.8 L599.0,257.8 L599.5,257.9 L600.0,257.9 L600.5,257.9 L601.0,257.9 L601.5,257.9 L602.0,257.9 L602.5,257.9 L603.0,257.9 L603.5,257.9 L604.0,257.9 L604.5,257.9 L605.0,257.9 L605.5,258.0 L606.0,258.0 L606.5,258.0 L607.0,258.0 L607.5,258.0 L608.0,258.0 L608.5,258.0 L609.0,258.0 L609.5,258.0 L610.0,258.0 L610.5,258.0 L611.0,258.0 L611.5,258.1 L612.0,258.1 L612.5,258.1 L613.0,258.1 L613.5,258.1 L614.0,258.1 L614.5,258.1 L615.0,258.1 L615.5,258.1 L616.0,258.1 L616.5,258.1 L617.0,258.1 L617.5,258.2 L618.0,258.2 L618.5,258.2 L619.0,258.2 L619.5,258.2 L620.0,258.2 L620.5,258.2 L621.0,258.2 L621.5,258.2 L622.0,258.2 L622.5,258.2 L623.0,258.2 L623.5,258.3 L624.0,258.3 L624.5,258.3 L625.0,258.3 L625.5,258.3 L626.0,258.3 L626.5,258.3 L627.0,258.3 L627.5,258.3 L628.0,258.3 L628.5,258.3 L629.0,258.3 L629.5,258.3 L630.0,258.4" stroke="#3c9c5c" stroke-width="1.3" fill="none"/>
<path d="M468.0,255.9 L468.5,255.9 L469.0,256.0 L469.5,256.0 L470.0,256.0 L470.5,256.0 L471.0,256.0 L471.5,256.0 L472.0,256.0 L472.5,256.0 L473.0,256.0 L473.5,256.0 L474.0,256.0 L474.5,256.0 L475.0,256.0 L475.5,256.0 L476.0,256.1 L476.5,256.1 L477.0,256.1 L477.5,256.1 L478.0,256.1 L478.5,256.1 L479.0,256.1 L479.5,256.1 L480.0,256.1 L480.5,256.1 L481.0,256.1 L481.5,256.1 L482.0,256.1 L482.5,256.1 L483.0,256.2 L483.5,256.2 L484.0,256.2 L484.5,256.2 L485.0,256.2 L485.5,256.2 L486.0,256.2 L486.5,256.2 L487.0,256.2 L487.5,256.2 L488.0,256.2 L488.5,256.2 L489.0,256.2 L489.5,256.2 L490.0,256.2 L490.5,256.3 L491.0,256.3 L491.5,256.3 L492.0,256.3 L492.5,256.3 L493.0,256.3 L493.5,256.3 L494.0,256.3 L494.5,256.3 L495.0,256.3 L495.5,256.3 L496.0,256.3 L496.5,256.3 L497.0,256.3 L497.5,256.3 L498.0,256.4 L498.5,256.4 L499.0,256.4 L499.5,256.4 L500.0,256.4 L500.5,256.4 L501.0,256.4 L501.5,256.4 L502.0,256.4 L502.5,256.4 L503.0,256.4 L503.5,256.4 L504.0,256.4 L504.5,256.4 L505.0,256.4 L505.5,256.4 L506.0,256.5 L506.5,256.5 L507.0,256.5 L507.5,256.5 L508.0,256.5 L508.5,256.5 L509.0,256.5 L509.5,256.5 L510.0,256.5 L510.5,256.5 L511.0,256.5 L511.5,256.5 L512.0,256.5 L512.5,256.5 L513.0,256.5 L513.5,256.6 L514.0,256.6 L514.5,256.6 L515.0,256.6 L515.5,256.6 L516.0,256.6 L516.5,256.6 L517.0,256.6 L517.5,256.6 L518.0,256.6 L518.5,256.6 L519.0,256.6 L519.5,256.6 L520.0,256.6 L520.5,256.6 L521.0,256.6 L521.5,256.6 L522.0,256.7 L522.5,256.7 L523.0,256.7 L523.5,256.7 L524.0,256.7 L524.5,256.7 L525.0,256.7 L525.5,256.7 L526.0,256.7 L526.5,256.7 L527.0,256.7 L527.5,256.7 L528.0,256.7 L528.5,256.7 L529.0,256.7 L529.5,256.7 L530.0,256.7 L530.5,256.7 L531.0,256.7 L531.5,256.8 L532.0,256.8 L532.5,256.8 L533.0,256.8 L533.5,256.8 L534.0,256.8 L534.5,256.8 L535.0,256.8 L535.5,256.8 L536.0,256.8 L536.5,256.8 L537.0,256.8 L537.5,256.8 L538.0,256.8 L538.5,256.8 L539.0,256.8 L539.5,256.8 L540.0,256.8 L540.5,256.8 L541.0,256.8 L541.5,256.8 L542.0,256.8 L542.5,256.8 L543.0,256.9 L543.5,256.9 L544.0,256.9 L544.5,256.9 L545.0,256.9 L545.5,256.9 L546.0,256.9 L546.5,256.9 L547.0,256.9 L547.5,256.9 L548.0,256.9 L548.5,256.9 L549.0,256.9 L549.5,256.9 L550.0,256.9 L550.5,256.9 L551.0,256.9 L551.5,256.9 L552.0,256.9 L552.5,256.9 L553.0,256.9 L553.5,256.9 L554.0,256.9 L554.5,256.9 L555.0,256.9 L555.5,256.9 L556.0,256.9 L556.5,256.9 L557.0,256.9 L557.5,256.9 L558.0,256.9 L558.5,256.9 L559.0,256.9 L559.5,256.9 L560.0,256.9 L560.5,256.9 L561.0,256.9 L561.5,256.9 L562.0,256.9 L562.5,256.9 L563.0,256.9 L563.5,256.9 L564.0,256.9 L564.5,256.9 L565.0,256.9 L565.5,256.9 L566.0,256.9 L566.5,256.8 L567.0,256.8 L567.5,256.8 L568.0,256.8 L568.5,256.8 L569.0,256.8 L569.5,256.8 L570.0,256.8 L570.5,256.8 L571.0,256.8 L571.5,256.8 L572.0,256.7 L572.5,256.7 L573.0,256.7 L573.5,256.7 L574.0,256.7 L574.5,256.7 L575.0,256.7 L575.5,256.6 L576.0,256.6 L576.5,256.6 L577.0,256.6 L577.5,256.5 L578.0,256.5 L578.5,256.5 L579.0,256.5 L579.5,256.4 L580.0,256.4 L580.5,256.4 L581.0,256.3 L581.5,256.3 L582.0,256.2 L582.5,256.2 L583.0,256.2 L583.5,256.1 L584.0,256.0 L584.5,256.0 L585.0,255.9 L585.5,255.8 L586.0,255.7 L586.5,255.7 L587.0,255.6 L587.5,255.4 L588.0,255.3 L588.5,255.2 L589.0,255.0 L589.5,254.8 L590.0,254.6 L590.5,254.4 L591.0,254.1 L591.5,253.8 L592.0,253.5 L592.5,253.1 L593.0,252.7 L593.5,252.2 L594.0,251.7 L594.5,251.1 L595.0,250.4 L595.5,249.7 L596.0,248.9 L596.5,248.0 L597.0,247.1 L597.5,246.0 L598.0,244.9 L598.5,243.7 L599.0,242.4 L599.5,241.0 L600.0,239.5 L600.5,238.0 L601.0,236.4 L601.5,234.7 L602.0,233.0 L602.5,231.2 L603.0,229.4 L603.5,227.6 L604.0,225.8 L604.5,224.1 L605.0,222.4 L605.5,220.8 L606.0,219.2 L606.5,217.9 L607.0,216.7 L607.5,215.7 L608.0,214.9 L608.5,214.4 L609.0,214.1 L609.5,214.1 L610.0,214.4 L610.5,215.0 L611.0,215.7 L611.5,216.8 L612.0,218.0 L612.5,219.3 L613.0,220.9 L613.5,222.5 L614.0,224.2 L614.5,226.0 L615.0,227.8 L615.5,229.6 L616.0,231.4 L616.5,233.2 L617.0,234.9 L617.5,236.6 L618.0,238.3 L618.5,239.8 L619.0,241.3 L619.5,242.7 L620.0,244.0 L620.5,245.2 L621.0,246.4 L621.5,247.4 L622.0,248.4 L622.5,249.3 L623.0,250.1 L623.5,250.9 L624.0,251.5 L624.5,252.1 L625.0,252.7 L625.5,253.2 L626.0,253.6 L626.5,254.0 L627.0,254.3 L627.5,254.7 L628.0,254.9 L628.5,255.2 L629.0,255.4 L629.5,255.6 L630.0,255.8 L630.5,255.9 L631.0,256.1 L631.5,256.2 L632.0,256.3 L632.5,256.4 L633.0,256.5 L633.5,256.6 L634.0,256.7 L634.5,256.8 L635.0,256.9 L635.5,256.9 L636.0,257.0 L636.5,257.1 L637.0,257.1 L637.5,257.2 L638.0,257.2 L638.5,257.3 L639.0,257.3 L639.5,257.4 L640.0,257.4 L640.5,257.4 L641.0,257.5 L641.5,257.5 L642.0,257.6 L642.5,257.6 L643.0,257.6" stroke="#b468b0" stroke-width="1.3" fill="none"/>
<path d="M468.0,256.0 L643.0,258.6" stroke="#d4a13c" stroke-width="1.3" fill="none"/>
<path d="M468.0,311.2 L469.0,309.7 L470.0,311.6 L471.0,309.8 L472.0,310.3 L473.0,309.6 L474.0,309.4 L475.0,310.4 L476.0,310.9 L477.0,308.3 L478.0,308.9 L479.0,309.6 L480.0,310.7 L481.0,310.2 L482.0,310.9 L483.0,309.0 L484.0,310.8 L485.0,309.6 L486.0,310.0 L487.0,310.1 L488.0,309.4 L489.0,308.8 L490.0,310.0 L491.0,309.8 L492.0,310.2 L493.0,308.4 L494.0,310.5 L495.0,311.6 L496.0,308.7 L497.0,311.1 L498.0,308.8 L499.0,310.2 L500.0,309.5 L501.0,308.1 L502.0,307.7 L503.0,310.3 L504.0,308.8 L505.0,308.9 L506.0,309.1 L507.0,309.2 L508.0,308.1 L509.0,307.4 L510.0,305.0 L511.0,306.2 L512.0,304.6 L513.0,303.6 L514.0,300.9 L515.0,298.6 L516.0,296.5 L517.0,292.7 L518.0,291.6 L519.0,285.7 L520.0,284.0 L521.0,280.7 L522.0,279.5 L523.0,278.0 L524.0,278.2 L525.0,276.7 L526.0,277.9 L527.0,280.6 L528.0,285.5 L529.0,289.6 L530.0,291.8 L531.0,293.1 L532.0,297.4 L533.0,299.9 L534.0,300.6 L535.0,303.2 L536.0,305.0 L537.0,306.0 L538.0,305.9 L539.0,306.1 L540.0,306.6 L541.0,308.1 L542.0,307.8 L543.0,308.7 L544.0,308.8 L545.0,309.6 L546.0,308.6 L547.0,311.4 L548.0,309.2 L549.0,310.3 L550.0,310.3 L551.0,310.0 L552.0,310.2 L553.0,309.7 L554.0,309.4 L555.0,308.7 L556.0,310.8 L557.0,309.8 L558.0,311.3 L559.0,310.7 L560.0,309.5 L561.0,311.4 L562.0,309.3 L563.0,310.6 L564.0,308.5 L565.0,311.5 L566.0,310.7 L567.0,310.4 L568.0,311.2 L569.0,311.8 L570.0,310.2 L571.0,310.5 L572.0,310.7 L573.0,309.5 L574.0,309.3 L575.0,309.1 L576.0,309.3 L577.0,310.7 L578.0,309.6 L579.0,310.1 L580.0,308.7 L581.0,310.0 L582.0,309.1 L583.0,311.7 L584.0,311.2 L585.0,308.0 L586.0,309.1 L587.0,308.5 L588.0,309.8 L589.0,309.7 L590.0,311.2 L591.0,306.4 L592.0,305.8 L593.0,306.3 L594.0,304.1 L595.0,301.9 L596.0,301.9 L597.0,297.1 L598.0,294.5 L599.0,295.6 L600.0,290.9 L601.0,287.3 L602.0,283.6 L603.0,281.1 L604.0,275.8 L605.0,272.0 L606.0,269.2 L607.0,267.9 L608.0,267.3 L609.0,266.5 L610.0,269.1 L611.0,269.6 L612.0,273.2 L613.0,274.7 L614.0,281.5 L615.0,284.1 L616.0,286.4 L617.0,291.6 L618.0,293.6 L619.0,297.8 L620.0,299.4 L621.0,301.7 L622.0,304.3 L623.0,303.8 L624.0,307.2 L625.0,306.8 L626.0,309.1 L627.0,309.0 L628.0,308.9 L629.0,310.2 L630.0,310.5 L631.0,310.6 L632.0,312.5 L633.0,309.0 L634.0,311.7 L635.0,312.1 L636.0,310.6 L637.0,309.9 L638.0,311.5 L639.0,313.1 L640.0,313.3 L641.0,310.8 L642.0,313.0 L643.0,313.0" stroke="#444" stroke-width="1.0" fill="none" stroke-linejoin="round"/>
<path d="M468.0,310.8 L468.5,310.8 L469.0,310.8 L469.5,310.8 L470.0,310.8 L470.5,310.8 L471.0,310.8 L471.5,310.8 L472.0,310.8 L472.5,310.8 L473.0,310.8 L473.5,310.8 L474.0,310.9 L474.5,310.9 L475.0,310.9 L475.5,310.9 L476.0,310.9 L476.5,310.9 L477.0,310.9 L477.5,310.9 L478.0,310.9 L478.5,310.9 L479.0,310.9 L479.5,310.9 L480.0,310.9 L480.5,310.9 L481.0,310.9 L481.5,310.9 L482.0,310.9 L482.5,310.9 L483.0,310.9 L483.5,310.9 L484.0,310.9 L484.5,310.9 L485.0,310.9 L485.5,310.9 L486.0,310.9 L486.5,310.9 L487.0,310.9 L487.5,310.9 L488.0,310.9 L488.5,310.9 L489.0,310.9 L489.5,310.9 L490.0,310.8 L490.5,310.8 L491.0,310.8 L491.5,310.8 L492.0,310.8 L492.5,310.8 L493.0,310.8 L493.5,310.8 L494.0,310.8 L494.5,310.8 L495.0,310.7 L495.5,310.7 L496.0,310.7 L496.5,310.7 L497.0,310.7 L497.5,310.7 L498.0,310.6 L498.5,310.6 L499.0,310.6 L499.5,310.6 L500.0,310.5 L500.5,310.5 L501.0,310.5 L501.5,310.4 L502.0,310.4 L502.5,310.3 L503.0,310.3 L503.5,310.2 L504.0,310.1 L504.5,310.1 L505.0,310.0 L505.5,309.9 L506.0,309.8 L506.5,309.6 L507.0,309.5 L507.5,309.3 L508.0,309.1 L508.5,308.9 L509.0,308.6 L509.5,308.3 L510.0,308.0 L510.5,307.6 L511.0,307.1 L511.5,306.6 L512.0,306.0 L512.5,305.3 L513.0,304.6 L513.5,303.7 L514.0,302.8 L514.5,301.8 L515.0,300.7 L515.5,299.5 L516.0,298.2 L516.5,296.8 L517.0,295.4 L517.5,293.8 L518.0,292.3 L518.5,290.7 L519.0,289.0 L519.5,287.4 L520.0,285.8 L520.5,284.3 L521.0,282.9 L521.5,281.6 L522.0,280.4 L522.5,279.5 L523.0,278.8 L523.5,278.4 L524.0,278.3 L524.5,278.4 L525.0,278.9 L525.5,279.6 L526.0,280.5 L526.5,281.6 L527.0,283.0 L527.5,284.4 L528.0,286.0 L528.5,287.6 L529.0,289.2 L529.5,290.9 L530.0,292.5 L530.5,294.1 L531.0,295.6 L531.5,297.1 L532.0,298.5 L532.5,299.8 L533.0,301.0 L533.5,302.1 L534.0,303.1 L534.5,304.1 L535.0,304.9 L535.5,305.7 L536.0,306.4 L536.5,307.0 L537.0,307.5 L537.5,308.0 L538.0,308.4 L538.5,308.8 L539.0,309.1 L539.5,309.4 L540.0,309.7 L540.5,309.9 L541.0,310.1 L541.5,310.2 L542.0,310.4 L542.5,310.5 L543.0,310.6 L543.5,310.7 L544.0,310.8 L544.5,310.9 L545.0,311.0 L545.5,311.1 L546.0,311.1 L546.5,311.2 L547.0,311.2 L547.5,311.3 L548.0,311.3 L548.5,311.4 L549.0,311.4 L549.5,311.5 L550.0,311.5 L550.5,311.6 L551.0,311.6 L551.5,311.6 L552.0,311.7 L552.5,311.7 L553.0,311.7 L553.5,311.8 L554.0,311.8 L554.5,311.8 L555.0,311.9 L555.5,311.9 L556.0,311.9 L556.5,311.9 L557.0,312.0 L557.5,312.0 L558.0,312.0 L558.5,312.0 L559.0,312.1 L559.5,312.1 L560.0,312.1 L560.5,312.1 L561.0,312.1 L561.5,312.2 L562.0,312.2 L562.5,312.2 L563.0,312.2 L563.5,312.2 L564.0,312.3 L564.5,312.3 L565.0,312.3 L565.5,312.3 L566.0,312.3 L566.5,312.3 L567.0,312.4 L567.5,312.4 L568.0,312.4 L568.5,312.4 L569.0,312.4 L569.5,312.4 L570.0,312.5 L570.5,312.5 L571.0,312.5 L571.5,312.5 L572.0,312.5 L572.5,312.5 L573.0,312.5 L573.5,312.6 L574.0,312.6 L574.5,312.6 L575.0,312.6 L575.5,312.6 L576.0,312.6 L576.5,312.6 L577.0,312.6 L577.5,312.7 L578.0,312.7 L578.5,312.7 L579.0,312.7 L579.5,312.7 L580.0,312.7 L580.5,312.7 L581.0,312.7 L581.5,312.8 L582.0,312.8 L582.5,312.8 L583.0,312.8 L583.5,312.8 L584.0,312.8 L584.5,312.8 L585.0,312.8 L585.5,312.8 L586.0,312.9 L586.5,312.9 L587.0,312.9 L587.5,312.9 L588.0,312.9 L588.5,312.9 L589.0,312.9 L589.5,312.9 L590.0,312.9 L590.5,313.0 L591.0,313.0 L591.5,313.0 L592.0,313.0 L592.5,313.0 L593.0,313.0 L593.5,313.0 L594.0,313.0 L594.5,313.0 L595.0,313.1 L595.5,313.1 L596.0,313.1 L596.5,313.1 L597.0,313.1 L597.5,313.1 L598.0,313.1 L598.5,313.1 L599.0,313.1 L599.5,313.1 L600.0,313.2 L600.5,313.2 L601.0,313.2 L601.5,313.2 L602.0,313.2 L602.5,313.2 L603.0,313.2 L603.5,313.2 L604.0,313.2 L604.5,313.2 L605.0,313.3 L605.5,313.3 L606.0,313.3 L606.5,313.3 L607.0,313.3 L607.5,313.3 L608.0,313.3 L608.5,313.3 L609.0,313.3 L609.5,313.3 L610.0,313.3 L610.5,313.4 L611.0,313.4 L611.5,313.4 L612.0,313.4 L612.5,313.4 L613.0,313.4 L613.5,313.4 L614.0,313.4 L614.5,313.4 L615.0,313.4 L615.5,313.5 L616.0,313.5 L616.5,313.5 L617.0,313.5 L617.5,313.5 L618.0,313.5 L618.5,313.5 L619.0,313.5 L619.5,313.5 L620.0,313.5 L620.5,313.5 L621.0,313.6 L621.5,313.6 L622.0,313.6 L622.5,313.6 L623.0,313.6 L623.5,313.6 L624.0,313.6 L624.5,313.6 L625.0,313.6 L625.5,313.6 L626.0,313.6 L626.5,313.7 L627.0,313.7 L627.5,313.7 L628.0,313.7 L628.5,313.7 L629.0,313.7 L629.5,313.7 L630.0,313.7 L630.5,313.7 L631.0,313.7 L631.5,313.7 L632.0,313.8 L632.5,313.8 L633.0,313.8 L633.5,313.8 L634.0,313.8 L634.5,313.8 L635.0,313.8 L635.5,313.8 L636.0,313.8 L636.5,313.8" stroke="#3c9c5c" stroke-width="1.3" fill="none"/>
<path d="M468.0,310.9 L468.5,310.9 L469.0,311.0 L469.5,311.0 L470.0,311.0 L470.5,311.0 L471.0,311.0 L471.5,311.0 L472.0,311.0 L472.5,311.0 L473.0,311.0 L473.5,311.0 L474.0,311.0 L474.5,311.0 L475.0,311.1 L475.5,311.1 L476.0,311.1 L476.5,311.1 L477.0,311.1 L477.5,311.1 L478.0,311.1 L478.5,311.1 L479.0,311.1 L479.5,311.1 L480.0,311.1 L480.5,311.1 L481.0,311.1 L481.5,311.2 L482.0,311.2 L482.5,311.2 L483.0,311.2 L483.5,311.2 L484.0,311.2 L484.5,311.2 L485.0,311.2 L485.5,311.2 L486.0,311.2 L486.5,311.2 L487.0,311.2 L487.5,311.3 L488.0,311.3 L488.5,311.3 L489.0,311.3 L489.5,311.3 L490.0,311.3 L490.5,311.3 L491.0,311.3 L491.5,311.3 L492.0,311.3 L492.5,311.3 L493.0,311.3 L493.5,311.3 L494.0,311.4 L494.5,311.4 L495.0,311.4 L495.5,311.4 L496.0,311.4 L496.5,311.4 L497.0,311.4 L497.5,311.4 L498.0,311.4 L498.5,311.4 L499.0,311.4 L499.5,311.4 L500.0,311.4 L500.5,311.5 L501.0,311.5 L501.5,311.5 L502.0,311.5 L502.5,311.5 L503.0,311.5 L503.5,311.5 L504.0,311.5 L504.5,311.5 L505.0,311.5 L505.5,311.5 L506.0,311.5 L506.5,311.5 L507.0,311.6 L507.5,311.6 L508.0,311.6 L508.5,311.6 L509.0,311.6 L509.5,311.6 L510.0,311.6 L510.5,311.6 L511.0,311.6 L511.5,311.6 L512.0,311.6 L512.5,311.6 L513.0,311.6 L513.5,311.6 L514.0,311.7 L514.5,311.7 L515.0,311.7 L515.5,311.7 L516.0,311.7 L516.5,311.7 L517.0,311.7 L517.5,311.7 L518.0,311.7 L518.5,311.7 L519.0,311.7 L519.5,311.7 L520.0,311.7 L520.5,311.7 L521.0,311.8 L521.5,311.8 L522.0,311.8 L522.5,311.8 L523.0,311.8 L523.5,311.8 L524.0,311.8 L524.5,311.8 L525.0,311.8 L525.5,311.8 L526.0,311.8 L526.5,311.8 L527.0,311.8 L527.5,311.8 L528.0,311.8 L528.5,311.9 L529.0,311.9 L529.5,311.9 L530.0,311.9 L530.5,311.9 L531.0,311.9 L531.5,311.9 L532.0,311.9 L532.5,311.9 L533.0,311.9 L533.5,311.9 L534.0,311.9 L534.5,311.9 L535.0,311.9 L535.5,311.9 L536.0,311.9 L536.5,311.9 L537.0,312.0 L537.5,312.0 L538.0,312.0 L538.5,312.0 L539.0,312.0 L539.5,312.0 L540.0,312.0 L540.5,312.0 L541.0,312.0 L541.5,312.0 L542.0,312.0 L542.5,312.0 L543.0,312.0 L543.5,312.0 L544.0,312.0 L544.5,312.0 L545.0,312.0 L545.5,312.0 L546.0,312.0 L546.5,312.0 L547.0,312.0 L547.5,312.0 L548.0,312.0 L548.5,312.1 L549.0,312.1 L549.5,312.1 L550.0,312.1 L550.5,312.1 L551.0,312.1 L551.5,312.1 L552.0,312.1 L552.5,312.1 L553.0,312.1 L553.5,312.1 L554.0,312.1 L554.5,312.1 L555.0,312.1 L555.5,312.1 L556.0,312.1 L556.5,312.1 L557.0,312.1 L557.5,312.1 L558.0,312.1 L558.5,312.1 L559.0,312.1 L559.5,312.1 L560.0,312.1 L560.5,312.1 L561.0,312.1 L561.5,312.1 L562.0,312.1 L562.5,312.1 L563.0,312.1 L563.5,312.1 L564.0,312.1 L564.5,312.1 L565.0,312.0 L565.5,312.0 L566.0,312.0 L566.5,312.0 L567.0,312.0 L567.5,312.0 L568.0,312.0 L568.5,312.0 L569.0,312.0 L569.5,312.0 L570.0,312.0 L570.5,312.0 L571.0,311.9 L571.5,311.9 L572.0,311.9 L572.5,311.9 L573.0,311.9 L573.5,311.9 L574.0,311.9 L574.5,311.8 L575.0,311.8 L575.5,311.8 L576.0,311.8 L576.5,311.8 L577.0,311.7 L577.5,311.7 L578.0,311.7 L578.5,311.6 L579.0,311.6 L579.5,311.6 L580.0,311.5 L580.5,311.5 L581.0,311.5 L581.5,311.4 L582.0,311.4 L582.5,311.3 L583.0,311.3 L583.5,311.2 L584.0,311.1 L584.5,311.1 L585.0,311.0 L585.5,310.9 L586.0,310.8 L586.5,310.7 L587.0,310.6 L587.5,310.4 L588.0,310.3 L588.5,310.1 L589.0,309.9 L589.5,309.7 L590.0,309.4 L590.5,309.1 L591.0,308.8 L591.5,308.4 L592.0,308.0 L592.5,307.5 L593.0,307.0 L593.5,306.5 L594.0,305.8 L594.5,305.1 L595.0,304.3 L595.5,303.4 L596.0,302.5 L596.5,301.5 L597.0,300.3 L597.5,299.1 L598.0,297.8 L598.5,296.4 L599.0,295.0 L599.5,293.4 L600.0,291.8 L600.5,290.1 L601.0,288.3 L601.5,286.5 L602.0,284.7 L602.5,282.8 L603.0,281.0 L603.5,279.1 L604.0,277.3 L604.5,275.6 L605.0,274.0 L605.5,272.5 L606.0,271.2 L606.5,270.0 L607.0,269.1 L607.5,268.4 L608.0,268.0 L608.5,267.9 L609.0,268.1 L609.5,268.5 L610.0,269.2 L610.5,270.1 L611.0,271.3 L611.5,272.6 L612.0,274.1 L612.5,275.7 L613.0,277.5 L613.5,279.3 L614.0,281.2 L614.5,283.0 L615.0,284.9 L615.5,286.8 L616.0,288.6 L616.5,290.4 L617.0,292.1 L617.5,293.7 L618.0,295.3 L618.5,296.8 L619.0,298.2 L619.5,299.5 L620.0,300.7 L620.5,301.9 L621.0,302.9 L621.5,303.9 L622.0,304.8 L622.5,305.6 L623.0,306.3 L623.5,307.0 L624.0,307.6 L624.5,308.1 L625.0,308.6 L625.5,309.0 L626.0,309.4 L626.5,309.7 L627.0,310.0 L627.5,310.3 L628.0,310.5 L628.5,310.8 L629.0,311.0 L629.5,311.1 L630.0,311.3 L630.5,311.4 L631.0,311.6 L631.5,311.7 L632.0,311.8 L632.5,311.9 L633.0,312.0 L633.5,312.1 L634.0,312.1 L634.5,312.2 L635.0,312.3 L635.5,312.3 L636.0,312.4 L636.5,312.5 L637.0,312.5 L637.5,312.6 L638.0,312.6 L638.5,312.7 L639.0,312.7 L639.5,312.8 L640.0,312.8 L640.5,312.9 L641.0,312.9 L641.5,312.9 L642.0,313.0 L642.5,313.0 L643.0,313.0" stroke="#b468b0" stroke-width="1.3" fill="none"/>
<path d="M468.0,311.0 L643.0,314.0" stroke="#4b73b8" stroke-width="1.3" fill="none"/>
<path d="M610.2,203.5 L610.2,285.0" stroke="#111" stroke-width="1.3" stroke-dasharray="2.2,1.8" fill="none"/>
<path d="M610.0,262.6 L605.0,262.6" stroke="#111" stroke-width="1.4" fill="none"/>
<path d="M603.0,262.6 L606.5,260.3 L606.5,264.9 Z" fill="#111"/>
<rect x="468" y="192" width="175" height="132" fill="none" stroke="#3c3c3c" stroke-width="1.4"/>
<path d="M486.8,324.0 L486.8,321.5" stroke="#3c3c3c" stroke-width="1.2"/>
<path d="M505.5,324.0 L505.5,321.5" stroke="#3c3c3c" stroke-width="1.2"/>
<path d="M524.2,324.0 L524.2,321.5" stroke="#3c3c3c" stroke-width="1.2"/>
<path d="M543.0,324.0 L543.0,321.5" stroke="#3c3c3c" stroke-width="1.2"/>
<path d="M561.8,324.0 L561.8,321.5" stroke="#3c3c3c" stroke-width="1.2"/>
<path d="M580.5,324.0 L580.5,321.5" stroke="#3c3c3c" stroke-width="1.2"/>
<path d="M599.2,324.0 L599.2,321.5" stroke="#3c3c3c" stroke-width="1.2"/>
<path d="M618.0,324.0 L618.0,321.5" stroke="#3c3c3c" stroke-width="1.2"/>
<path d="M636.8,324.0 L636.8,321.5" stroke="#3c3c3c" stroke-width="1.2"/>
<text x="468.0" y="334.0" font-size="9.5" fill="#000" font-weight="bold" text-anchor="middle" >416</text>
<text x="505.5" y="334.0" font-size="9.5" fill="#000" font-weight="bold" text-anchor="middle" >413</text>
<text x="543.0" y="334.0" font-size="9.5" fill="#000" font-weight="bold" text-anchor="middle" >410</text>
<text x="580.5" y="334.0" font-size="9.5" fill="#000" font-weight="bold" text-anchor="middle" >407</text>
<text x="618.0" y="334.0" font-size="9.5" fill="#000" font-weight="bold" text-anchor="middle" >404</text>
<text x="555.5" y="352.5" font-size="12.5" fill="#000" font-weight="bold" text-anchor="middle" >Binding Energy (eV)</text>
<text x="0.0" y="0.0" font-size="12.3" fill="#000" font-weight="bold" text-anchor="middle" transform="translate(455.5,253.5) rotate(-90)">Intensity (a.u.)</text>
<text x="443.0" y="197.5" font-size="17.6" fill="#000" font-weight="bold" text-anchor="start" >f</text>
<text x="509.7" y="212.8" font-size="9.5" fill="#3a9a5a" font-weight="bold" text-anchor="start" >Cd 3d<tspan font-size="5.89" dy="3.0">3/2</tspan></text>
<text x="604.6" y="205.8" font-size="9.5" fill="#9a6cc4" font-weight="bold" text-anchor="start" >Cd 3d<tspan font-size="5.89" dy="3.0">5/2</tspan></text>
<text x="555.0" y="250.0" font-size="9.8" fill="#000" font-weight="bold" text-anchor="start" >ZCIS</text>
<text x="543.0" y="305.5" font-size="9.5" fill="#000" font-weight="bold" text-anchor="start" >CeO<tspan font-size="5.89" dy="3.0">2</tspan><tspan dy="-3.0">/ZCIS</tspan></text>
</g>
</svg></body></html>
